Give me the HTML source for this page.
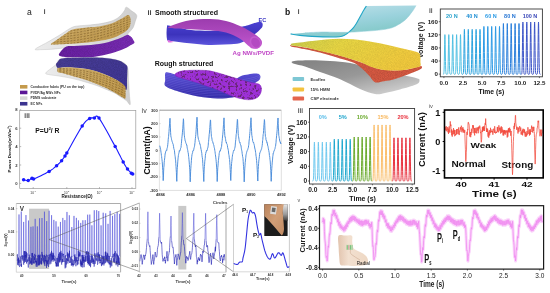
<!DOCTYPE html>
<html><head><meta charset="utf-8"><style>
html,body{margin:0;padding:0;background:#fff;width:550px;height:293px;overflow:hidden}
svg{display:block}
text{font-family:"Liberation Sans",Arial,sans-serif}
</style></head><body>
<svg width="550" height="293" viewBox="0 0 550 293">
<rect width="550" height="293" fill="#fff"/>
<defs>
<linearGradient id="gEco" x1="0.2" y1="0" x2="0.7" y2="1"><stop offset="0" stop-color="#b8dee8"/><stop offset="0.5" stop-color="#8fcdd8"/><stop offset="1" stop-color="#6cbfba"/></linearGradient>
<linearGradient id="gShadow" x1="0" y1="0" x2="0.85" y2="1"><stop offset="0" stop-color="#808080"/><stop offset="0.5" stop-color="#989898"/><stop offset="1" stop-color="#d4d4d4"/></linearGradient>
<linearGradient id="gYel" x1="0" y1="0" x2="1" y2="0.3"><stop offset="0" stop-color="#cdd04c"/><stop offset="0.4" stop-color="#ead844"/><stop offset="1" stop-color="#f4cc3e"/></linearGradient>
<linearGradient id="gMag" x1="0" y1="0" x2="0" y2="1"><stop offset="0" stop-color="#9c3cae"/><stop offset="0.6" stop-color="#b24cc2"/><stop offset="1" stop-color="#c85ad0"/></linearGradient>
<linearGradient id="gBlue" x1="0" y1="0" x2="0" y2="1"><stop offset="0" stop-color="#4a40d2"/><stop offset="0.55" stop-color="#3c33bc"/><stop offset="1" stop-color="#5c54dc"/></linearGradient>
<linearGradient id="gBlueR" x1="0" y1="0" x2="0" y2="1"><stop offset="0" stop-color="#5a50d6"/><stop offset="1" stop-color="#2c24a0"/></linearGradient>
<linearGradient id="gSheet" x1="0" y1="0" x2="1" y2="0"><stop offset="0" stop-color="#ececec"/><stop offset="1" stop-color="#cfcfcf"/></linearGradient>
<linearGradient id="gGold" x1="0" y1="0" x2="1" y2="1"><stop offset="0" stop-color="#cdac68"/><stop offset="1" stop-color="#b99246"/></linearGradient>
<linearGradient id="gPur" x1="0" y1="0" x2="1" y2="0"><stop offset="0" stop-color="#6a20a4"/><stop offset="1" stop-color="#7c2db8"/></linearGradient>
<linearGradient id="gNavy" x1="0" y1="0" x2="1" y2="1"><stop offset="0" stop-color="#4a3f98"/><stop offset="1" stop-color="#40369a"/></linearGradient>
<filter id="fNoise" x="0" y="0" width="1" height="1"><feTurbulence type="fractalNoise" baseFrequency="1.3" numOctaves="1" seed="3"/><feColorMatrix values="0 0 0 0 0  0 0 0 0 0  0 0 0 0 0  0 0 0 -1.2 0.95"/><feComposite in2="SourceGraphic" operator="in"/></filter>
<filter id="fSpots" x="0" y="0" width="1" height="1"><feTurbulence type="fractalNoise" baseFrequency="0.42" numOctaves="2" seed="5"/><feColorMatrix values="0 0 0 0 0.14  0 0 0 0 0.02  0 0 0 0 0.18  7 0 0 0 -3.7"/><feComposite in2="SourceGraphic" operator="in"/></filter>
<filter id="blur1"><feGaussianBlur stdDeviation="1.6"/></filter>
<filter id="blur05"><feGaussianBlur stdDeviation="0.5"/></filter>
</defs>
<rect x="19.7" y="110.5" width="116.1" height="78.1" fill="none" stroke="#9a9a9a" stroke-width="0.7" />
<line x1="19.7" y1="183.4" x2="21.2" y2="183.4" stroke="#888" stroke-width="0.6" />
<text x="17.7" y="184.9" font-size="4.2" fill="#333" font-weight="bold" text-anchor="end" >0</text>
<line x1="19.7" y1="165" x2="21.2" y2="165" stroke="#888" stroke-width="0.6" />
<text x="17.7" y="166.5" font-size="4.2" fill="#333" font-weight="bold" text-anchor="end" >2</text>
<line x1="19.7" y1="146.6" x2="21.2" y2="146.6" stroke="#888" stroke-width="0.6" />
<text x="17.7" y="148.1" font-size="4.2" fill="#333" font-weight="bold" text-anchor="end" >4</text>
<line x1="19.7" y1="128.2" x2="21.2" y2="128.2" stroke="#888" stroke-width="0.6" />
<text x="17.7" y="129.7" font-size="4.2" fill="#333" font-weight="bold" text-anchor="end" >6</text>
<line x1="19.7" y1="109.8" x2="21.2" y2="109.8" stroke="#888" stroke-width="0.6" />
<text x="17.7" y="111.3" font-size="4.2" fill="#333" font-weight="bold" text-anchor="end" >8</text>
<line x1="33.2" y1="188.6" x2="33.2" y2="187.1" stroke="#888" stroke-width="0.6" />
<text x="32.2" y="193.6" font-size="3.3" fill="#333" font-weight="normal" text-anchor="middle" >10</text>
<text x="34.5" y="191.8" font-size="2.2" fill="#333" font-weight="normal" text-anchor="start" >1</text>
<line x1="66.8" y1="188.6" x2="66.8" y2="187.1" stroke="#888" stroke-width="0.6" />
<text x="65.8" y="193.6" font-size="3.3" fill="#333" font-weight="normal" text-anchor="middle" >10</text>
<text x="68.1" y="191.8" font-size="2.2" fill="#333" font-weight="normal" text-anchor="start" >3</text>
<line x1="99.5" y1="188.6" x2="99.5" y2="187.1" stroke="#888" stroke-width="0.6" />
<text x="98.5" y="193.6" font-size="3.3" fill="#333" font-weight="normal" text-anchor="middle" >10</text>
<text x="100.8" y="191.8" font-size="2.2" fill="#333" font-weight="normal" text-anchor="start" >5</text>
<line x1="132" y1="188.6" x2="132" y2="187.1" stroke="#888" stroke-width="0.6" />
<text x="131" y="193.6" font-size="3.3" fill="#333" font-weight="normal" text-anchor="middle" >10</text>
<text x="133.3" y="191.8" font-size="2.2" fill="#333" font-weight="normal" text-anchor="start" >7</text>
<text x="77" y="198.1" font-size="4.6" fill="#222" font-weight="bold" text-anchor="middle" >Resistance(Ω)</text>
<text x="11.4" y="149" font-size="4.3" fill="#222" font-weight="bold" text-anchor="middle" transform="rotate(-90 11.4 149)" >Power Density(mW/m²)</text>
<text x="24.3" y="118" font-size="6.6" fill="#444" font-weight="bold" text-anchor="start" >iii</text>
<text x="35.3" y="132.6" font-size="6.8" fill="#111" font-weight="bold" text-anchor="start" >P=U<tspan dy="-2.2" font-size="3.8">2</tspan><tspan dy="2.2">/ R</tspan></text>
<polyline points="23.6,179.8 23.96,179.87 24.45,180 25.02,180.14 25.66,180.29 26.33,180.43 27,180.52 27.63,180.55 28.2,180.5 28.73,180.33 29.26,180.06 29.78,179.72 30.29,179.34 30.77,178.96 31.22,178.62 31.64,178.35 32,178.2 32.21,178.22 32.23,178.4 32.15,178.68 32.07,178.99 32.08,179.25 32.27,179.4 32.75,179.38 33.6,179.1 34.93,178.54 36.69,177.73 38.75,176.75 40.98,175.66 43.26,174.52 45.46,173.39 47.45,172.33 49.1,171.4 50.44,170.59 51.6,169.82 52.61,169.09 53.51,168.38 54.32,167.7 55.09,167.03 55.84,166.37 56.6,165.7 57.36,165.04 58.06,164.4 58.73,163.76 59.36,163.14 59.95,162.53 60.52,161.92 61.07,161.31 61.6,160.7 62.11,160.08 62.6,159.44 63.06,158.8 63.5,158.17 63.91,157.55 64.3,156.96 64.66,156.41 65,155.9 65.21,155.61 65.24,155.61 65.19,155.73 65.15,155.84 65.2,155.77 65.43,155.38 65.94,154.5 66.8,153 68.13,150.64 69.88,147.49 71.93,143.78 74.14,139.79 76.41,135.76 78.59,131.94 80.56,128.61 82.2,126 83.53,124.08 84.7,122.59 85.71,121.45 86.62,120.59 87.44,119.94 88.21,119.42 88.95,118.96 89.7,118.5 90.42,118.11 91.07,117.89 91.67,117.81 92.23,117.83 92.77,117.91 93.3,118.01 93.84,118.08 94.4,118.1 94.9,117.89 95.29,117.41 95.62,116.82 95.98,116.3 96.43,116 97.04,116.09 97.87,116.74 99,118.1 100.53,120.38 102.43,123.51 104.59,127.24 106.89,131.33 109.22,135.55 111.45,139.64 113.49,143.37 115.2,146.5 116.62,149.11 117.86,151.48 118.96,153.63 119.94,155.59 120.83,157.38 121.65,159.03 122.43,160.56 123.2,162 123.92,163.3 124.54,164.41 125.1,165.37 125.61,166.21 126.08,166.95 126.54,167.65 127.01,168.32 127.5,169 128.02,169.68 128.56,170.33 129.11,170.93 129.64,171.49 130.15,172 130.62,172.45 131.04,172.86 131.4,173.2 131.7,173.47 131.94,173.66 132.14,173.78 132.29,173.86 132.42,173.91 132.53,173.94 132.62,173.96 132.7,174" fill="none" stroke="#1a1aff" stroke-width="1.1" stroke-linejoin="round" opacity="1" />
<circle cx="23.6" cy="179.8" r="1.75" fill="#1a1aff"/>
<circle cx="28.2" cy="180.5" r="1.75" fill="#1a1aff"/>
<circle cx="32" cy="178.2" r="1.75" fill="#1a1aff"/>
<circle cx="33.6" cy="179.1" r="1.75" fill="#1a1aff"/>
<circle cx="49.1" cy="171.4" r="1.75" fill="#1a1aff"/>
<circle cx="56.6" cy="165.7" r="1.75" fill="#1a1aff"/>
<circle cx="61.6" cy="160.7" r="1.75" fill="#1a1aff"/>
<circle cx="65" cy="155.9" r="1.75" fill="#1a1aff"/>
<circle cx="66.8" cy="153" r="1.75" fill="#1a1aff"/>
<circle cx="82.2" cy="126" r="1.75" fill="#1a1aff"/>
<circle cx="89.7" cy="118.5" r="1.75" fill="#1a1aff"/>
<circle cx="94.4" cy="118.1" r="1.75" fill="#1a1aff"/>
<circle cx="99" cy="118.1" r="1.75" fill="#1a1aff"/>
<circle cx="115.2" cy="146.5" r="1.75" fill="#1a1aff"/>
<circle cx="123.2" cy="162" r="1.75" fill="#1a1aff"/>
<circle cx="127.5" cy="169" r="1.75" fill="#1a1aff"/>
<circle cx="131.4" cy="173.2" r="1.75" fill="#1a1aff"/>
<circle cx="132.7" cy="174" r="1.75" fill="#1a1aff"/>
<line x1="159.4" y1="110.2" x2="281.3" y2="110.2" stroke="#808080" stroke-width="0.8" />
<line x1="281.3" y1="110.2" x2="281.3" y2="190.4" stroke="#c8c8c8" stroke-width="0.6" />
<line x1="159.4" y1="190.4" x2="281.3" y2="190.4" stroke="#c8c8c8" stroke-width="0.6" />
<line x1="159.4" y1="110.2" x2="159.4" y2="190.4" stroke="#d0d0d0" stroke-width="0.6" />
<line x1="159.4" y1="190.29" x2="160.6" y2="190.29" stroke="#aaa" stroke-width="0.5" />
<text x="157.8" y="191.69" font-size="4.0" fill="#333" font-weight="bold" text-anchor="end" >-300</text>
<line x1="159.4" y1="176.96" x2="160.6" y2="176.96" stroke="#aaa" stroke-width="0.5" />
<text x="157.8" y="178.36" font-size="4.0" fill="#333" font-weight="bold" text-anchor="end" >-200</text>
<line x1="159.4" y1="163.63" x2="160.6" y2="163.63" stroke="#aaa" stroke-width="0.5" />
<text x="157.8" y="165.03" font-size="4.0" fill="#333" font-weight="bold" text-anchor="end" >-100</text>
<line x1="159.4" y1="150.3" x2="160.6" y2="150.3" stroke="#aaa" stroke-width="0.5" />
<text x="157.8" y="151.7" font-size="4.0" fill="#333" font-weight="bold" text-anchor="end" >0</text>
<line x1="159.4" y1="136.97" x2="160.6" y2="136.97" stroke="#aaa" stroke-width="0.5" />
<text x="157.8" y="138.37" font-size="4.0" fill="#333" font-weight="bold" text-anchor="end" >100</text>
<line x1="159.4" y1="123.64" x2="160.6" y2="123.64" stroke="#aaa" stroke-width="0.5" />
<text x="157.8" y="125.04" font-size="4.0" fill="#333" font-weight="bold" text-anchor="end" >200</text>
<line x1="159.4" y1="110.31" x2="160.6" y2="110.31" stroke="#aaa" stroke-width="0.5" />
<text x="157.8" y="111.71" font-size="4.0" fill="#333" font-weight="bold" text-anchor="end" >300</text>
<text x="160.4" y="196.1" font-size="4.0" fill="#333" font-weight="bold" text-anchor="middle" >4884</text>
<text x="190.65" y="196.1" font-size="4.0" fill="#333" font-weight="bold" text-anchor="middle" >4886</text>
<text x="220.9" y="196.1" font-size="4.0" fill="#333" font-weight="bold" text-anchor="middle" >4888</text>
<text x="251.15" y="196.1" font-size="4.0" fill="#333" font-weight="bold" text-anchor="middle" >4890</text>
<text x="281.4" y="196.1" font-size="4.0" fill="#333" font-weight="bold" text-anchor="middle" >4892</text>
<text x="149.5" y="150.5" font-size="8.6" fill="#111" font-weight="bold" text-anchor="middle" transform="rotate(-90 149.5 150.5)" >Current(nA)</text>
<text x="141.6" y="113" font-size="7.0" fill="#444" font-weight="normal" text-anchor="start" >iv</text>
<polyline points="159.8,145.67 160,146.91 160.2,147.25 160.4,149.02 160.6,149.41 160.8,150.64 161,152.31 161.2,153.22 161.4,155.36 161.6,156.34 161.8,158.34 162,159.82 162.2,161.6 162.4,163.99 162.6,167.86 162.8,170.66 163,175.58 163.2,180.6 163.4,177.86 163.6,171.97 163.8,167.57 164,166.02 164.2,162.15 164.4,160.61 164.6,159.01 164.8,157.24 165,155.19 165.2,153.24 165.4,153.36 165.6,152.09 165.8,151.28 166,151.14 166.2,150.64 166.4,151.02 166.6,150.75 166.8,150.01 167,148.55 167.2,148.06 167.4,147.38 167.6,146.19 167.8,144.31 168,142.47 168.2,139.76 168.4,137.83 168.6,136.39 168.8,133.9 169,131.6 169.2,128.47 169.4,126 169.6,123.92 169.8,120.11 170,118.28 170.2,123.37 170.4,127.92 170.6,132.28 170.8,135.39 171,137.11 171.2,137.4 171.4,138.39 171.6,139.78 171.8,140.22 172,141.54 172.2,141.6 172.4,142.31 172.6,142.9 172.8,143.64 173,143.7 173.2,144.34 173.4,145.98 173.6,146.73 173.8,148.54 174,148.69 174.2,149.77 174.4,150.31 174.6,152.05 174.8,154.28 175,155.65 175.2,156.78 175.4,159.16 175.6,160.08 175.8,163.41 176,166.41 176.2,169.42 176.4,172.66 176.6,178.96 176.8,181.36 177,175.04 177.2,169.1 177.4,167.37 177.6,164.09 177.8,161.16 178,158.92 178.2,157.21 178.4,155.35 178.6,154.33 178.8,153.41 179,152.75 179.2,151.32 179.4,150.49 179.6,151.3 179.8,151 180,150.66 180.2,150.39 180.4,149.22 180.6,148.26 180.8,147.86 181,147.38 181.2,145.38 181.4,143.4 181.6,141.09 181.8,138.52 182,136.82 182.2,135 182.4,132.81 182.6,130.07 182.8,128.23 183,124.44 183.2,121.86 183.4,118.76 183.6,120.12 183.8,126.14 184,130.17 184.2,134.12 184.4,135.75 184.6,137.64 184.8,138.76 185,139.7 185.2,140.89 185.4,141.22 185.6,142.17 185.8,142.82 186,143.19 186.2,143.82 186.4,144.05 186.6,145.07 186.8,144.94 187,146.29 187.2,147.92 187.4,148.78 187.6,149.66 187.8,150.65 188,152.22 188.2,152.77 188.4,154.09 188.6,156.3 188.8,157.79 189,159.83 189.2,162.03 189.4,164.64 189.6,167.68 189.8,169.86 190,176.2 190.2,181.83 190.4,177.36 190.6,171.79 190.8,168.67 191,165.36 191.2,163.26 191.4,160.29 191.6,157.89 191.8,156.25 192,154.67 192.2,153.98 192.4,153.11 192.6,152.64 192.8,151.1 193,150.92 193.2,150.33 193.4,150.66 193.6,150.54 193.8,149.2 194,148.14 194.2,147.49 194.4,146.72 194.6,145.88 194.8,143.93 195,142.56 195.2,140.13 195.4,138.29 195.6,136.68 195.8,134.63 196,131.93 196.2,129.29 196.4,126.05 196.6,123.03 196.8,120.82 197,117.19 197.2,122.61 197.4,127.65 197.6,132 197.8,135.74 198,136.86 198.2,138.03 198.4,139.14 198.6,139.71 198.8,140.19 199,140.84 199.2,141.89 199.4,142.23 199.6,142.61 199.8,144.13 200,143.94 200.2,144.39 200.4,145.57 200.6,146.61 200.8,147.98 201,149.39 201.2,149.58 201.4,151.19 201.6,152.08 201.8,153.36 202,155.64 202.2,157.14 202.4,157.92 202.6,159.73 202.8,163.4 203,166.39 203.2,169.29 203.4,172.48 203.6,178.06 203.8,181.5 204,174.46 204.2,168.96 204.4,166.6 204.6,164.22 204.8,161.17 205,159.92 205.2,158.28 205.4,155.2 205.6,153.83 205.8,153.26 206,151.99 206.2,151.92 206.4,150.6 206.6,150.4 206.8,150.95 207,150.63 207.2,150.31 207.4,149.55 207.6,148.26 207.8,147.87 208,146.82 208.2,145.77 208.4,142.68 208.6,141.37 208.8,139.18 209,136.96 209.2,134.48 209.4,133.08 209.6,129.75 209.8,127.64 210,124.93 210.2,122.2 210.4,119.9 210.6,120.6 210.8,126.42 211,130.7 211.2,133.19 211.4,136.37 211.6,137.09 211.8,137.88 212,139.23 212.2,140.67 212.4,140.98 212.6,141.5 212.8,141.77 213,143.25 213.2,143.21 213.4,144.2 213.6,144.73 213.8,145.08 214,146.43 214.2,147.37 214.4,148.11 214.6,148.91 214.8,150.54 215,151.57 215.2,153.23 215.4,154.73 215.6,156 215.8,157.83 216,159.23 216.2,161.53 216.4,163.84 216.6,167.1 216.8,169.79 217,175.16 217.2,181.52 217.4,177.88 217.6,171.24 217.8,167.75 218,165.9 218.2,163.13 218.4,160.41 218.6,159.1 218.8,157.08 219,155.5 219.2,153.44 219.4,152.55 219.6,151.67 219.8,151.93 220,150.68 220.2,150.49 220.4,150.91 220.6,149.66 220.8,149 221,149.16 221.2,147.36 221.4,147.27 221.6,146.32 221.8,143.6 222,141.76 222.2,140.6 222.4,138.19 222.6,136.03 222.8,134.21 223,132.04 223.2,129.21 223.4,126.01 223.6,124.28 223.8,120.67 224,117.85 224.2,123.9 224.4,128.49 224.6,131.65 224.8,135.35 225,137.08 225.2,136.98 225.4,138.36 225.6,139.24 225.8,141.25 226,141.61 226.2,142.48 226.4,142.06 226.6,143.31 226.8,144.07 227,144.25 227.2,144.39 227.4,145.52 227.6,147.27 227.8,148.42 228,148.4 228.2,149.87 228.4,150.7 228.6,153.02 228.8,154.58 229,155.25 229.2,157.11 229.4,159.09 229.6,159.45 229.8,162.78 230,165.49 230.2,169.38 230.4,172.55 230.6,179.05 230.8,180.54 231,174.96 231.2,169.81 231.4,166.74 231.6,163.45 231.8,161.54 232,159.93 232.2,157.6 232.4,156.18 232.6,154.55 232.8,153.75 233,153.17 233.2,152.23 233.4,151.35 233.6,151.09 233.8,150.22 234,150.58 234.2,150.03 234.4,149.63 234.6,148.58 234.8,148.19 235,147.05 235.2,145.92 235.4,142.91 235.6,141.11 235.8,139.54 236,137.11 236.2,134.44 236.4,133.5 236.6,129.88 236.8,127.73 237,124.98 237.2,121.78 237.4,119.4 237.6,120.51 237.8,125.75 238,129.4 238.2,133.8 238.4,135.49 238.6,136.78 238.8,138 239,139.44 239.2,140.64 239.4,141.6 239.6,142.07 239.8,142.72 240,142.4 240.2,143.62 240.4,144.31 240.6,144.99 240.8,144.98 241,145.95 241.2,147.22 241.4,148.74 241.6,149.8 241.8,150.74 242,151.78 242.2,153.69 242.4,154.82 242.6,156.57 242.8,157.15 243,158.65 243.2,161.43 243.4,164.77 243.6,166.74 243.8,170.55 244,175.94 244.2,181.86 244.4,178.12 244.6,171.86 244.8,168.2 245,165.81 245.2,162.62 245.4,160.99 245.6,158.85 245.8,157.28 246,155.07 246.2,154.28 246.4,153.57 246.6,152.46 246.8,151.82 247,150.85 247.2,150.66 247.4,150.1 247.6,149.96 247.8,149.33 248,148.28 248.2,148.11 248.4,147.36 248.6,145.65 248.8,144.72 249,141.9 249.2,139.96 249.4,138.71 249.6,135.6 249.8,133.47 250,131.47 250.2,128.66 250.4,125.89 250.6,124.12 250.8,120.71 251,117.77 251.2,122.81 251.4,127.85 251.6,131.38 251.8,135.26 252,135.97 252.2,137.38 252.4,138.49 252.6,140.23 252.8,141.35 253,141.78 253.2,142.05 253.4,142.96 253.6,142.56 253.8,143.5 254,143.98 254.2,144.77 254.4,145.7 254.6,146.96 254.8,148.61 255,148.56 255.2,149.63 255.4,150.96 255.6,152.43 255.8,153.78 256,156.08 256.2,156.69 256.4,158.85 256.6,160.6 256.8,163.28 257,165.59 257.2,169.22 257.4,172.7 257.6,177.84 257.8,181.03 258,175.05 258.2,169.63 258.4,166.56 258.6,163.66 258.8,161.07 259,159.24 259.2,158.19 259.4,156.3 259.6,154.36 259.8,152.98 260,152.83 260.2,151.74 260.4,151.75 260.6,151.42 260.8,150.87 261,150.07 261.2,149.78 261.4,148.97 261.6,148.65 261.8,147.52 262,146.76 262.2,145.32 262.4,143.73 262.6,140.65 262.8,139.52 263,136.44 263.2,134.44 263.4,133.61 263.6,130.36 263.8,127.21 264,124.35 264.2,122.3 264.4,119.57 264.6,120.9 264.8,125.41 265,130.42 265.2,133.48 265.4,136.41 265.6,137.03 265.8,137.58 266,139.8 266.2,140.01 266.4,141 266.6,141.06 266.8,141.88 267,143.08 267.2,142.76 267.4,143.88 267.6,145.07 267.8,146.1 268,146.46 268.2,147.52 268.4,148.72 268.6,149.94 268.8,150.67 269,151.97 269.2,152.78 269.4,155.41 269.6,155.92 269.8,157.31 270,159.78 270.2,160.93 270.4,164.15 270.6,166.83 270.8,170.58 271,175.92 271.2,181.34 271.4,177.29 271.6,171.71 271.8,168.39 272,165.51 272.2,162.92 272.4,160.93 272.6,159.06 272.8,156.29 273,155.22 273.2,153.09 273.4,153.27 273.6,152.51 273.8,151.45 274,151.38 274.2,150.87 274.4,149.83 274.6,149.65 274.8,149.2 275,148.61 275.2,147.41 275.4,146.54 275.6,146.24 275.8,143.96 276,142.8 276.2,139.84 276.4,138.16 276.6,135.71 276.8,133.8 277,131.92 277.2,129.57 277.4,125.74 277.6,124.14 277.8,120.78 278,117.98 278.2,123.53 278.4,127.94 278.6,131.18 278.8,135.69 279,136.29 279.2,137.89 279.4,138.67 279.6,140.01 279.8,141.16 280,141.74 280.2,142.25 280.4,141.89 280.6,143.01 280.8,143.95 281,143.61" fill="none" stroke="#4a8cda" stroke-width="0.95" stroke-linejoin="round" opacity="1" />
<rect x="440.3" y="9" width="102.1" height="67.8" fill="none" stroke="#3a3a3a" stroke-width="0.9" />
<line x1="440.3" y1="74.1" x2="438.8" y2="74.1" stroke="#333" stroke-width="0.7" />
<text x="438" y="76.3" font-size="6.2" fill="#222" font-weight="bold" text-anchor="end" >0</text>
<line x1="440.3" y1="61" x2="438.8" y2="61" stroke="#333" stroke-width="0.7" />
<text x="438" y="63.2" font-size="6.2" fill="#222" font-weight="bold" text-anchor="end" >40</text>
<line x1="440.3" y1="47.9" x2="438.8" y2="47.9" stroke="#333" stroke-width="0.7" />
<text x="438" y="50.1" font-size="6.2" fill="#222" font-weight="bold" text-anchor="end" >80</text>
<line x1="440.3" y1="34.8" x2="438.8" y2="34.8" stroke="#333" stroke-width="0.7" />
<text x="438" y="37" font-size="6.2" fill="#222" font-weight="bold" text-anchor="end" >120</text>
<line x1="440.3" y1="21.7" x2="438.8" y2="21.7" stroke="#333" stroke-width="0.7" />
<text x="438" y="23.9" font-size="6.2" fill="#222" font-weight="bold" text-anchor="end" >160</text>
<line x1="443.9" y1="76.8" x2="443.9" y2="78.1" stroke="#333" stroke-width="0.7" />
<text x="443.9" y="84.8" font-size="6.2" fill="#222" font-weight="bold" text-anchor="middle" >0.0</text>
<line x1="463" y1="76.8" x2="463" y2="78.1" stroke="#333" stroke-width="0.7" />
<text x="463" y="84.8" font-size="6.2" fill="#222" font-weight="bold" text-anchor="middle" >2.5</text>
<line x1="482.1" y1="76.8" x2="482.1" y2="78.1" stroke="#333" stroke-width="0.7" />
<text x="482.1" y="84.8" font-size="6.2" fill="#222" font-weight="bold" text-anchor="middle" >5.0</text>
<line x1="501.2" y1="76.8" x2="501.2" y2="78.1" stroke="#333" stroke-width="0.7" />
<text x="501.2" y="84.8" font-size="6.2" fill="#222" font-weight="bold" text-anchor="middle" >7.5</text>
<line x1="520.3" y1="76.8" x2="520.3" y2="78.1" stroke="#333" stroke-width="0.7" />
<text x="520.3" y="84.8" font-size="6.2" fill="#222" font-weight="bold" text-anchor="middle" >10.0</text>
<line x1="539.4" y1="76.8" x2="539.4" y2="78.1" stroke="#333" stroke-width="0.7" />
<text x="539.4" y="84.8" font-size="6.2" fill="#222" font-weight="bold" text-anchor="middle" >12.5</text>
<text x="491.3" y="93.5" font-size="8.0" fill="#111" font-weight="bold" text-anchor="middle" textLength="25.8" lengthAdjust="spacingAndGlyphs" >Time (s)</text>
<text x="422.6" y="40" font-size="7.0" fill="#222" font-weight="bold" text-anchor="middle" transform="rotate(-90 422.6 40)" >Voltage (V)</text>
<text x="428.9" y="13.4" font-size="6.6" fill="#555" font-weight="bold" text-anchor="start" >ii</text>
<polyline points="442.95,74.3 443.05,74.29 443.14,74.28 443.24,74.26 443.34,74.22 443.44,74.18 443.53,74.12 443.63,74.02 443.73,73.83 443.83,73.44 443.92,72.68 444.02,71.32 444.12,69.1 444.22,65.82 444.31,61.4 444.41,56 444.51,50.04 444.61,44.18 444.7,39.19 444.8,35.83 444.9,34.64 445,35.83 445.09,39.19 445.19,44.18 445.29,50.04 445.39,56 445.48,61.4 445.58,65.82 445.68,69.1 445.78,71.32 445.88,72.68 445.97,73.44 446.07,73.83 446.17,74.02 446.26,74.12 446.36,74.18 446.46,74.22 446.56,74.26 446.65,74.28 446.75,74.29 446.85,74.3" fill="none" stroke="#4fc0e3" stroke-width="1.0" stroke-linejoin="round" opacity="1" />
<polyline points="446.85,74.3 446.95,74.29 447.04,74.28 447.14,74.26 447.24,74.22 447.34,74.18 447.43,74.12 447.53,74.02 447.63,73.83 447.73,73.44 447.82,72.68 447.92,71.32 448.02,69.1 448.12,65.82 448.21,61.4 448.31,56 448.41,50.04 448.51,44.18 448.6,39.19 448.7,35.83 448.8,34.64 448.9,35.83 448.99,39.19 449.09,44.18 449.19,50.04 449.29,56 449.38,61.4 449.48,65.82 449.58,69.1 449.68,71.32 449.77,72.68 449.87,73.44 449.97,73.83 450.07,74.02 450.16,74.12 450.26,74.18 450.36,74.22 450.46,74.26 450.55,74.28 450.65,74.29 450.75,74.3" fill="none" stroke="#4fc0e3" stroke-width="1.0" stroke-linejoin="round" opacity="1" />
<polyline points="450.75,74.3 450.85,74.29 450.94,74.28 451.04,74.26 451.14,74.22 451.24,74.18 451.33,74.12 451.43,74.02 451.53,73.83 451.63,73.44 451.73,72.68 451.82,71.32 451.92,69.1 452.02,65.82 452.12,61.4 452.21,56 452.31,50.04 452.41,44.18 452.5,39.19 452.6,35.83 452.7,34.64 452.8,35.83 452.89,39.19 452.99,44.18 453.09,50.04 453.19,56 453.28,61.4 453.38,65.82 453.48,69.1 453.58,71.32 453.67,72.68 453.77,73.44 453.87,73.83 453.97,74.02 454.06,74.12 454.16,74.18 454.26,74.22 454.36,74.26 454.45,74.28 454.55,74.29 454.65,74.3" fill="none" stroke="#4fc0e3" stroke-width="1.0" stroke-linejoin="round" opacity="1" />
<polyline points="454.65,74.3 454.75,74.29 454.84,74.28 454.94,74.26 455.04,74.22 455.14,74.18 455.23,74.12 455.33,74.02 455.43,73.83 455.53,73.44 455.62,72.68 455.72,71.32 455.82,69.1 455.92,65.82 456.01,61.4 456.11,56 456.21,50.04 456.31,44.18 456.4,39.19 456.5,35.83 456.6,34.64 456.7,35.83 456.79,39.19 456.89,44.18 456.99,50.04 457.09,56 457.18,61.4 457.28,65.82 457.38,69.1 457.48,71.32 457.57,72.68 457.67,73.44 457.77,73.83 457.87,74.02 457.96,74.12 458.06,74.18 458.16,74.22 458.26,74.26 458.35,74.28 458.45,74.29 458.55,74.3" fill="none" stroke="#4fc0e3" stroke-width="1.0" stroke-linejoin="round" opacity="1" />
<polyline points="458.55,74.3 458.65,74.29 458.75,74.28 458.84,74.26 458.94,74.22 459.04,74.18 459.13,74.12 459.23,74.02 459.33,73.83 459.43,73.44 459.52,72.68 459.62,71.32 459.72,69.1 459.82,65.82 459.92,61.4 460.01,56 460.11,50.04 460.21,44.18 460.31,39.19 460.4,35.83 460.5,34.64 460.6,35.83 460.69,39.19 460.79,44.18 460.89,50.04 460.99,56 461.08,61.4 461.18,65.82 461.28,69.1 461.38,71.32 461.48,72.68 461.57,73.44 461.67,73.83 461.77,74.02 461.87,74.12 461.96,74.18 462.06,74.22 462.16,74.26 462.25,74.28 462.35,74.29 462.45,74.3" fill="none" stroke="#4fc0e3" stroke-width="1.0" stroke-linejoin="round" opacity="1" />
<polyline points="462.45,74.3 462.55,74.29 462.64,74.28 462.74,74.26 462.84,74.22 462.94,74.18 463.03,74.11 463.13,74.01 463.23,73.8 463.33,73.37 463.42,72.51 463.52,70.98 463.62,68.47 463.72,64.75 463.81,59.75 463.91,53.63 464.01,46.87 464.11,40.22 464.2,34.56 464.3,30.74 464.4,29.4 464.5,30.74 464.59,34.56 464.69,40.22 464.79,46.87 464.89,53.63 464.98,59.75 465.08,64.75 465.18,68.47 465.28,70.98 465.38,72.51 465.47,73.37 465.57,73.8 465.67,74.01 465.76,74.11 465.86,74.18 465.96,74.22 466.06,74.26 466.15,74.28 466.25,74.29 466.35,74.3" fill="none" stroke="#2aa3df" stroke-width="1.0" stroke-linejoin="round" opacity="1" />
<polyline points="466.35,74.3 466.45,74.29 466.54,74.28 466.64,74.26 466.74,74.22 466.84,74.18 466.93,74.11 467.03,74.01 467.13,73.8 467.23,73.37 467.32,72.51 467.42,70.98 467.52,68.47 467.62,64.75 467.71,59.75 467.81,53.63 467.91,46.87 468.01,40.22 468.1,34.56 468.2,30.74 468.3,29.4 468.4,30.74 468.49,34.56 468.59,40.22 468.69,46.87 468.79,53.63 468.88,59.75 468.98,64.75 469.08,68.47 469.18,70.98 469.27,72.51 469.37,73.37 469.47,73.8 469.57,74.01 469.66,74.11 469.76,74.18 469.86,74.22 469.96,74.26 470.05,74.28 470.15,74.29 470.25,74.3" fill="none" stroke="#2aa3df" stroke-width="1.0" stroke-linejoin="round" opacity="1" />
<polyline points="470.25,74.3 470.35,74.29 470.44,74.28 470.54,74.26 470.64,74.22 470.74,74.18 470.83,74.11 470.93,74.01 471.03,73.8 471.13,73.37 471.23,72.51 471.32,70.98 471.42,68.47 471.52,64.75 471.62,59.75 471.71,53.63 471.81,46.87 471.91,40.22 472,34.56 472.1,30.74 472.2,29.4 472.3,30.74 472.39,34.56 472.49,40.22 472.59,46.87 472.69,53.63 472.78,59.75 472.88,64.75 472.98,68.47 473.08,70.98 473.17,72.51 473.27,73.37 473.37,73.8 473.47,74.01 473.56,74.11 473.66,74.18 473.76,74.22 473.86,74.26 473.95,74.28 474.05,74.29 474.15,74.3" fill="none" stroke="#2aa3df" stroke-width="1.0" stroke-linejoin="round" opacity="1" />
<polyline points="474.15,74.3 474.25,74.29 474.34,74.28 474.44,74.26 474.54,74.22 474.64,74.18 474.73,74.11 474.83,74.01 474.93,73.8 475.03,73.37 475.12,72.51 475.22,70.98 475.32,68.47 475.42,64.75 475.51,59.75 475.61,53.63 475.71,46.87 475.81,40.22 475.9,34.56 476,30.74 476.1,29.4 476.2,30.74 476.29,34.56 476.39,40.22 476.49,46.87 476.59,53.63 476.68,59.75 476.78,64.75 476.88,68.47 476.98,70.98 477.07,72.51 477.17,73.37 477.27,73.8 477.37,74.01 477.46,74.11 477.56,74.18 477.66,74.22 477.76,74.26 477.85,74.28 477.95,74.29 478.05,74.3" fill="none" stroke="#2aa3df" stroke-width="1.0" stroke-linejoin="round" opacity="1" />
<polyline points="478.05,74.3 478.15,74.29 478.25,74.28 478.34,74.26 478.44,74.22 478.54,74.18 478.63,74.11 478.73,74.01 478.83,73.8 478.93,73.37 479.02,72.51 479.12,70.98 479.22,68.47 479.32,64.75 479.42,59.75 479.51,53.63 479.61,46.87 479.71,40.22 479.81,34.56 479.9,30.74 480,29.4 480.1,30.74 480.19,34.56 480.29,40.22 480.39,46.87 480.49,53.63 480.58,59.75 480.68,64.75 480.78,68.47 480.88,70.98 480.98,72.51 481.07,73.37 481.17,73.8 481.27,74.01 481.37,74.11 481.46,74.18 481.56,74.22 481.66,74.26 481.75,74.28 481.85,74.29 481.95,74.3" fill="none" stroke="#2aa3df" stroke-width="1.0" stroke-linejoin="round" opacity="1" />
<polyline points="481.95,74.3 482.05,74.29 482.14,74.28 482.24,74.26 482.34,74.22 482.44,74.18 482.53,74.11 482.63,74.01 482.73,73.79 482.83,73.33 482.92,72.42 483.02,70.79 483.12,68.12 483.22,64.15 483.31,58.82 483.41,52.29 483.51,45.09 483.61,37.99 483.7,31.95 483.8,27.89 483.9,26.45 484,27.89 484.09,31.95 484.19,37.99 484.29,45.09 484.39,52.29 484.48,58.82 484.58,64.15 484.68,68.12 484.78,70.79 484.88,72.42 484.97,73.33 485.07,73.79 485.17,74.01 485.26,74.11 485.36,74.18 485.46,74.22 485.56,74.26 485.65,74.28 485.75,74.29 485.85,74.3" fill="none" stroke="#2b9ae6" stroke-width="1.0" stroke-linejoin="round" opacity="1" />
<polyline points="485.85,74.3 485.95,74.29 486.04,74.28 486.14,74.26 486.24,74.22 486.34,74.18 486.43,74.11 486.53,74.01 486.63,73.79 486.73,73.33 486.82,72.42 486.92,70.79 487.02,68.12 487.12,64.15 487.21,58.82 487.31,52.29 487.41,45.09 487.51,37.99 487.6,31.95 487.7,27.89 487.8,26.45 487.9,27.89 487.99,31.95 488.09,37.99 488.19,45.09 488.29,52.29 488.38,58.82 488.48,64.15 488.58,68.12 488.68,70.79 488.77,72.42 488.87,73.33 488.97,73.79 489.07,74.01 489.16,74.11 489.26,74.18 489.36,74.22 489.46,74.26 489.55,74.28 489.65,74.29 489.75,74.3" fill="none" stroke="#2b9ae6" stroke-width="1.0" stroke-linejoin="round" opacity="1" />
<polyline points="489.75,74.3 489.85,74.29 489.94,74.28 490.04,74.26 490.14,74.22 490.24,74.18 490.33,74.11 490.43,74.01 490.53,73.79 490.63,73.33 490.73,72.42 490.82,70.79 490.92,68.12 491.02,64.15 491.12,58.82 491.21,52.29 491.31,45.09 491.41,37.99 491.5,31.95 491.6,27.89 491.7,26.45 491.8,27.89 491.89,31.95 491.99,37.99 492.09,45.09 492.19,52.29 492.28,58.82 492.38,64.15 492.48,68.12 492.58,70.79 492.67,72.42 492.77,73.33 492.87,73.79 492.97,74.01 493.06,74.11 493.16,74.18 493.26,74.22 493.36,74.26 493.45,74.28 493.55,74.29 493.65,74.3" fill="none" stroke="#2b9ae6" stroke-width="1.0" stroke-linejoin="round" opacity="1" />
<polyline points="493.65,74.3 493.75,74.29 493.84,74.28 493.94,74.26 494.04,74.22 494.14,74.18 494.23,74.11 494.33,74.01 494.43,73.79 494.53,73.33 494.62,72.42 494.72,70.79 494.82,68.12 494.92,64.15 495.01,58.82 495.11,52.29 495.21,45.09 495.31,37.99 495.4,31.95 495.5,27.89 495.6,26.45 495.7,27.89 495.79,31.95 495.89,37.99 495.99,45.09 496.09,52.29 496.18,58.82 496.28,64.15 496.38,68.12 496.48,70.79 496.57,72.42 496.67,73.33 496.77,73.79 496.87,74.01 496.96,74.11 497.06,74.18 497.16,74.22 497.26,74.26 497.35,74.28 497.45,74.29 497.55,74.3" fill="none" stroke="#2b9ae6" stroke-width="1.0" stroke-linejoin="round" opacity="1" />
<polyline points="497.55,74.3 497.65,74.29 497.75,74.28 497.84,74.26 497.94,74.22 498.04,74.18 498.13,74.11 498.23,74.01 498.33,73.79 498.43,73.33 498.52,72.42 498.62,70.79 498.72,68.12 498.82,64.15 498.92,58.82 499.01,52.29 499.11,45.09 499.21,37.99 499.31,31.95 499.4,27.89 499.5,26.45 499.6,27.89 499.69,31.95 499.79,37.99 499.89,45.09 499.99,52.29 500.08,58.82 500.18,64.15 500.28,68.12 500.38,70.79 500.48,72.42 500.57,73.33 500.67,73.79 500.77,74.01 500.87,74.11 500.96,74.18 501.06,74.22 501.16,74.26 501.25,74.28 501.35,74.29 501.45,74.3" fill="none" stroke="#2b9ae6" stroke-width="1.0" stroke-linejoin="round" opacity="1" />
<polyline points="501.45,74.3 501.55,74.29 501.64,74.28 501.74,74.26 501.84,74.22 501.94,74.18 502.03,74.11 502.13,74 502.23,73.77 502.33,73.29 502.42,72.33 502.52,70.6 502.62,67.76 502.72,63.56 502.81,57.89 502.91,50.96 503.01,43.3 503.11,35.76 503.2,29.35 503.3,25.03 503.4,23.5 503.5,25.03 503.59,29.35 503.69,35.76 503.79,43.3 503.89,50.96 503.98,57.89 504.08,63.56 504.18,67.76 504.28,70.6 504.38,72.33 504.47,73.29 504.57,73.77 504.67,74 504.76,74.11 504.86,74.18 504.96,74.22 505.06,74.26 505.15,74.28 505.25,74.29 505.35,74.3" fill="none" stroke="#2a7fdc" stroke-width="1.0" stroke-linejoin="round" opacity="1" />
<polyline points="505.35,74.3 505.45,74.29 505.54,74.28 505.64,74.26 505.74,74.22 505.84,74.18 505.93,74.11 506.03,74 506.13,73.77 506.23,73.29 506.32,72.33 506.42,70.6 506.52,67.76 506.62,63.56 506.71,57.89 506.81,50.96 506.91,43.3 507.01,35.76 507.1,29.35 507.2,25.03 507.3,23.5 507.4,25.03 507.49,29.35 507.59,35.76 507.69,43.3 507.79,50.96 507.88,57.89 507.98,63.56 508.08,67.76 508.18,70.6 508.27,72.33 508.37,73.29 508.47,73.77 508.57,74 508.66,74.11 508.76,74.18 508.86,74.22 508.96,74.26 509.05,74.28 509.15,74.29 509.25,74.3" fill="none" stroke="#2a7fdc" stroke-width="1.0" stroke-linejoin="round" opacity="1" />
<polyline points="509.25,74.3 509.35,74.29 509.44,74.28 509.54,74.26 509.64,74.22 509.74,74.18 509.83,74.11 509.93,74 510.03,73.77 510.13,73.29 510.23,72.33 510.32,70.6 510.42,67.76 510.52,63.56 510.62,57.89 510.71,50.96 510.81,43.3 510.91,35.76 511,29.35 511.1,25.03 511.2,23.5 511.3,25.03 511.39,29.35 511.49,35.76 511.59,43.3 511.69,50.96 511.78,57.89 511.88,63.56 511.98,67.76 512.08,70.6 512.17,72.33 512.27,73.29 512.37,73.77 512.47,74 512.56,74.11 512.66,74.18 512.76,74.22 512.86,74.26 512.95,74.28 513.05,74.29 513.15,74.3" fill="none" stroke="#2a7fdc" stroke-width="1.0" stroke-linejoin="round" opacity="1" />
<polyline points="513.15,74.3 513.25,74.29 513.35,74.28 513.44,74.26 513.54,74.22 513.64,74.18 513.74,74.11 513.83,74 513.93,73.77 514.03,73.29 514.12,72.33 514.22,70.6 514.32,67.76 514.42,63.56 514.51,57.89 514.61,50.96 514.71,43.3 514.81,35.76 514.9,29.35 515,25.03 515.1,23.5 515.2,25.03 515.3,29.35 515.39,35.76 515.49,43.3 515.59,50.96 515.69,57.89 515.78,63.56 515.88,67.76 515.98,70.6 516.08,72.33 516.17,73.29 516.27,73.77 516.37,74 516.47,74.11 516.56,74.18 516.66,74.22 516.76,74.26 516.86,74.28 516.95,74.29 517.05,74.3" fill="none" stroke="#2a7fdc" stroke-width="1.0" stroke-linejoin="round" opacity="1" />
<polyline points="517.05,74.3 517.15,74.29 517.25,74.28 517.34,74.26 517.44,74.22 517.54,74.18 517.63,74.11 517.73,74 517.83,73.77 517.93,73.29 518.02,72.33 518.12,70.6 518.22,67.76 518.32,63.56 518.41,57.89 518.51,50.96 518.61,43.3 518.71,35.76 518.8,29.35 518.9,25.03 519,23.5 519.1,25.03 519.2,29.35 519.29,35.76 519.39,43.3 519.49,50.96 519.59,57.89 519.68,63.56 519.78,67.76 519.88,70.6 519.98,72.33 520.07,73.29 520.17,73.77 520.27,74 520.37,74.11 520.46,74.18 520.56,74.22 520.66,74.26 520.75,74.28 520.85,74.29 520.95,74.3" fill="none" stroke="#2a7fdc" stroke-width="1.0" stroke-linejoin="round" opacity="1" />
<polyline points="520.95,74.3 521.05,74.29 521.14,74.28 521.24,74.26 521.34,74.22 521.44,74.18 521.53,74.11 521.63,74 521.73,73.76 521.83,73.27 521.92,72.29 522.02,70.51 522.12,67.6 522.22,63.28 522.31,57.46 522.41,50.34 522.51,42.47 522.61,34.72 522.7,28.13 522.8,23.7 522.9,22.13 523,23.7 523.1,28.13 523.19,34.72 523.29,42.47 523.39,50.34 523.49,57.46 523.58,63.28 523.68,67.6 523.78,70.51 523.88,72.29 523.97,73.27 524.07,73.76 524.17,74 524.26,74.11 524.36,74.18 524.46,74.22 524.56,74.26 524.65,74.28 524.75,74.29 524.85,74.3" fill="none" stroke="#3c55c8" stroke-width="1.0" stroke-linejoin="round" opacity="1" />
<polyline points="524.85,74.3 524.95,74.29 525.04,74.28 525.14,74.26 525.24,74.22 525.34,74.18 525.43,74.11 525.53,74 525.63,73.76 525.73,73.27 525.82,72.29 525.92,70.51 526.02,67.6 526.12,63.28 526.21,57.46 526.31,50.34 526.41,42.47 526.51,34.72 526.6,28.13 526.7,23.7 526.8,22.13 526.9,23.7 527,28.13 527.09,34.72 527.19,42.47 527.29,50.34 527.38,57.46 527.48,63.28 527.58,67.6 527.68,70.51 527.77,72.29 527.87,73.27 527.97,73.76 528.07,74 528.16,74.11 528.26,74.18 528.36,74.22 528.46,74.26 528.55,74.28 528.65,74.29 528.75,74.3" fill="none" stroke="#3c55c8" stroke-width="1.0" stroke-linejoin="round" opacity="1" />
<polyline points="528.75,74.3 528.85,74.29 528.94,74.28 529.04,74.26 529.14,74.22 529.24,74.18 529.33,74.11 529.43,74 529.53,73.76 529.63,73.27 529.72,72.29 529.82,70.51 529.92,67.6 530.02,63.28 530.11,57.46 530.21,50.34 530.31,42.47 530.41,34.72 530.5,28.13 530.6,23.7 530.7,22.13 530.8,23.7 530.89,28.13 530.99,34.72 531.09,42.47 531.19,50.34 531.28,57.46 531.38,63.28 531.48,67.6 531.58,70.51 531.67,72.29 531.77,73.27 531.87,73.76 531.97,74 532.06,74.11 532.16,74.18 532.26,74.22 532.36,74.26 532.45,74.28 532.55,74.29 532.65,74.3" fill="none" stroke="#3c55c8" stroke-width="1.0" stroke-linejoin="round" opacity="1" />
<polyline points="532.65,74.3 532.75,74.29 532.85,74.28 532.94,74.26 533.04,74.22 533.14,74.18 533.24,74.11 533.33,74 533.43,73.76 533.53,73.27 533.62,72.29 533.72,70.51 533.82,67.6 533.92,63.28 534.01,57.46 534.11,50.34 534.21,42.47 534.31,34.72 534.4,28.13 534.5,23.7 534.6,22.13 534.7,23.7 534.8,28.13 534.89,34.72 534.99,42.47 535.09,50.34 535.19,57.46 535.28,63.28 535.38,67.6 535.48,70.51 535.58,72.29 535.67,73.27 535.77,73.76 535.87,74 535.97,74.11 536.06,74.18 536.16,74.22 536.26,74.26 536.36,74.28 536.45,74.29 536.55,74.3" fill="none" stroke="#3c55c8" stroke-width="1.0" stroke-linejoin="round" opacity="1" />
<polyline points="536.55,74.3 536.65,74.29 536.75,74.28 536.84,74.26 536.94,74.22 537.04,74.18 537.13,74.11 537.23,74 537.33,73.76 537.43,73.27 537.52,72.29 537.62,70.51 537.72,67.6 537.82,63.28 537.91,57.46 538.01,50.34 538.11,42.47 538.21,34.72 538.3,28.13 538.4,23.7 538.5,22.13 538.6,23.7 538.7,28.13 538.79,34.72 538.89,42.47 538.99,50.34 539.09,57.46 539.18,63.28 539.28,67.6 539.38,70.51 539.48,72.29 539.57,73.27 539.67,73.76 539.77,74 539.87,74.11 539.96,74.18 540.06,74.22 540.16,74.26 540.25,74.28 540.35,74.29 540.45,74.3" fill="none" stroke="#3c55c8" stroke-width="1.0" stroke-linejoin="round" opacity="1" />
<text x="451.8" y="18.2" font-size="5.5" fill="#2aa2cc" font-weight="bold" text-anchor="middle" >20 N</text>
<text x="472" y="18.2" font-size="5.5" fill="#1e8fd4" font-weight="bold" text-anchor="middle" >40 N</text>
<text x="490.9" y="18.2" font-size="5.5" fill="#2b9be6" font-weight="bold" text-anchor="middle" >60 N</text>
<text x="509.9" y="18.2" font-size="5.5" fill="#2575d4" font-weight="bold" text-anchor="middle" >80 N</text>
<text x="530" y="18.2" font-size="5.5" fill="#3a48b8" font-weight="bold" text-anchor="middle" >100 N</text>
<rect x="309.5" y="108.5" width="105.1" height="75.5" fill="none" stroke="#3a3a3a" stroke-width="0.9" />
<line x1="309.5" y1="181" x2="308" y2="181" stroke="#333" stroke-width="0.7" />
<text x="307.2" y="183.3" font-size="6.6" fill="#222" font-weight="bold" text-anchor="end" >0</text>
<line x1="309.5" y1="166.3" x2="308" y2="166.3" stroke="#333" stroke-width="0.7" />
<text x="307.2" y="168.6" font-size="6.6" fill="#222" font-weight="bold" text-anchor="end" >40</text>
<line x1="309.5" y1="151.6" x2="308" y2="151.6" stroke="#333" stroke-width="0.7" />
<text x="307.2" y="153.9" font-size="6.6" fill="#222" font-weight="bold" text-anchor="end" >80</text>
<line x1="309.5" y1="136.9" x2="308" y2="136.9" stroke="#333" stroke-width="0.7" />
<text x="307.2" y="139.2" font-size="6.6" fill="#222" font-weight="bold" text-anchor="end" >120</text>
<line x1="309.5" y1="122.2" x2="308" y2="122.2" stroke="#333" stroke-width="0.7" />
<text x="307.2" y="124.5" font-size="6.6" fill="#222" font-weight="bold" text-anchor="end" >160</text>
<line x1="312.8" y1="184" x2="312.8" y2="185.3" stroke="#333" stroke-width="0.7" />
<text x="312.8" y="192.3" font-size="6.6" fill="#222" font-weight="bold" text-anchor="middle" >0.0</text>
<line x1="332.68" y1="184" x2="332.68" y2="185.3" stroke="#333" stroke-width="0.7" />
<text x="332.68" y="192.3" font-size="6.6" fill="#222" font-weight="bold" text-anchor="middle" >2.5</text>
<line x1="352.56" y1="184" x2="352.56" y2="185.3" stroke="#333" stroke-width="0.7" />
<text x="352.56" y="192.3" font-size="6.6" fill="#222" font-weight="bold" text-anchor="middle" >5.0</text>
<line x1="372.44" y1="184" x2="372.44" y2="185.3" stroke="#333" stroke-width="0.7" />
<text x="372.44" y="192.3" font-size="6.6" fill="#222" font-weight="bold" text-anchor="middle" >7.5</text>
<line x1="392.32" y1="184" x2="392.32" y2="185.3" stroke="#333" stroke-width="0.7" />
<text x="392.32" y="192.3" font-size="6.6" fill="#222" font-weight="bold" text-anchor="middle" >10.0</text>
<line x1="412.2" y1="184" x2="412.2" y2="185.3" stroke="#333" stroke-width="0.7" />
<text x="412.2" y="192.3" font-size="6.6" fill="#222" font-weight="bold" text-anchor="middle" >12.5</text>
<text x="362.6" y="201.3" font-size="7.6" fill="#111" font-weight="bold" text-anchor="middle" textLength="26.5" lengthAdjust="spacingAndGlyphs" >Time (s)</text>
<text x="292.8" y="144.5" font-size="7.6" fill="#222" font-weight="bold" text-anchor="middle" transform="rotate(-90 292.8 144.5)" >Voltage (V)</text>
<text x="297.8" y="112.8" font-size="6.4" fill="#555" font-weight="bold" text-anchor="start" >iii</text>
<polyline points="312.41,181 312.51,180.99 312.61,180.98 312.71,180.95 312.81,180.91 312.91,180.86 313.01,180.8 313.11,180.69 313.21,180.5 313.31,180.11 313.4,179.36 313.5,178.02 313.6,175.85 313.7,172.65 313.8,168.33 313.9,163.07 314,157.25 314.1,151.53 314.2,146.66 314.3,143.39 314.4,142.23 314.5,143.39 314.6,146.66 314.7,151.53 314.8,157.25 314.9,163.07 315,168.33 315.1,172.65 315.2,175.85 315.3,178.02 315.39,179.36 315.49,180.11 315.59,180.5 315.69,180.69 315.79,180.8 315.89,180.86 315.99,180.91 316.09,180.95 316.19,180.98 316.29,180.99 316.39,181" fill="none" stroke="#6cc8ef" stroke-width="1.0" stroke-linejoin="round" opacity="1" />
<polyline points="316.39,181 316.49,180.99 316.59,180.98 316.69,180.95 316.79,180.91 316.89,180.86 316.99,180.8 317.09,180.69 317.19,180.5 317.29,180.11 317.38,179.36 317.48,178.02 317.58,175.85 317.68,172.65 317.78,168.33 317.88,163.07 317.98,157.25 318.08,151.53 318.18,146.66 318.28,143.39 318.38,142.23 318.48,143.39 318.58,146.66 318.68,151.53 318.78,157.25 318.88,163.07 318.98,168.33 319.08,172.65 319.18,175.85 319.28,178.02 319.38,179.36 319.47,180.11 319.57,180.5 319.67,180.69 319.77,180.8 319.87,180.86 319.97,180.91 320.07,180.95 320.17,180.98 320.27,180.99 320.37,181" fill="none" stroke="#6cc8ef" stroke-width="1.0" stroke-linejoin="round" opacity="1" />
<polyline points="320.37,181 320.47,180.99 320.57,180.98 320.67,180.95 320.77,180.91 320.87,180.86 320.97,180.8 321.07,180.69 321.17,180.5 321.27,180.11 321.36,179.36 321.46,178.02 321.56,175.85 321.66,172.65 321.76,168.33 321.86,163.07 321.96,157.25 322.06,151.53 322.16,146.66 322.26,143.39 322.36,142.23 322.46,143.39 322.56,146.66 322.66,151.53 322.76,157.25 322.86,163.07 322.96,168.33 323.06,172.65 323.16,175.85 323.26,178.02 323.35,179.36 323.45,180.11 323.55,180.5 323.65,180.69 323.75,180.8 323.85,180.86 323.95,180.91 324.05,180.95 324.15,180.98 324.25,180.99 324.35,181" fill="none" stroke="#6cc8ef" stroke-width="1.0" stroke-linejoin="round" opacity="1" />
<polyline points="324.35,181 324.45,180.99 324.55,180.98 324.65,180.95 324.75,180.91 324.85,180.86 324.95,180.8 325.05,180.69 325.15,180.5 325.25,180.11 325.34,179.36 325.44,178.02 325.54,175.85 325.64,172.65 325.74,168.33 325.84,163.07 325.94,157.25 326.04,151.53 326.14,146.66 326.24,143.39 326.34,142.23 326.44,143.39 326.54,146.66 326.64,151.53 326.74,157.25 326.84,163.07 326.94,168.33 327.04,172.65 327.14,175.85 327.24,178.02 327.33,179.36 327.43,180.11 327.53,180.5 327.63,180.69 327.73,180.8 327.83,180.86 327.93,180.91 328.03,180.95 328.13,180.98 328.23,180.99 328.33,181" fill="none" stroke="#6cc8ef" stroke-width="1.0" stroke-linejoin="round" opacity="1" />
<polyline points="328.33,181 328.43,180.99 328.53,180.98 328.63,180.95 328.73,180.91 328.83,180.86 328.93,180.8 329.03,180.69 329.13,180.5 329.23,180.11 329.32,179.36 329.42,178.02 329.52,175.85 329.62,172.65 329.72,168.33 329.82,163.07 329.92,157.25 330.02,151.53 330.12,146.66 330.22,143.39 330.32,142.23 330.42,143.39 330.52,146.66 330.62,151.53 330.72,157.25 330.82,163.07 330.92,168.33 331.02,172.65 331.12,175.85 331.22,178.02 331.31,179.36 331.41,180.11 331.51,180.5 331.61,180.69 331.71,180.8 331.81,180.86 331.91,180.91 332.01,180.95 332.11,180.98 332.21,180.99 332.31,181" fill="none" stroke="#6cc8ef" stroke-width="1.0" stroke-linejoin="round" opacity="1" />
<polyline points="332.31,181 332.41,180.99 332.51,180.98 332.61,180.95 332.71,180.91 332.81,180.86 332.91,180.8 333.01,180.69 333.11,180.48 333.21,180.07 333.3,179.27 333.4,177.83 333.5,175.5 333.6,172.05 333.7,167.41 333.8,161.73 333.9,155.47 334,149.31 334.1,144.06 334.2,140.53 334.3,139.29 334.4,140.53 334.5,144.06 334.6,149.31 334.7,155.47 334.8,161.73 334.9,167.41 335,172.05 335.1,175.5 335.2,177.83 335.29,179.27 335.39,180.07 335.49,180.48 335.59,180.69 335.69,180.8 335.79,180.86 335.89,180.91 335.99,180.95 336.09,180.98 336.19,180.99 336.29,181" fill="none" stroke="#1ea8cf" stroke-width="1.0" stroke-linejoin="round" opacity="1" />
<polyline points="336.29,181 336.39,180.99 336.49,180.98 336.59,180.95 336.69,180.91 336.79,180.86 336.89,180.8 336.99,180.69 337.09,180.48 337.19,180.07 337.28,179.27 337.38,177.83 337.48,175.5 337.58,172.05 337.68,167.41 337.78,161.73 337.88,155.47 337.98,149.31 338.08,144.06 338.18,140.53 338.28,139.29 338.38,140.53 338.48,144.06 338.58,149.31 338.68,155.47 338.78,161.73 338.88,167.41 338.98,172.05 339.08,175.5 339.18,177.83 339.27,179.27 339.37,180.07 339.47,180.48 339.57,180.69 339.67,180.8 339.77,180.86 339.87,180.91 339.97,180.95 340.07,180.98 340.17,180.99 340.27,181" fill="none" stroke="#1ea8cf" stroke-width="1.0" stroke-linejoin="round" opacity="1" />
<polyline points="340.27,181 340.37,180.99 340.47,180.98 340.57,180.95 340.67,180.91 340.77,180.86 340.87,180.8 340.97,180.69 341.07,180.48 341.17,180.07 341.26,179.27 341.36,177.83 341.46,175.5 341.56,172.05 341.66,167.41 341.76,161.73 341.86,155.47 341.96,149.31 342.06,144.06 342.16,140.53 342.26,139.29 342.36,140.53 342.46,144.06 342.56,149.31 342.66,155.47 342.76,161.73 342.86,167.41 342.96,172.05 343.06,175.5 343.16,177.83 343.25,179.27 343.35,180.07 343.45,180.48 343.55,180.69 343.65,180.8 343.75,180.86 343.85,180.91 343.95,180.95 344.05,180.98 344.15,180.99 344.25,181" fill="none" stroke="#1ea8cf" stroke-width="1.0" stroke-linejoin="round" opacity="1" />
<polyline points="344.25,181 344.35,180.99 344.45,180.98 344.55,180.95 344.65,180.91 344.75,180.86 344.85,180.8 344.95,180.69 345.05,180.48 345.15,180.07 345.24,179.27 345.34,177.83 345.44,175.5 345.54,172.05 345.64,167.41 345.74,161.73 345.84,155.47 345.94,149.31 346.04,144.06 346.14,140.53 346.24,139.29 346.34,140.53 346.44,144.06 346.54,149.31 346.64,155.47 346.74,161.73 346.84,167.41 346.94,172.05 347.04,175.5 347.14,177.83 347.23,179.27 347.33,180.07 347.43,180.48 347.53,180.69 347.63,180.8 347.73,180.86 347.83,180.91 347.93,180.95 348.03,180.98 348.13,180.99 348.23,181" fill="none" stroke="#1ea8cf" stroke-width="1.0" stroke-linejoin="round" opacity="1" />
<polyline points="348.23,181 348.33,180.99 348.43,180.98 348.53,180.95 348.63,180.91 348.73,180.86 348.83,180.8 348.93,180.69 349.03,180.48 349.13,180.07 349.22,179.27 349.32,177.83 349.42,175.5 349.52,172.05 349.62,167.41 349.72,161.73 349.82,155.47 349.92,149.31 350.02,144.06 350.12,140.53 350.22,139.29 350.32,140.53 350.42,144.06 350.52,149.31 350.62,155.47 350.72,161.73 350.82,167.41 350.92,172.05 351.02,175.5 351.12,177.83 351.21,179.27 351.31,180.07 351.41,180.48 351.51,180.69 351.61,180.8 351.71,180.86 351.81,180.91 351.91,180.95 352.01,180.98 352.11,180.99 352.21,181" fill="none" stroke="#1ea8cf" stroke-width="1.0" stroke-linejoin="round" opacity="1" />
<polyline points="352.21,181 352.31,180.99 352.41,180.98 352.51,180.95 352.61,180.91 352.71,180.86 352.81,180.79 352.91,180.68 353.01,180.47 353.11,180.04 353.2,179.2 353.3,177.69 353.4,175.23 353.5,171.6 353.6,166.71 353.7,160.74 353.8,154.14 353.9,147.64 354,142.12 354.1,138.4 354.2,137.08 354.3,138.4 354.4,142.12 354.5,147.64 354.6,154.14 354.7,160.74 354.8,166.71 354.9,171.6 355,175.23 355.1,177.69 355.19,179.2 355.29,180.04 355.39,180.47 355.49,180.68 355.59,180.79 355.69,180.86 355.79,180.91 355.89,180.95 355.99,180.98 356.09,180.99 356.19,181" fill="none" stroke="#6aaa2c" stroke-width="1.0" stroke-linejoin="round" opacity="1" />
<polyline points="356.19,181 356.29,180.99 356.39,180.98 356.49,180.95 356.59,180.91 356.69,180.86 356.79,180.79 356.89,180.68 356.99,180.47 357.09,180.04 357.18,179.2 357.28,177.69 357.38,175.23 357.48,171.6 357.58,166.71 357.68,160.74 357.78,154.14 357.88,147.64 357.98,142.12 358.08,138.4 358.18,137.08 358.28,138.4 358.38,142.12 358.48,147.64 358.58,154.14 358.68,160.74 358.78,166.71 358.88,171.6 358.98,175.23 359.08,177.69 359.17,179.2 359.27,180.04 359.37,180.47 359.47,180.68 359.57,180.79 359.67,180.86 359.77,180.91 359.87,180.95 359.97,180.98 360.07,180.99 360.17,181" fill="none" stroke="#6aaa2c" stroke-width="1.0" stroke-linejoin="round" opacity="1" />
<polyline points="360.17,181 360.27,180.99 360.37,180.98 360.47,180.95 360.57,180.91 360.67,180.86 360.77,180.79 360.87,180.68 360.97,180.47 361.07,180.04 361.16,179.2 361.26,177.69 361.36,175.23 361.46,171.6 361.56,166.71 361.66,160.74 361.76,154.14 361.86,147.64 361.96,142.12 362.06,138.4 362.16,137.08 362.26,138.4 362.36,142.12 362.46,147.64 362.56,154.14 362.66,160.74 362.76,166.71 362.86,171.6 362.96,175.23 363.06,177.69 363.15,179.2 363.25,180.04 363.35,180.47 363.45,180.68 363.55,180.79 363.65,180.86 363.75,180.91 363.85,180.95 363.95,180.98 364.05,180.99 364.15,181" fill="none" stroke="#6aaa2c" stroke-width="1.0" stroke-linejoin="round" opacity="1" />
<polyline points="364.15,181 364.25,180.99 364.35,180.98 364.45,180.95 364.55,180.91 364.65,180.86 364.75,180.79 364.85,180.68 364.95,180.47 365.05,180.04 365.14,179.2 365.24,177.69 365.34,175.23 365.44,171.6 365.54,166.71 365.64,160.74 365.74,154.14 365.84,147.64 365.94,142.12 366.04,138.4 366.14,137.08 366.24,138.4 366.34,142.12 366.44,147.64 366.54,154.14 366.64,160.74 366.74,166.71 366.84,171.6 366.94,175.23 367.04,177.69 367.13,179.2 367.23,180.04 367.33,180.47 367.43,180.68 367.53,180.79 367.63,180.86 367.73,180.91 367.83,180.95 367.93,180.98 368.03,180.99 368.13,181" fill="none" stroke="#6aaa2c" stroke-width="1.0" stroke-linejoin="round" opacity="1" />
<polyline points="368.13,181 368.23,180.99 368.33,180.98 368.43,180.95 368.53,180.91 368.63,180.86 368.73,180.79 368.83,180.68 368.93,180.47 369.03,180.04 369.12,179.2 369.22,177.69 369.32,175.23 369.42,171.6 369.52,166.71 369.62,160.74 369.72,154.14 369.82,147.64 369.92,142.12 370.02,138.4 370.12,137.08 370.22,138.4 370.32,142.12 370.42,147.64 370.52,154.14 370.62,160.74 370.72,166.71 370.82,171.6 370.92,175.23 371.02,177.69 371.12,179.2 371.21,180.04 371.31,180.47 371.41,180.68 371.51,180.79 371.61,180.86 371.71,180.91 371.81,180.95 371.91,180.98 372.01,180.99 372.11,181" fill="none" stroke="#6aaa2c" stroke-width="1.0" stroke-linejoin="round" opacity="1" />
<polyline points="372.11,181 372.21,180.99 372.31,180.98 372.41,180.95 372.51,180.91 372.61,180.86 372.71,180.79 372.81,180.67 372.91,180.41 373.01,179.88 373.1,178.82 373.2,176.91 373.3,173.78 373.4,169.14 373.5,162.89 373.6,155.24 373.7,146.79 373.8,138.48 373.9,131.4 374,126.64 374.1,124.96 374.2,126.64 374.3,131.4 374.4,138.48 374.5,146.79 374.6,155.24 374.7,162.89 374.8,169.14 374.9,173.78 375,176.91 375.09,178.82 375.19,179.88 375.29,180.41 375.39,180.67 375.49,180.79 375.59,180.86 375.69,180.91 375.79,180.95 375.89,180.98 375.99,180.99 376.09,181" fill="none" stroke="#fbbf6c" stroke-width="1.0" stroke-linejoin="round" opacity="1" />
<polyline points="376.09,181 376.19,180.99 376.29,180.98 376.39,180.95 376.49,180.91 376.59,180.86 376.69,180.79 376.79,180.67 376.89,180.41 376.99,179.88 377.08,178.82 377.18,176.91 377.28,173.78 377.38,169.14 377.48,162.89 377.58,155.24 377.68,146.79 377.78,138.48 377.88,131.4 377.98,126.64 378.08,124.96 378.18,126.64 378.28,131.4 378.38,138.48 378.48,146.79 378.58,155.24 378.68,162.89 378.78,169.14 378.88,173.78 378.98,176.91 379.07,178.82 379.17,179.88 379.27,180.41 379.37,180.67 379.47,180.79 379.57,180.86 379.67,180.91 379.77,180.95 379.87,180.98 379.97,180.99 380.07,181" fill="none" stroke="#fbbf6c" stroke-width="1.0" stroke-linejoin="round" opacity="1" />
<polyline points="380.07,181 380.17,180.99 380.27,180.98 380.37,180.95 380.47,180.91 380.57,180.86 380.67,180.79 380.77,180.67 380.87,180.41 380.97,179.88 381.06,178.82 381.16,176.91 381.26,173.78 381.36,169.14 381.46,162.89 381.56,155.24 381.66,146.79 381.76,138.48 381.86,131.4 381.96,126.64 382.06,124.96 382.16,126.64 382.26,131.4 382.36,138.48 382.46,146.79 382.56,155.24 382.66,162.89 382.76,169.14 382.86,173.78 382.96,176.91 383.05,178.82 383.15,179.88 383.25,180.41 383.35,180.67 383.45,180.79 383.55,180.86 383.65,180.91 383.75,180.95 383.85,180.98 383.95,180.99 384.05,181" fill="none" stroke="#fbbf6c" stroke-width="1.0" stroke-linejoin="round" opacity="1" />
<polyline points="384.05,181 384.15,180.99 384.25,180.98 384.35,180.95 384.45,180.91 384.55,180.86 384.65,180.79 384.75,180.67 384.85,180.41 384.95,179.88 385.04,178.82 385.14,176.91 385.24,173.78 385.34,169.14 385.44,162.89 385.54,155.24 385.64,146.79 385.74,138.48 385.84,131.4 385.94,126.64 386.04,124.96 386.14,126.64 386.24,131.4 386.34,138.48 386.44,146.79 386.54,155.24 386.64,162.89 386.74,169.14 386.84,173.78 386.94,176.91 387.03,178.82 387.13,179.88 387.23,180.41 387.33,180.67 387.43,180.79 387.53,180.86 387.63,180.91 387.73,180.95 387.83,180.98 387.93,180.99 388.03,181" fill="none" stroke="#fbbf6c" stroke-width="1.0" stroke-linejoin="round" opacity="1" />
<polyline points="388.03,181 388.13,180.99 388.23,180.98 388.33,180.95 388.43,180.91 388.53,180.86 388.63,180.79 388.73,180.67 388.83,180.41 388.93,179.88 389.02,178.82 389.12,176.91 389.22,173.78 389.32,169.14 389.42,162.89 389.52,155.24 389.62,146.79 389.72,138.48 389.82,131.4 389.92,126.64 390.02,124.96 390.12,126.64 390.22,131.4 390.32,138.48 390.42,146.79 390.52,155.24 390.62,162.89 390.72,169.14 390.82,173.78 390.92,176.91 391.01,178.82 391.11,179.88 391.21,180.41 391.31,180.67 391.41,180.79 391.51,180.86 391.61,180.91 391.71,180.95 391.81,180.98 391.91,180.99 392.01,181" fill="none" stroke="#fbbf6c" stroke-width="1.0" stroke-linejoin="round" opacity="1" />
<polyline points="392.01,181 392.11,180.99 392.21,180.98 392.31,180.95 392.41,180.91 392.51,180.86 392.61,180.79 392.71,180.69 392.81,180.47 392.91,180.05 393,179.22 393.1,177.74 393.2,175.32 393.3,171.75 393.4,166.94 393.5,161.07 393.6,154.58 393.7,148.2 393.8,142.77 393.9,139.11 394,137.82 394.1,139.11 394.2,142.77 394.3,148.2 394.4,154.58 394.5,161.07 394.6,166.94 394.7,171.75 394.8,175.32 394.9,177.74 395,179.22 395.09,180.05 395.19,180.47 395.29,180.69 395.39,180.79 395.49,180.86 395.59,180.91 395.69,180.95 395.79,180.98 395.89,180.99 395.99,181" fill="none" stroke="#e8323e" stroke-width="1.0" stroke-linejoin="round" opacity="1" />
<polyline points="395.99,181 396.09,180.99 396.19,180.98 396.29,180.95 396.39,180.91 396.49,180.86 396.59,180.79 396.69,180.69 396.79,180.47 396.89,180.05 396.98,179.22 397.08,177.74 397.18,175.32 397.28,171.75 397.38,166.94 397.48,161.07 397.58,154.58 397.68,148.2 397.78,142.77 397.88,139.11 397.98,137.82 398.08,139.11 398.18,142.77 398.28,148.2 398.38,154.58 398.48,161.07 398.58,166.94 398.68,171.75 398.78,175.32 398.88,177.74 398.97,179.22 399.07,180.05 399.17,180.47 399.27,180.69 399.37,180.79 399.47,180.86 399.57,180.91 399.67,180.95 399.77,180.98 399.87,180.99 399.97,181" fill="none" stroke="#e8323e" stroke-width="1.0" stroke-linejoin="round" opacity="1" />
<polyline points="399.97,181 400.07,180.99 400.17,180.98 400.27,180.95 400.37,180.91 400.47,180.86 400.57,180.79 400.67,180.69 400.77,180.47 400.87,180.05 400.96,179.22 401.06,177.74 401.16,175.32 401.26,171.75 401.36,166.94 401.46,161.07 401.56,154.58 401.66,148.2 401.76,142.77 401.86,139.11 401.96,137.82 402.06,139.11 402.16,142.77 402.26,148.2 402.36,154.58 402.46,161.07 402.56,166.94 402.66,171.75 402.76,175.32 402.86,177.74 402.95,179.22 403.05,180.05 403.15,180.47 403.25,180.69 403.35,180.79 403.45,180.86 403.55,180.91 403.65,180.95 403.75,180.98 403.85,180.99 403.95,181" fill="none" stroke="#e8323e" stroke-width="1.0" stroke-linejoin="round" opacity="1" />
<polyline points="403.95,181 404.05,180.99 404.15,180.98 404.25,180.95 404.35,180.91 404.45,180.86 404.55,180.79 404.65,180.69 404.75,180.47 404.85,180.05 404.94,179.22 405.04,177.74 405.14,175.32 405.24,171.75 405.34,166.94 405.44,161.07 405.54,154.58 405.64,148.2 405.74,142.77 405.84,139.11 405.94,137.82 406.04,139.11 406.14,142.77 406.24,148.2 406.34,154.58 406.44,161.07 406.54,166.94 406.64,171.75 406.74,175.32 406.84,177.74 406.94,179.22 407.03,180.05 407.13,180.47 407.23,180.69 407.33,180.79 407.43,180.86 407.53,180.91 407.63,180.95 407.73,180.98 407.83,180.99 407.93,181" fill="none" stroke="#e8323e" stroke-width="1.0" stroke-linejoin="round" opacity="1" />
<polyline points="407.93,181 408.03,180.99 408.13,180.98 408.23,180.95 408.33,180.91 408.43,180.86 408.53,180.79 408.63,180.69 408.73,180.47 408.83,180.05 408.92,179.22 409.02,177.74 409.12,175.32 409.22,171.75 409.32,166.94 409.42,161.07 409.52,154.58 409.62,148.2 409.72,142.77 409.82,139.11 409.92,137.82 410.02,139.11 410.12,142.77 410.22,148.2 410.32,154.58 410.42,161.07 410.52,166.94 410.62,171.75 410.72,175.32 410.82,177.74 410.91,179.22 411.01,180.05 411.11,180.47 411.21,180.69 411.31,180.79 411.41,180.86 411.51,180.91 411.61,180.95 411.71,180.98 411.81,180.99 411.91,181" fill="none" stroke="#e8323e" stroke-width="1.0" stroke-linejoin="round" opacity="1" />
<text x="322.7" y="119.3" font-size="5.6" fill="#59bde9" font-weight="bold" text-anchor="middle" >0%</text>
<text x="342.8" y="119.3" font-size="5.6" fill="#1ea5cd" font-weight="bold" text-anchor="middle" >5%</text>
<text x="362.3" y="119.3" font-size="5.6" fill="#6aaa2c" font-weight="bold" text-anchor="middle" >10%</text>
<text x="383" y="119.3" font-size="5.6" fill="#f8b65a" font-weight="bold" text-anchor="middle" >15%</text>
<text x="403" y="119.3" font-size="5.6" fill="#e8323e" font-weight="bold" text-anchor="middle" >20%</text>
<line x1="444.5" y1="112.3" x2="442.7" y2="112.3" stroke="#000" stroke-width="1" />
<text x="440.4" y="115.7" font-size="9.2" fill="#111" font-weight="bold" text-anchor="end" >1</text>
<line x1="444.5" y1="141.5" x2="442.7" y2="141.5" stroke="#000" stroke-width="1" />
<text x="440.4" y="144.9" font-size="9.2" fill="#111" font-weight="bold" text-anchor="end" >0</text>
<line x1="444.5" y1="170.7" x2="442.7" y2="170.7" stroke="#000" stroke-width="1" />
<text x="440.4" y="174.1" font-size="9.2" fill="#111" font-weight="bold" text-anchor="end" >-1</text>
<line x1="461.2" y1="177.9" x2="461.2" y2="179.7" stroke="#000" stroke-width="1" />
<text x="461.2" y="187.2" font-size="7.8" fill="#111" font-weight="bold" text-anchor="middle" textLength="11.2" lengthAdjust="spacingAndGlyphs" >40</text>
<line x1="494.1" y1="177.9" x2="494.1" y2="179.7" stroke="#000" stroke-width="1" />
<text x="494.1" y="187.2" font-size="7.8" fill="#111" font-weight="bold" text-anchor="middle" textLength="11.2" lengthAdjust="spacingAndGlyphs" >41</text>
<line x1="527" y1="177.9" x2="527" y2="179.7" stroke="#000" stroke-width="1" />
<text x="527" y="187.2" font-size="7.8" fill="#111" font-weight="bold" text-anchor="middle" textLength="11.2" lengthAdjust="spacingAndGlyphs" >42</text>
<text x="494.3" y="196.9" font-size="9.8" fill="#111" font-weight="bold" text-anchor="middle" textLength="44.7" lengthAdjust="spacingAndGlyphs" >Time (s)</text>
<text x="425.2" y="139.6" font-size="9.6" fill="#111" font-weight="bold" text-anchor="middle" transform="rotate(-90 425.2 139.6)" textLength="54.7" lengthAdjust="spacingAndGlyphs" >Current (nA)</text>
<text x="428.8" y="108.2" font-size="5.8" fill="#555" font-weight="normal" text-anchor="start" >iv</text>
<text x="451.4" y="167.4" font-size="8.3" fill="#111" font-weight="bold" text-anchor="start" textLength="34.5" lengthAdjust="spacingAndGlyphs" >Normal</text>
<text x="470.5" y="147.7" font-size="8.1" fill="#111" font-weight="bold" text-anchor="start" textLength="25.8" lengthAdjust="spacingAndGlyphs" >Weak</text>
<text x="501.4" y="168.4" font-size="8.3" fill="#111" font-weight="bold" text-anchor="start" textLength="31.8" lengthAdjust="spacingAndGlyphs" >Strong</text>
<polyline points="445.4,126.72 445.62,130.33 445.84,129.61 446.06,128.26 446.28,126.25 446.5,130.8 446.72,131.25 446.94,129.46 447.16,129.95 447.38,128.47 447.6,127.22 447.82,130.44 448.04,132.34 448.26,128.5 448.48,133.89 448.7,129.26 448.92,128.66 449.14,126.35 449.36,132.52 449.58,129.31 449.8,129.14 450.02,126.24 450.24,121.39 450.46,123.88 450.68,126.08 450.9,124.59 451.12,132.59 451.34,129.72 451.56,129.37 451.78,135.27 452,130.46 452.22,136.66 452.44,132.89 452.66,133.32 452.88,131.33 453.1,132.02 453.32,129.44 453.54,128.11 453.76,134.37 453.98,129.68 454.2,134.07 454.42,130.07 454.64,136.23 454.86,136.03 455.08,135.26 455.3,135.48 455.52,134.09 455.74,135.05 455.96,130.09 456.18,132.31 456.4,134.43 456.62,129.1 456.84,134.06 457.06,133.36 457.28,129.44 457.5,128.97 457.72,129.66 457.94,129.33 458.16,134.23 458.38,129.92 458.6,127.47 458.82,128.19 459.04,133.03 459.26,135.05 459.48,131.05 459.7,130.65 459.92,130.61 460.14,131.58 460.36,127.05 460.58,129.53 460.8,128.79 461.02,129.1 461.24,125.73 461.46,125.81 461.68,127.46 461.9,132.26 462.12,128.28 462.34,130.6 462.56,128.72 462.78,127.38 463,127.15 463.22,132.73 463.44,132.22 463.66,128.84 463.88,130.81 464.1,130.44 464.32,132 464.54,132.83 464.76,130.12 464.98,138.06 465.2,144.09 465.42,149.71 465.64,160.12 465.86,161.61 466.08,159.38 466.3,152.18 466.52,149.03 466.74,136.89 466.96,131.82 467.18,134.92 467.4,133.03 467.62,129.24 467.84,130.12 468.06,122.3 468.28,122.45 468.5,122.24 468.72,123.95 468.94,123.74 469.16,125.07 469.38,129.09 469.6,134.91 469.82,136.6 470.04,135.41 470.26,133.67 470.48,131.99 470.7,137.19 470.92,133.57 471.14,134.64 471.36,128.72 471.58,129.36 471.8,133.17 472.02,131.67 472.24,130.97 472.46,127.47 472.68,125.08 472.9,125.83 473.12,128.27 473.34,125.31 473.56,128.61 473.78,128.24 474,133.22 474.22,128.19 474.44,133.55 474.66,135.41 474.88,127.93 475.1,131.74 475.32,131.61 475.54,132.76 475.76,130.44 475.98,127.82 476.2,128.98 476.42,133.36 476.64,133.23 476.86,127.68 477.08,127.68 477.3,127.9 477.52,127.48 477.74,130.63 477.96,128.09 478.18,133.26 478.4,131.19 478.62,126.66 478.84,129.28 479.06,127.21 479.28,128.18 479.5,125.94 479.72,125.59 479.94,126.06 480.16,128.29 480.38,132.2 480.6,133.15 480.82,132.07 481.04,139.7 481.26,142.3 481.48,141.07 481.7,139.19 481.92,130.64 482.14,131.83 482.36,127.21 482.58,131.6 482.8,126.65 483.02,130.51 483.24,127.02 483.46,130.55 483.68,127.87 483.9,126.01 484.12,128.63 484.34,127.57 484.56,130.99 484.78,124.72 485,124.31 485.22,122.89 485.44,124.92 485.66,118.58 485.88,123.57 486.1,124.7 486.32,128.37 486.54,131.81 486.76,128.05 486.98,131.87 487.2,131.18 487.42,131.98 487.64,128.73 487.86,134.97 488.08,136.7 488.3,132.41 488.52,132.44 488.74,137.72 488.96,130.96 489.18,130.53 489.4,130.17 489.62,135.37 489.84,134.48 490.06,131.67 490.28,132.61 490.5,127.8 490.72,132.46 490.94,130.99 491.16,131.76 491.38,131.08 491.6,131.52 491.82,130.5 492.04,129.41 492.26,132.46 492.48,131.01 492.7,134.28 492.92,134.78 493.14,133.58 493.36,130.98 493.58,128.73 493.8,129.32 494.02,129.66 494.24,130.47 494.46,132.86 494.68,126.23 494.9,129.41 495.12,129.78 495.34,131.82 495.56,133.45 495.78,132.84 496,131.8 496.22,132.76 496.44,131.89 496.66,133 496.88,131.35 497.1,130.74 497.32,126.93 497.54,131.61 497.76,127.28 497.98,128.88 498.2,130.52 498.42,131.78 498.64,132.32 498.86,125.3 499.08,128.11 499.3,128.57 499.52,129.55 499.74,127.94 499.96,131.14 500.18,127.48 500.4,128.99 500.62,133.57 500.84,131.71 501.06,129.26 501.28,126.32 501.5,132.65 501.72,130.77 501.94,127.19 502.16,128.54 502.38,131.36 502.6,132.23 502.82,129.62 503.04,135.4 503.26,131.05 503.48,130.83 503.7,135.44 503.92,130.14 504.14,133.97 504.36,130.02 504.58,132.71 504.8,129.96 505.02,130.48 505.24,134.62 505.46,131.05 505.68,131 505.9,132.69 506.12,130.56 506.34,130.23 506.56,132.3 506.78,131.86 507,131.5 507.22,137.5 507.44,130.4 507.66,136.08 507.88,136.66 508.1,134.46 508.32,128.75 508.54,131.94 508.76,128.04 508.98,132.1 509.2,132.69 509.42,129.23 509.64,127.65 509.86,132.01 510.08,128.92 510.3,130.86 510.52,132.21 510.74,135.74 510.96,131.99 511.18,130.95 511.4,138.15 511.62,143.47 511.84,150.11 512.06,157.96 512.28,169.16 512.5,174.7 512.72,171.21 512.94,157.92 513.16,150.28 513.38,141.32 513.6,136.56 513.82,133.75 514.04,125.93 514.26,128.98 514.48,123.26 514.7,126.82 514.92,122.75 515.14,120.58 515.36,115.42 515.58,115.29 515.8,123.07 516.02,123.87 516.24,126.03 516.46,126.33 516.68,129.75 516.9,126.86 517.12,126.87 517.34,128.03 517.56,128.13 517.78,131.12 518,133.52 518.22,127.57 518.44,127.67 518.66,131.01 518.88,132.1 519.1,128.11 519.32,128.4 519.54,126.49 519.76,126.09 519.98,129.46 520.2,130.92 520.42,130.92 520.64,127.53 520.86,127.61 521.08,134.46 521.3,132.06 521.52,131.6 521.74,134.17 521.96,134.74 522.18,133.3 522.4,129.86 522.62,135.35 522.84,130.38 523.06,128.71 523.28,130.75 523.5,131.85 523.72,132.43 523.94,128.98 524.16,133.21 524.38,131.86 524.6,129.75 524.82,135.44 525.04,135.55 525.26,136.69 525.48,135.22 525.7,131.81 525.92,135.99 526.14,136.69 526.36,133.5 526.58,135.87 526.8,135.82 527.02,130.91 527.24,134.7 527.46,134.37 527.68,133.16 527.9,127.24 528.12,129.99 528.34,132.25 528.56,132.51 528.78,133.94 529,133.35 529.22,129.76 529.44,135.56 529.66,132.35 529.88,134.61 530.1,128.99 530.32,134.44 530.54,130.49 530.76,131.64 530.98,130.95 531.2,131.76 531.42,127.7 531.64,125.64 531.86,128.3 532.08,126.89 532.3,129.99 532.52,132.43 532.74,129.27 532.96,127.67 533.18,126.9 533.4,129.8 533.62,130.87 533.84,126.82 534.06,132.81 534.28,132.46 534.5,137.57 534.72,152.05 534.94,157.01 535.16,164.07 535.38,159.43 535.6,149.77 535.82,142.41 536.04,137.09 536.26,134.74 536.48,133.93 536.7,133.08 536.92,131.82 537.14,127.95 537.36,127.85 537.58,125.46 537.8,124.15 538.02,120.77 538.24,122.24 538.46,122.32 538.68,120.77 538.9,128.82 539.12,128.98 539.34,132.2 539.56,132.86 539.78,133.67 540,136.3 540.22,132.07 540.44,132.47 540.66,129.61 540.88,134.56 541.1,133.71 541.32,133.35 541.54,136.18 541.76,129.74 541.98,129.68 542.2,133.36" fill="none" stroke="#f24a3c" stroke-width="0.75" stroke-linejoin="round" opacity="1" />
<rect x="444.5" y="110" width="98.7" height="67.9" fill="none" stroke="#000" stroke-width="1.6" />
<rect x="29.1" y="208.7" width="20" height="60.2" fill="#c9c9c9" stroke="none" stroke-width="1" />
<path d="M18.7,256 L19,214.48 L19.3,257" fill="none" stroke="#4c4cd8" stroke-width="0.55" opacity="0.95"/>
<path d="M20.98,256 L21.28,211.52 L21.58,257" fill="none" stroke="#4c4cd8" stroke-width="0.55" opacity="0.95"/>
<path d="M23.34,256 L23.64,221.93 L23.94,257" fill="none" stroke="#4c4cd8" stroke-width="0.55" opacity="0.95"/>
<path d="M25.66,256 L25.96,215.08 L26.26,257" fill="none" stroke="#4c4cd8" stroke-width="0.55" opacity="0.95"/>
<path d="M28.19,256 L28.49,220.54 L28.79,257" fill="none" stroke="#4c4cd8" stroke-width="0.55" opacity="0.95"/>
<path d="M30.66,256 L30.96,226.8 L31.26,257" fill="none" stroke="#4c4cd8" stroke-width="0.55" opacity="0.95"/>
<path d="M32.72,256 L33.02,226.42 L33.32,257" fill="none" stroke="#4c4cd8" stroke-width="0.55" opacity="0.95"/>
<path d="M34.89,256 L35.19,218.85 L35.49,257" fill="none" stroke="#4c4cd8" stroke-width="0.55" opacity="0.95"/>
<path d="M37.08,256 L37.38,226.4 L37.68,257" fill="none" stroke="#4c4cd8" stroke-width="0.55" opacity="0.95"/>
<path d="M39.26,256 L39.56,218.3 L39.86,257" fill="none" stroke="#4c4cd8" stroke-width="0.55" opacity="0.95"/>
<path d="M41.69,256 L41.99,218 L42.29,257" fill="none" stroke="#4c4cd8" stroke-width="0.55" opacity="0.95"/>
<path d="M44.16,256 L44.46,211.68 L44.76,257" fill="none" stroke="#4c4cd8" stroke-width="0.55" opacity="0.95"/>
<path d="M46.4,256 L46.7,221.09 L47,257" fill="none" stroke="#4c4cd8" stroke-width="0.55" opacity="0.95"/>
<path d="M48.84,256 L49.14,210.7 L49.44,257" fill="none" stroke="#4c4cd8" stroke-width="0.55" opacity="0.95"/>
<path d="M51.27,256 L51.57,215.18 L51.87,257" fill="none" stroke="#4c4cd8" stroke-width="0.55" opacity="0.95"/>
<path d="M53.55,256 L53.85,219.88 L54.15,257" fill="none" stroke="#4c4cd8" stroke-width="0.55" opacity="0.95"/>
<path d="M55.7,256 L56,221.32 L56.3,257" fill="none" stroke="#4c4cd8" stroke-width="0.55" opacity="0.95"/>
<path d="M57.94,256 L58.24,226.64 L58.54,257" fill="none" stroke="#4c4cd8" stroke-width="0.55" opacity="0.95"/>
<path d="M60.15,256 L60.45,221.94 L60.75,257" fill="none" stroke="#4c4cd8" stroke-width="0.55" opacity="0.95"/>
<path d="M62.52,256 L62.82,217.91 L63.12,257" fill="none" stroke="#4c4cd8" stroke-width="0.55" opacity="0.95"/>
<path d="M64.57,256 L64.87,220.1 L65.17,257" fill="none" stroke="#4c4cd8" stroke-width="0.55" opacity="0.95"/>
<path d="M66.67,256 L66.97,211.94 L67.27,257" fill="none" stroke="#4c4cd8" stroke-width="0.55" opacity="0.95"/>
<path d="M69.03,256 L69.33,215.27 L69.63,257" fill="none" stroke="#4c4cd8" stroke-width="0.55" opacity="0.95"/>
<path d="M71.51,256 L71.81,227.08 L72.11,257" fill="none" stroke="#4c4cd8" stroke-width="0.55" opacity="0.95"/>
<path d="M73.69,256 L73.99,215.9 L74.29,257" fill="none" stroke="#4c4cd8" stroke-width="0.55" opacity="0.95"/>
<path d="M76.08,256 L76.38,217.88 L76.68,257" fill="none" stroke="#4c4cd8" stroke-width="0.55" opacity="0.95"/>
<path d="M78.18,256 L78.48,220.38 L78.78,257" fill="none" stroke="#4c4cd8" stroke-width="0.55" opacity="0.95"/>
<path d="M80.43,256 L80.73,222.91 L81.03,257" fill="none" stroke="#4c4cd8" stroke-width="0.55" opacity="0.95"/>
<path d="M82.57,256 L82.87,220.28 L83.17,257" fill="none" stroke="#4c4cd8" stroke-width="0.55" opacity="0.95"/>
<path d="M84.94,256 L85.24,220.16 L85.54,257" fill="none" stroke="#4c4cd8" stroke-width="0.55" opacity="0.95"/>
<path d="M87.37,256 L87.67,214.69 L87.97,257" fill="none" stroke="#4c4cd8" stroke-width="0.55" opacity="0.95"/>
<path d="M89.5,256 L89.8,214.58 L90.1,257" fill="none" stroke="#4c4cd8" stroke-width="0.55" opacity="0.95"/>
<path d="M91.62,256 L91.92,225.33 L92.22,257" fill="none" stroke="#4c4cd8" stroke-width="0.55" opacity="0.95"/>
<path d="M93.97,256 L94.27,210.28 L94.57,257" fill="none" stroke="#4c4cd8" stroke-width="0.55" opacity="0.95"/>
<path d="M96.37,256 L96.67,210.17 L96.97,257" fill="none" stroke="#4c4cd8" stroke-width="0.55" opacity="0.95"/>
<path d="M98.45,256 L98.75,211.09 L99.05,257" fill="none" stroke="#4c4cd8" stroke-width="0.55" opacity="0.95"/>
<path d="M100.77,256 L101.07,225.37 L101.37,257" fill="none" stroke="#4c4cd8" stroke-width="0.55" opacity="0.95"/>
<path d="M102.89,256 L103.19,212.73 L103.49,257" fill="none" stroke="#4c4cd8" stroke-width="0.55" opacity="0.95"/>
<path d="M105.39,256 L105.69,213.34 L105.99,257" fill="none" stroke="#4c4cd8" stroke-width="0.55" opacity="0.95"/>
<path d="M107.72,256 L108.02,223.83 L108.32,257" fill="none" stroke="#4c4cd8" stroke-width="0.55" opacity="0.95"/>
<path d="M109.81,256 L110.11,210.92 L110.41,257" fill="none" stroke="#4c4cd8" stroke-width="0.55" opacity="0.95"/>
<path d="M112.23,256 L112.53,215.88 L112.83,257" fill="none" stroke="#4c4cd8" stroke-width="0.55" opacity="0.95"/>
<path d="M114.51,256 L114.81,214.15 L115.11,257" fill="none" stroke="#4c4cd8" stroke-width="0.55" opacity="0.95"/>
<path d="M116.86,256 L117.16,211.84 L117.46,257" fill="none" stroke="#4c4cd8" stroke-width="0.55" opacity="0.95"/>
<path d="M119.3,256 L119.6,213.89 L119.9,257" fill="none" stroke="#4c4cd8" stroke-width="0.55" opacity="0.95"/>
<polyline points="17.1,260.87 17.3,254.45 17.5,254.25 17.7,264.83 17.9,261.67 18.1,258.89 18.3,265.47 18.5,257.83 18.7,262.82 18.9,256.51 19.1,259.97 19.3,265.4 19.5,267.07 19.7,266.7 19.9,259.84 20.1,262.66 20.3,258.93 20.5,256.36 20.7,261.33 20.9,265.98 21.1,265.99 21.3,263.89 21.5,267.02 21.7,257.37 21.9,255.61 22.1,259.28 22.3,256.55 22.5,255.41 22.7,257.93 22.9,260.63 23.1,258.52 23.3,255.78 23.5,262.9 23.7,264.7 23.9,257.13 24.1,251.71 24.3,251.01 24.5,262.74 24.7,251.08 24.9,260.44 25.1,258.57 25.3,255.01 25.5,261.9 25.7,251.25 25.9,253.08 26.1,257.77 26.3,252 26.5,263.53 26.7,255.51 26.9,254.43 27.1,253.4 27.3,261.82 27.5,259.53 27.7,262.35 27.9,262.93 28.1,265.27 28.3,267.56 28.5,263.87 28.7,257.18 28.9,261.12 29.1,257 29.3,254.64 29.5,261.06 29.7,264.36 29.9,256.75 30.1,257.91 30.3,258.75 30.5,263.46 30.7,260.75 30.9,261.81 31.1,263.53 31.3,258.17 31.5,263.47 31.7,264.79 31.9,253.06 32.1,264.63 32.3,261.45 32.5,252.94 32.7,257.28 32.9,259.53 33.1,263.39 33.3,255.84 33.5,258.48 33.7,262.81 33.9,261.68 34.1,263.81 34.3,257.19 34.5,259.95 34.7,253.88 34.9,261.31 35.1,262.89 35.3,260.66 35.5,261.99 35.7,255.2 35.9,265.09 36.1,266.5 36.3,266.73 36.5,260.83 36.7,264.63 36.9,258.27 37.1,266.73 37.3,266.14 37.5,259.18 37.7,255.56 37.9,260.64 38.1,262.2 38.3,265.24 38.5,261.26 38.7,254.75 38.9,265.56 39.1,254.97 39.3,265.08 39.5,256.09 39.7,258.12 39.9,264.21 40.1,254.87 40.3,254.71 40.5,259.58 40.7,262.2 40.9,263.56 41.1,261.2 41.3,264.55 41.5,258 41.7,264.2 41.9,251.96 42.1,253.74 42.3,257.93 42.5,254.57 42.7,260.71 42.9,259.48 43.1,257.92 43.3,262.52 43.5,258.69 43.7,255.39 43.9,256.57 44.1,263.3 44.3,264.32 44.5,254.89 44.7,264.16 44.9,266.09 45.1,260.15 45.3,261.1 45.5,256.15 45.7,261.09 45.9,260.85 46.1,262.48 46.3,254.57 46.5,267.88 46.7,261.64 46.9,260.08 47.1,265.71 47.3,262.36 47.5,261.31 47.7,264.01 47.9,255.13 48.1,261.59 48.3,259.65 48.5,267.04 48.7,266.33 48.9,256.91 49.1,259.5 49.3,254.37 49.5,258.39 49.7,263.46 49.9,264.38 50.1,258.19 50.3,255.73 50.5,253.76 50.7,259.54 50.9,263.7 51.1,252.44 51.3,261.46 51.5,250.83 51.7,253.22 51.9,253.72 52.1,260.23 52.3,255.24 52.5,255.85 52.7,259.73 52.9,252.73 53.1,261.72 53.3,253.46 53.5,259.15 53.7,255.79 53.9,255.33 54.1,260.27 54.3,259.23 54.5,258.63 54.7,259.4 54.9,261.25 55.1,256.27 55.3,257.05 55.5,263.16 55.7,263.36 55.9,261.9 56.1,266.42 56.3,263.04 56.5,266.42 56.7,257.58 56.9,264.57 57.1,265.38 57.3,266.47 57.5,258.04 57.7,257.78 57.9,266.03 58.1,255.89 58.3,266.54 58.5,264.71 58.7,253.88 58.9,255.09 59.1,261.66 59.3,254.89 59.5,252.41 59.7,262.52 59.9,256.63 60.1,261.67 60.3,252.3 60.5,256.14 60.7,260.1 60.9,250.8 61.1,253.44 61.3,260.3 61.5,263.65 61.7,264.63 61.9,252.9 62.1,258.6 62.3,262.39 62.5,259.08 62.7,261.92 62.9,255.24 63.1,253.86 63.3,254.63 63.5,253.93 63.7,261.37 63.9,261.07 64.1,262.01 64.3,256.26 64.5,256.92 64.7,257.29 64.9,266.25 65.1,268.36 65.3,267.45 65.5,255.75 65.7,255.18 65.9,267.5 66.1,260.48 66.3,264.52 66.5,258.16 66.7,259.88 66.9,260.29 67.1,258.83 67.3,260.94 67.5,252.43 67.7,261.79 67.9,263.53 68.1,254 68.3,257.59 68.5,261.38 68.7,256.53 68.9,253.44 69.1,252.92 69.3,257.71 69.5,250.72 69.7,263.01 69.9,261.78 70.1,260.5 70.3,262.81 70.5,259.73 70.7,256.76 70.9,259.71 71.1,258.61 71.3,265.56 71.5,263.34 71.7,255.96 71.9,265.39 72.1,263.33 72.3,264.07 72.5,264.84 72.7,259.35 72.9,266.44 73.1,266.39 73.3,263.96 73.5,265.09 73.7,265.15 73.9,260.17 74.1,264.62 74.3,255.46 74.5,259.19 74.7,260.86 74.9,254.31 75.1,258.96 75.3,262.73 75.5,262.29 75.7,256.56 75.9,266.27 76.1,262.1 76.3,257.22 76.5,261.45 76.7,259.92 76.9,259.14 77.1,256.89 77.3,265.21 77.5,260 77.7,260.65 77.9,261.36 78.1,264.32 78.3,250.85 78.5,259.12 78.7,260.86 78.9,254.16 79.1,256.27 79.3,251.48 79.5,253.67 79.7,256.38 79.9,252.72 80.1,255.09 80.3,264.51 80.5,259.81 80.7,259.49 80.9,266.2 81.1,260.89 81.3,267.14 81.5,262.39 81.7,265.03 81.9,254.98 82.1,262.46 82.3,264.88 82.5,255 82.7,267.47 82.9,256.73 83.1,261.1 83.3,256.83 83.5,261.33 83.7,262.84 83.9,254.96 84.1,267.2 84.3,259.65 84.5,260.9 84.7,261.65 84.9,258.13 85.1,256.74 85.3,261.63 85.5,260.03 85.7,255.88 85.9,261.68 86.1,255.55 86.3,251.38 86.5,254.41 86.7,251.42 86.9,252.88 87.1,261.15 87.3,255.98 87.5,263.07 87.7,260.99 87.9,251.27 88.1,264.51 88.3,264.02 88.5,251.99 88.7,263.83 88.9,257.38 89.1,258.3 89.3,265.49 89.5,255.55 89.7,259.74 89.9,265.82 90.1,263.09 90.3,259.8 90.5,267.19 90.7,265.16 90.9,262.38 91.1,255.72 91.3,263 91.5,260.76 91.7,257.31 91.9,255.22 92.1,261.89 92.3,256.2 92.5,260.58 92.7,263.62 92.9,260.5 93.1,257.61 93.3,261.88 93.5,259.37 93.7,264.14 93.9,260.41 94.1,266.67 94.3,265.76 94.5,262.43 94.7,255.22 94.9,253.21 95.1,263.87 95.3,262.14 95.5,259.71 95.7,255.83 95.9,254.47 96.1,260.17 96.3,258.43 96.5,258.78 96.7,259.38 96.9,261.13 97.1,253.34 97.3,254.3 97.5,264.69 97.7,263.99 97.9,263.7 98.1,252.19 98.3,252.75 98.5,255.96 98.7,258.4 98.9,261.46 99.1,254.44 99.3,260.85 99.5,254.53 99.7,254.96 99.9,263.42 100.1,261.84 100.3,263.11 100.5,259.61 100.7,261.16 100.9,257.45 101.1,259.3 101.3,264.88 101.5,266.11 101.7,255.29 101.9,255.78 102.1,265.24 102.3,262.44 102.5,264.23 102.7,256.2 102.9,258.89 103.1,256.29 103.3,263.73 103.5,257.28 103.7,261 103.9,265.44 104.1,255.9 104.3,258.81 104.5,261.39 104.7,263.67 104.9,256.64 105.1,255.74 105.3,251.87 105.5,262.75 105.7,251.63 105.9,251.75 106.1,258.59 106.3,257.62 106.5,260.59 106.7,255.38 106.9,262.28 107.1,252.73 107.3,254.92 107.5,261.47 107.7,253.63 107.9,257.02 108.1,263.19 108.3,263.02 108.5,257.51 108.7,255.78 108.9,258.99 109.1,264.32 109.3,259.42 109.5,256.04 109.7,264.4 109.9,262.47 110.1,267.35 110.3,267.6 110.5,267.14 110.7,260.37 110.9,265.32 111.1,258.16 111.3,258.12 111.5,259.04 111.7,266.27 111.9,265.44 112.1,256.12 112.3,257.42 112.5,257.2 112.7,256.9 112.9,257.1 113.1,256.75 113.3,253.84 113.5,258.81 113.7,261.92 113.9,258.21 114.1,262.27 114.3,258.39 114.5,252.97 114.7,261.16 114.9,262.93 115.1,254.65 115.3,251.16 115.5,258.24 115.7,258.84 115.9,259.4 116.1,265.23 116.3,261.08 116.5,263.5 116.7,253.41 116.9,260.45 117.1,264.1 117.3,254.51 117.5,254.72 117.7,264.12 117.9,266.59 118.1,255.36 118.3,263.19 118.5,256.42 118.7,264.91 118.9,263.59 119.1,257.92 119.3,257.52 119.5,265.06 119.7,261.52" fill="none" stroke="#1a1aa8" stroke-width="0.5" stroke-linejoin="round" opacity="1" />
<line x1="16.3" y1="203.5" x2="120.6" y2="203.5" stroke="#8a8a8a" stroke-width="0.7" />
<line x1="16.3" y1="203.5" x2="16.3" y2="272.2" stroke="#bdbdbd" stroke-width="0.6" />
<line x1="16.3" y1="272.2" x2="120.6" y2="272.2" stroke="#bdbdbd" stroke-width="0.6" />
<line x1="120.6" y1="203.5" x2="120.6" y2="272.2" stroke="#8a8a8a" stroke-width="0.7" />
<line x1="16.3" y1="208.6" x2="17.3" y2="208.6" stroke="#888" stroke-width="0.5" />
<text x="14.3" y="209.7" font-size="3.2" fill="#333" font-weight="bold" text-anchor="end" >0.04</text>
<line x1="16.3" y1="231.9" x2="17.3" y2="231.9" stroke="#888" stroke-width="0.5" />
<text x="14.3" y="233" font-size="3.2" fill="#333" font-weight="bold" text-anchor="end" >0.02</text>
<line x1="16.3" y1="255.2" x2="17.3" y2="255.2" stroke="#888" stroke-width="0.5" />
<text x="14.3" y="256.3" font-size="3.2" fill="#333" font-weight="bold" text-anchor="end" >0.00</text>
<text x="21.7" y="276.9" font-size="3.0" fill="#333" font-weight="bold" text-anchor="middle" >40</text>
<text x="53.9" y="276.9" font-size="3.0" fill="#333" font-weight="bold" text-anchor="middle" >50</text>
<text x="86.1" y="276.9" font-size="3.0" fill="#333" font-weight="bold" text-anchor="middle" >60</text>
<text x="118.3" y="276.9" font-size="3.0" fill="#333" font-weight="bold" text-anchor="middle" >70</text>
<text x="69" y="283.2" font-size="4.2" fill="#333" font-weight="bold" text-anchor="middle" >Time(s)</text>
<text x="7" y="240" font-size="3.0" fill="#333" font-weight="bold" text-anchor="middle" transform="rotate(-90 7 240)" >Signal(V)</text>
<text x="19.8" y="210.6" font-size="6.4" fill="#333" font-weight="bold" text-anchor="start" >V</text>
<line x1="49.1" y1="239.5" x2="139.4" y2="203" stroke="#555" stroke-width="0.5" />
<line x1="49.1" y1="239.5" x2="139.4" y2="271.5" stroke="#555" stroke-width="0.5" />
<rect x="178.3" y="205.9" width="8" height="63.6" fill="#c9c9c9" stroke="none" stroke-width="1" />
<polyline points="139.8,261.35 140.07,259.28 140.33,257.87 140.6,256.35 140.87,254.71 141.13,254.47 141.4,255.26 141.67,258.56 141.93,259.96 142.2,264.34 142.47,262.38 142.73,260.19 143,258.16 143.27,257.36 143.53,254.98 143.8,254.96 144.07,255.08 144.33,257.22 144.6,259.6 144.87,257.88 145.13,255.14 145.4,255.76 145.67,254.19 145.93,253.34 146.2,250.89 146.5,247.46 146.77,243.57 147.03,241.98 147.3,238.49" fill="none" stroke="#2020b4" stroke-width="0.6" stroke-linejoin="round" opacity="1" />
<polyline points="147.3,238.49 147.68,220.1 147.9,211.8 148.12,223.59 148.5,241.74" fill="none" stroke="#5252d6" stroke-width="0.6" stroke-linejoin="round" opacity="0.9" />
<polyline points="148.5,241.74 148.85,244.36 149.2,245.3 149.55,246.48 149.9,245.73 150.2,250.64 150.5,254.91 150.77,258.27 151.03,259.82 151.3,264.47 151.57,263.31 151.83,261.48 152.1,261.15 152.37,259.38 152.63,256.26 152.9,254.58 153.17,256.26 153.43,261.25 153.7,264.42 153.97,261.51 154.23,260.76 154.5,259.42 154.77,256.94 155.03,252.63 155.3,252.06 155.57,253.48 155.83,255.81 156.1,257.08 156.37,257.13 156.63,257.02 156.9,255.99 157.17,253.87 157.43,249.27 157.7,247.31 158.2,245.74 158.47,243.37 158.73,238.94 159,236.79" fill="none" stroke="#2020b4" stroke-width="0.6" stroke-linejoin="round" opacity="1" />
<polyline points="159,236.79 159.38,223.14 159.6,213.2 159.82,222.84 160.2,240.18" fill="none" stroke="#5252d6" stroke-width="0.6" stroke-linejoin="round" opacity="0.9" />
<polyline points="160.2,240.18 160.55,242.26 160.9,242.64 161.25,243.46 161.6,242.12 161.9,247.82 162.2,254.34 162.47,257.21 162.73,259.06 163,261.39 163.27,259.74 163.53,259.96 163.8,258.54 164.07,258.84 164.33,258.32 164.6,256.75 164.87,260.89 165.13,260.02 165.4,263.33 165.67,261.16 165.93,259.82 166.2,257.12 166.47,257.55 166.73,254.24 167,251.3 167.27,255.9 167.53,257 167.8,261.19 168.07,258.15 168.33,256.53 168.6,255.36 168.87,253.97 169.13,251.75 169.4,252.07 169.6,247.37 169.87,242.92 170.13,238.62 170.4,236.19" fill="none" stroke="#2020b4" stroke-width="0.6" stroke-linejoin="round" opacity="1" />
<polyline points="170.4,236.19 170.78,221.96 171,216 171.22,225.51 171.6,240.79" fill="none" stroke="#5252d6" stroke-width="0.6" stroke-linejoin="round" opacity="0.9" />
<polyline points="171.6,240.79 171.95,243.06 172.3,246.69 172.65,247.39 173,246.92 173.3,249.12 173.6,253.88 173.87,254.75 174.13,258.83 174.4,264.03 174.67,261.72 174.93,257.74 175.2,256.85 175.47,257.07 175.73,254.81 176,254.38 176.27,256.8 176.53,260.09 176.8,265.35 177.07,260.93 177.33,260.27 177.6,257.59 177.87,255.75 178.13,253.85 178.4,255.34 178.67,255.38 178.93,256.72 179.2,258.01 179.47,259.53 179.73,257.34 180,256.07 180.27,255.2 180.53,252.58 180.8,252.7 181,247.28 181.27,242.85 181.53,240.46 181.8,235.6" fill="none" stroke="#2020b4" stroke-width="0.6" stroke-linejoin="round" opacity="1" />
<polyline points="181.8,235.6 182.18,223.17 182.4,212.6 182.62,223.63 183,239.61" fill="none" stroke="#5252d6" stroke-width="0.6" stroke-linejoin="round" opacity="0.9" />
<polyline points="183,239.61 183.35,239.83 183.7,244.31 184.05,244.05 184.4,246.73 184.7,251.21 185,254.46 185.27,256.66 185.53,258.43 185.8,263.23 186.07,259.23 186.33,258.45 186.6,256.24 186.87,257.26 187.13,257.61 187.4,258.53 187.67,257.52 187.93,260.56 188.2,260.08 188.47,259.33 188.73,257.2 189,255.58 189.27,254.81 189.53,253.09 189.8,251.24 190.07,255.54 190.33,258.12 190.6,259.42 190.87,257.39 191.13,255.32 191.4,254.08 191.67,253.78 191.93,252.48 192.2,250.57 192.4,247.67 192.67,243.31 192.93,240.55 193.2,237.08" fill="none" stroke="#2020b4" stroke-width="0.6" stroke-linejoin="round" opacity="1" />
<polyline points="193.2,237.08 193.58,220.09 193.8,213.2 194.02,225.41 194.4,239.25" fill="none" stroke="#5252d6" stroke-width="0.6" stroke-linejoin="round" opacity="0.9" />
<polyline points="194.4,239.25 194.75,242.67 195.1,245.85 195.45,247.01 195.8,245.11 196.1,250.11 196.4,256.56 196.67,257.04 196.93,259.93 197.2,264.21 197.47,260.48 197.73,261.66 198,259.93 198.27,258.51 198.53,257.47 198.8,258.47 199.07,260.02 199.33,258.69 199.6,260.9 199.87,259.26 200.13,257.23 200.4,254.83 200.67,254.03 200.93,255.18 201.2,255.67 201.47,255.35 201.73,257.93 202,261.88 202.27,259.03 202.53,255.85 202.8,251.05 203.07,252.5 203.33,252.54 203.6,251.83 203.9,249.01 204.2,245.06 204.47,244.99 204.73,240.38 205,238.67" fill="none" stroke="#2020b4" stroke-width="0.6" stroke-linejoin="round" opacity="1" />
<polyline points="205,238.67 205.38,221.47 205.6,213.3 205.82,223.33 206.2,241.06" fill="none" stroke="#5252d6" stroke-width="0.6" stroke-linejoin="round" opacity="0.9" />
<polyline points="206.2,241.06 206.55,244.96 206.9,247.11 207.25,245.34 207.6,245.91 207.9,251.06 208.2,251.75 208.47,256.86 208.73,259.86 209,262.69 209.27,262.08 209.53,258.15 209.8,256.27 210.07,256.17 210.33,254.23 210.6,253.21 210.87,257.78 211.13,261.22 211.4,264.57 211.67,259.9 211.93,258.57 212.2,255.92 212.47,255.09 212.73,253 213,252.71 213.27,253.25 213.53,254.59 213.8,259 214.07,255.6 214.33,255.49 214.6,253.44 214.87,252.39 215.13,248.9 215.4,246.77 215.4,251.3 215.67,247.89 215.93,242.6 216.2,239.05" fill="none" stroke="#2020b4" stroke-width="0.6" stroke-linejoin="round" opacity="1" />
<polyline points="216.2,239.05 216.58,220.4 216.8,214.7 217.02,225.6 217.4,241.4" fill="none" stroke="#5252d6" stroke-width="0.6" stroke-linejoin="round" opacity="0.9" />
<polyline points="217.4,241.4 217.75,242.34 218.1,242.79 218.45,242.72 218.8,242.76 219.1,248.65 219.4,251.59 219.67,256.42 219.93,259.35 220.2,260.65 220.47,261.04 220.73,257.72 221,256.35 221.27,257.03 221.53,255.08 221.8,256.3 222.07,257.29 222.33,259.04 222.6,262.81 222.87,259.2 223.13,260.27 223.4,256.97 223.67,255.69 223.93,256.67 224.2,254.22 224.47,255.02 224.73,256.94 225,260.44" fill="none" stroke="#2020b4" stroke-width="0.6" stroke-linejoin="round" opacity="1" />
<line x1="139.4" y1="203" x2="139.4" y2="272.2" stroke="#9a9a9a" stroke-width="0.6" />
<line x1="139.4" y1="272.2" x2="226" y2="272.2" stroke="#bdbdbd" stroke-width="0.6" />
<line x1="226" y1="204.5" x2="226" y2="272.2" stroke="#bcbcbc" stroke-width="1.3" />
<line x1="139.4" y1="209.05" x2="140.4" y2="209.05" stroke="#888" stroke-width="0.5" />
<text x="138" y="210.15" font-size="3.2" fill="#333" font-weight="bold" text-anchor="end" >0.03</text>
<line x1="139.4" y1="223.3" x2="140.4" y2="223.3" stroke="#888" stroke-width="0.5" />
<text x="138" y="224.4" font-size="3.2" fill="#333" font-weight="bold" text-anchor="end" >0.02</text>
<line x1="139.4" y1="237.55" x2="140.4" y2="237.55" stroke="#888" stroke-width="0.5" />
<text x="138" y="238.65" font-size="3.2" fill="#333" font-weight="bold" text-anchor="end" >0.01</text>
<line x1="139.4" y1="251.8" x2="140.4" y2="251.8" stroke="#888" stroke-width="0.5" />
<text x="138" y="252.9" font-size="3.2" fill="#333" font-weight="bold" text-anchor="end" >0.00</text>
<line x1="139.4" y1="266.05" x2="140.4" y2="266.05" stroke="#888" stroke-width="0.5" />
<text x="138" y="267.15" font-size="3.2" fill="#333" font-weight="bold" text-anchor="end" >-0.01</text>
<text x="139" y="276.9" font-size="3.0" fill="#333" font-weight="bold" text-anchor="middle" >42</text>
<text x="156" y="276.9" font-size="3.0" fill="#333" font-weight="bold" text-anchor="middle" >43</text>
<text x="173" y="276.9" font-size="3.0" fill="#333" font-weight="bold" text-anchor="middle" >44</text>
<text x="190" y="276.9" font-size="3.0" fill="#333" font-weight="bold" text-anchor="middle" >45</text>
<text x="207" y="276.9" font-size="3.0" fill="#333" font-weight="bold" text-anchor="middle" >46</text>
<text x="224" y="276.9" font-size="3.0" fill="#333" font-weight="bold" text-anchor="middle" >47</text>
<text x="183" y="283.2" font-size="4.2" fill="#333" font-weight="bold" text-anchor="middle" >Time(s)</text>
<text x="132.4" y="237.5" font-size="3.0" fill="#333" font-weight="bold" text-anchor="middle" transform="rotate(-90 132.4 237.5)" >Signal(V)</text>
<text x="220.2" y="204" font-size="4.4" fill="#333" font-weight="bold" text-anchor="middle" >Circles</text>
<line x1="186.3" y1="238.5" x2="233.5" y2="204.3" stroke="#555" stroke-width="0.5" />
<line x1="186.3" y1="238.5" x2="233.5" y2="271.8" stroke="#555" stroke-width="0.5" />
<line x1="233.5" y1="204" x2="233.5" y2="271.8" stroke="#b0b0b0" stroke-width="0.6" />
<line x1="233.5" y1="271.8" x2="289.4" y2="271.8" stroke="#bdbdbd" stroke-width="0.6" />
<line x1="289.4" y1="204" x2="289.4" y2="271.8" stroke="#c0c0c0" stroke-width="0.8" />
<polyline points="233.7,263.5 233.96,263.6 234.32,263.74 234.74,263.9 235.19,264.06 235.62,264.2 236,264.3 236.32,264.37 236.61,264.44 236.88,264.48 237.15,264.49 237.42,264.43 237.7,264.3 237.98,264.05 238.26,263.7 238.54,263.28 238.83,262.86 239.15,262.48 239.5,262.2 239.92,262.06 240.4,262.03 240.91,262.05 241.41,262.04 241.85,261.95 242.2,261.7 242.43,261.33 242.56,260.9 242.64,260.38 242.71,259.74 242.82,258.96 243,258 243.27,256.86 243.6,255.58 243.96,254.14 244.33,252.57 244.68,250.85 245,249 245.28,246.97 245.54,244.74 245.78,242.38 246.02,239.93 246.26,237.45 246.5,235 246.75,232.47 247,229.8 247.25,227.09 247.5,224.48 247.75,222.08 248,220 248.26,218.26 248.52,216.75 248.78,215.46 249.04,214.34 249.28,213.36 249.5,212.5 249.68,211.76 249.83,211.16 249.97,210.71 250.11,210.4 250.28,210.23 250.5,210.2 250.78,210.41 251.11,210.88 251.47,211.49 251.83,212.12 252.18,212.67 252.5,213 252.78,213.06 253.04,212.93 253.28,212.71 253.52,212.49 253.76,212.39 254,212.5 254.25,212.79 254.5,213.17 254.75,213.66 255,214.28 255.25,215.05 255.5,216 255.75,217.22 256.01,218.7 256.27,220.34 256.52,222.02 256.77,223.61 257,225 257.22,226.2 257.42,227.3 257.61,228.31 257.8,229.26 258,230.15 258.2,231 258.41,231.85 258.63,232.69 258.85,233.47 259.07,234.15 259.29,234.67 259.5,235 259.7,234.98 259.9,234.61 260.09,234.09 260.29,233.61 260.49,233.35 260.7,233.5 260.91,234.07 261.1,234.91 261.3,235.97 261.52,237.21 261.78,238.57 262.1,240 262.49,241.62 262.93,243.48 263.42,245.46 263.92,247.44 264.42,249.3 264.9,250.9 265.36,252.27 265.81,253.51 266.26,254.62 266.7,255.6 267.15,256.46 267.6,257.2 268.06,257.84 268.52,258.4 268.98,258.83 269.44,259.1 269.88,259.17 270.3,259 270.69,258.4 271.07,257.37 271.43,256.14 271.78,254.94 272.13,254.02 272.5,253.6 272.86,253.88 273.21,254.7 273.56,255.79 273.93,256.89 274.34,257.71 274.8,258 275.33,257.59 275.93,256.66 276.57,255.46 277.21,254.23 277.83,253.23 278.4,252.7 278.92,252.75 279.43,253.2 279.91,253.87 280.37,254.58 280.8,255.15 281.2,255.4 281.55,255.17 281.84,254.57 282.11,253.83 282.37,253.17 282.66,252.82 283,253 283.41,253.84 283.87,255.2 284.35,256.86 284.83,258.63 285.29,260.31 285.7,261.7 286.05,262.88 286.37,264.01 286.66,265.05 286.94,265.96 287.22,266.69 287.5,267.2 287.81,267.41 288.14,267.34 288.46,267.09 288.76,266.77 289.02,266.47 289.2,266.3" fill="none" stroke="#3434e0" stroke-width="1.1" stroke-linejoin="round" opacity="1" />
<text x="235" y="276.3" font-size="2.9" fill="#333" font-weight="bold" text-anchor="middle" >44.6</text>
<text x="252.8" y="276.3" font-size="2.9" fill="#333" font-weight="bold" text-anchor="middle" >44.7</text>
<text x="270.6" y="276.3" font-size="2.9" fill="#333" font-weight="bold" text-anchor="middle" >44.8</text>
<text x="288.4" y="276.3" font-size="2.9" fill="#333" font-weight="bold" text-anchor="middle" >44.9</text>
<text x="262.8" y="280.2" font-size="3.8" fill="#333" font-weight="bold" text-anchor="middle" >Time(s)</text>
<text x="242" y="212" font-size="6.2" fill="#111" font-weight="bold" text-anchor="start" >P<tspan font-size="3" dy="1">1</tspan></text>
<text x="253" y="237" font-size="6.2" fill="#111" font-weight="bold" text-anchor="start" >P<tspan font-size="3" dy="1">2</tspan></text>
<polyline points="322.6,221.19 322.84,221.89 323.2,218.17 323.6,219.01 323.96,223.62 324.2,223.48 324.23,219.52 324.2,222.8 324.47,231.65 324.86,239.12 325.3,242.99 325.58,246.11 325.89,254.42 326.2,257.51 326.51,256.39 326.8,257.18 327.16,260.99 327.49,257.75 328,248.03 328.24,246.07 328.52,247.33 328.83,243.63 329.16,237.29 329.5,233.85 329.84,234.29 330.18,230.93 330.5,225.18 330.8,222.37 331.15,224.07 331.46,221.91 331.77,215.61 332.07,214.06 332.38,215.95 332.72,215.31 333.1,210.13 333.36,210.49 333.64,214.41 333.93,213.65 334.23,210.04 334.53,210.6 334.84,216.06 335.16,216.05 335.47,212.94 335.79,213.22 336.1,218.12 336.4,218.56 336.72,215.18 337.04,216.19 337.35,220.98 337.66,222.19 337.97,218.77 338.29,219.91 338.62,224.65 338.96,225.6 339.32,221.95 339.7,222 339.97,227.25 340.24,227.8 340.52,224.17 340.82,224.2 341.11,228.81 341.42,228.62 341.73,225.76 342.04,225.82 342.35,229.8 342.66,229.82 342.98,227.01 343.29,227.36 343.6,230.39 343.9,231.29 344.2,226.79 344.52,226.34 344.83,230.26 345.15,230.49 345.46,226.18 345.77,224.69 346.09,228.83 346.4,227.56 346.71,223.76 347.03,222.68 347.34,226.73 347.65,226.26 347.97,221.14 348.28,221.23 348.6,223.97 348.9,223.32 349.2,219.56 349.5,218.49 349.8,222.3 350.1,222.17 350.4,218.04 350.7,217.14 351,220.67 351.3,221.34 351.6,216.4 351.9,216.92 352.2,220.63 352.5,219.84 352.8,215.82 353.1,215.82 353.42,219.97 353.73,219.98 354.05,216.07 354.36,216.33 354.68,220.95 354.99,220.7 355.31,216.9 355.62,217.56 355.93,221.3 356.25,221.69 356.56,218.81 356.87,218.55 357.19,222.84 357.5,222.41 357.81,219.1 358.12,219.5 358.42,223.04 358.72,223.96 359.02,220.19 359.32,219.7 359.62,224.57 359.93,224.56 360.24,220.98 360.56,220.74 360.88,225.3 361.21,225.44 361.55,220.67 361.9,220.77 362.19,225.53 362.48,225.85 362.8,220.95 363.12,221.12 363.44,225.2 363.78,224.76 364.12,220.7 364.45,220.51 364.79,224.46 365.13,224.61 365.46,220.14 365.79,220.13 366.11,224.52 366.41,223.57 366.71,220.18 366.99,220.38 367.25,223.9 367.5,223.87 367.95,220.86 368.36,220.64 368.73,225.16 369.06,226.11 369.37,223.1 369.65,223.02 369.91,227.84 370.16,228.27 370.4,225.1 370.84,224.01 371.16,227.01 371.43,225.17 371.7,222.2 372.07,227.77 372.41,239.72 372.8,246.34 373.08,245.81 373.39,249.56 373.7,257.57 374.01,259.85 374.3,257.97 374.66,257.24 374.99,256.92 375.5,251.73 375.74,246.15 376.02,243.3 376.33,244.52 376.66,240.8 377,233.29 377.34,230.28 377.68,231.85 378,228.47 378.3,222.22 378.65,219.71 378.96,221.35 379.27,219.25 379.57,214.06 379.88,211.67 380.22,214.35 380.6,214.73 380.86,210.43 381.14,210.54 381.43,214.06 381.73,215.01 382.03,211.45 382.34,211.16 382.66,216.42 382.97,217.19 383.29,213.66 383.6,214.13 383.9,218.45 384.22,219.16 384.54,215.76 384.85,216.36 385.16,221.81 385.47,222.29 385.79,219.77 386.12,219.68 386.46,225.5 386.82,225.98 387.2,222.91 387.47,223.29 387.74,227.73 388.02,227.78 388.32,223.54 388.61,224.85 388.92,228.57 389.23,229.12 389.54,225.92 389.85,226.09 390.16,230.24 390.48,231.11 390.79,226.9 391.1,226.7 391.4,230.63 391.7,231.33 392.02,226.73 392.33,226.85 392.65,229.99 392.96,229.37 393.27,225.28 393.59,225.07 393.9,227.71 394.21,227.85 394.53,223.39 394.84,222.64 395.15,226.07 395.47,224.54 395.78,220.79 396.1,220.64 396.4,223.28 396.7,223.17 397,218.77 397.3,218.7 397.6,222.19 397.9,221.88 398.2,217.88 398.5,216.62 398.8,220.37 399.1,220.17 399.4,215.92 399.7,215.64 400,220.56 400.3,220.29 400.6,215.3 400.92,215.8 401.23,219.65 401.55,219.78 401.86,216.01 402.18,216.6 402.49,220.79 402.81,220.81 403.12,216.92 403.43,217.41 403.75,221.48 404.06,222.3 404.37,218.78 404.69,218.64 405,222.5 405.31,222.81 405.62,219.25 405.92,219.74 406.22,224.16 406.52,223.88 406.82,220.59 407.12,220.57 407.43,224.52 407.74,224.61 408.06,220.91 408.38,221.29 408.71,225.06 409.05,225.48 409.4,221.25 409.69,221.01 409.98,225.34 410.3,225.48 410.62,220.66 410.94,220.99 411.28,224.89 411.62,225.32 411.95,221.26 412.29,220.46 412.63,224.97 412.96,224.73 413.29,219.99 413.61,220.15 413.91,223.68 414.21,224.47 414.49,220.29 414.75,220.59 415,224.55 415.45,224.69 415.86,221.23 416.23,221.61 416.57,225.71 416.88,226.96 417.17,222.9 417.43,223.62 417.67,228.8 417.9,228.15 418.4,223.12 418.7,221.29 419,226.86 419.35,231.21 419.7,234.69 420.1,242.81 420.38,249.69 420.69,254.43 421,253.74 421.31,256.63 421.6,262.14 421.96,260.92 422.29,253.66 422.8,247.44 423.04,250.11 423.32,247.14 423.63,240.41 423.96,236.51 424.3,238.04 424.64,235.05 424.98,226.97 425.3,224.53 425.6,226.48 425.95,224.2 426.26,217.14 426.57,214.97 426.87,217.26 427.18,216.22 427.52,211.25 427.9,210.07 428.16,213.81 428.44,213.83 428.73,209.96 429.03,210.37 429.33,214.44 429.64,215.5 429.96,212.69 430.27,212.69 430.59,217.76 430.9,217.7 431.2,214.93 431.52,215.66 431.84,220.3 432.15,220.9 432.46,217.68 432.78,218.72 433.09,223.87 433.42,223.8 433.76,220.53 434.12,222.04 434.5,226.9 434.77,226.84 435.04,223.18 435.32,223.95 435.62,227.74 435.91,228.27 436.22,224.61 436.53,225.47 436.84,229.51 437.15,229.74 437.46,226.58 437.78,227.13 438.09,230.52 438.4,231.13 438.7,226.83 439,227.32 439.32,230.86 439.63,230.23 439.95,225.82 440.26,225.16 440.57,229.21 440.89,228.55 441.2,223.71 441.51,223.33 441.83,226.67 442.14,226.6 442.45,221.26 442.77,221.72 443.08,224.61 443.4,224.32 443.7,219.79 444,219.84 444.3,223.44 444.6,222.73 444.9,218.26 445.2,218.17 445.5,221.98 445.8,221.1 446.1,217.18 446.4,217.17 446.7,220.33 447,219.83 447.3,215.67 447.6,216.13 447.9,220.01 448.22,220.35 448.53,216.29 448.85,215.69 449.16,219.81 449.48,220.13 449.79,216.31 450.11,217.23 450.42,221.72 450.73,222.09 451.05,217.64 451.36,218.67 451.67,222.3 451.99,222.69 452.3,219.27 452.61,218.7 452.92,222.92 453.22,224.01 453.52,219.57 453.82,219.86 454.12,224.32 454.43,224.63 454.73,220.01 455.04,220.57 455.36,224.84 455.68,225.03 456.01,220.81 456.35,221.34 456.7,225.85 456.99,225.18 457.28,221.35 457.6,220.79 457.92,224.91 458.24,225.28 458.58,220.51 458.92,221.32 459.25,225.23 459.59,224.13 459.93,221.02 460.26,220.23 460.59,224.6 460.91,224.5 461.21,219.89 461.51,220.31 461.79,224.28 462.05,224.49 462.3,219.92 462.76,220.8 463.18,225.51 463.57,225.74 463.92,222.23 464.24,222.4 464.53,227.49 464.79,227.87 465.01,224.73 465.2,224.91 465.41,226.66 465.4,226.02 465.69,227.77 466.07,235.42 466.5,246.01 466.78,250.61 467.09,250.2 467.4,253.08 467.71,260.74 468,261.17 468.36,256.63 468.69,253.57 469.2,252.12 469.44,249.85 469.72,243.31 470.03,240.1 470.36,240.76 470.7,237.35 471.04,230.02 471.38,227.75 471.7,229.05 472,226.45 472.35,220.1 472.66,217.28 472.97,219.08 473.27,217.42 473.58,212.52 473.92,210.4 474.3,214.21 474.56,213.67 474.84,210.28 475.13,209.96 475.43,214.27 475.73,214.82 476.04,211.55 476.36,212.45 476.67,216.61 476.99,217.88 477.3,213.64 477.6,214.42 477.92,218.87 478.24,219.62 478.55,217.21 478.86,217.98 479.18,222.17 479.49,223.02 479.82,220.12 480.16,221.31 480.52,226.12 480.9,226.7 481.17,222.93 481.44,222.82 481.72,227.56 482.02,227.75 482.31,224.58 482.62,225.05 482.93,229.01 483.24,229.43 483.55,226.4 483.86,225.78 484.18,230.95 484.49,231.24 484.8,227.42 485.1,226.79 485.4,230.96 485.72,230.86 486.03,226.67 486.35,226.74 486.66,229.96 486.97,229 487.29,225.12 487.6,224.09 487.91,227.62 488.23,227.15 488.54,221.68 488.85,222.01 489.17,225.33 489.48,224.62 489.8,220.23 490.1,219.78 490.4,223.07 490.7,223.09 491,218.11 491.3,218.28 491.6,222.08 491.9,221.49 492.2,217.29 492.5,217.45 492.8,221.09 493.1,219.93 493.4,216.51 493.7,216.14 494,219.33 494.3,219.63 494.62,215.48 494.93,215.36 495.25,220.05 495.56,220.7 495.88,216.21 496.19,217.13 496.51,221.21 496.82,220.85 497.13,218.04 497.45,218.05 497.76,222.75 498.07,222.78 498.39,219.07 498.7,218.81 499.01,223.57 499.32,223.92 499.62,220.05 499.92,219.75 500.22,224.34 500.52,224.21 500.82,219.95 501.13,220.05 501.44,224.26 501.76,224.56 502.08,220.64 502.41,221.15 502.75,225.48 503.1,225.34 503.39,221.22 503.68,221.48 504,225.01 504.32,225.13 504.64,221.39 504.98,220.86 505.32,224.48 505.65,225.22 505.99,220.88 506.33,220.33 506.66,224.22 506.99,224.31 507.31,220.31 507.61,219.8 507.91,223.5 508.19,223.75 508.45,220.47 508.7,219.77 509.15,224.44 509.56,224.59 509.93,221.19 510.27,221.79 510.58,226.74 510.87,227.1 511.13,223.48 511.37,224 511.6,228.3 512.1,227.6 512.4,221.24 512.7,221.83 513.05,231.53 513.4,239.15 513.8,242.64 514.08,245.61 514.39,253.9 514.7,257.41 515.01,255.66 515.3,258.16 515.58,260.98 515.82,258.86 516.09,252.08 516.5,247.6 516.74,249.93 517.02,246.94 517.33,239.7 517.66,236.45 518,238.01 518.34,234.26 518.68,227.84 519,224.7 519.3,226.92 519.65,223.57 519.96,217.15 520.27,215.08 520.57,217.93 520.88,216.23 521.22,210.76 521.6,209.71 521.86,214.19 522.14,214.52 522.43,210.25 522.73,209.88 523.03,214.37 523.34,215.01 523.66,211.73 523.97,212.23 524.29,216.93 524.6,218.29 524.9,215.18 525.22,215 525.54,220.66 525.85,220.85 526.16,218.07 526.47,219.05 526.79,223.92 527.12,223.67 527.46,220.78 527.82,221.87 528.2,226.94 528.47,226.32 528.74,223 529.02,224.1 529.32,227.66 529.61,228.42 529.92,224.77 530.23,225.58 530.54,230.24 530.85,229.67 531.16,226.64 531.48,226.87 531.79,231.17 532.1,230.95 532.4,227.44 532.7,226.74 533.02,230.66 533.33,230.19 533.65,226.5 533.96,225.71 534.27,228.96 534.59,228.3 534.9,224.37 535.21,223.63 535.53,227.14 535.84,226.14 536.15,221.67 536.47,220.72 536.78,224.89 537.1,223.63 537.41,219.78 537.73,219.74 538.06,223.24 538.4,222.14 538.74,217.91 539.08,218.25 539.43,221.64 539.76,221.57 540.08,217.24 540.39,216.45 540.68,220.74 540.95,220.34 541.2,215.71 541.42,215.67 541.6,219.29 542.13,221.75 542.1,221.05" fill="none" stroke="#f6b0f6" stroke-width="3.0" stroke-linejoin="round" opacity="0.55" />
<polyline points="322.6,221.19 322.84,221.89 323.2,218.17 323.6,219.01 323.96,223.62 324.2,223.48 324.23,219.52 324.2,222.8 324.47,231.65 324.86,239.12 325.3,242.99 325.58,246.11 325.89,254.42 326.2,257.51 326.51,256.39 326.8,257.18 327.16,260.99 327.49,257.75 328,248.03 328.24,246.07 328.52,247.33 328.83,243.63 329.16,237.29 329.5,233.85 329.84,234.29 330.18,230.93 330.5,225.18 330.8,222.37 331.15,224.07 331.46,221.91 331.77,215.61 332.07,214.06 332.38,215.95 332.72,215.31 333.1,210.13 333.36,210.49 333.64,214.41 333.93,213.65 334.23,210.04 334.53,210.6 334.84,216.06 335.16,216.05 335.47,212.94 335.79,213.22 336.1,218.12 336.4,218.56 336.72,215.18 337.04,216.19 337.35,220.98 337.66,222.19 337.97,218.77 338.29,219.91 338.62,224.65 338.96,225.6 339.32,221.95 339.7,222 339.97,227.25 340.24,227.8 340.52,224.17 340.82,224.2 341.11,228.81 341.42,228.62 341.73,225.76 342.04,225.82 342.35,229.8 342.66,229.82 342.98,227.01 343.29,227.36 343.6,230.39 343.9,231.29 344.2,226.79 344.52,226.34 344.83,230.26 345.15,230.49 345.46,226.18 345.77,224.69 346.09,228.83 346.4,227.56 346.71,223.76 347.03,222.68 347.34,226.73 347.65,226.26 347.97,221.14 348.28,221.23 348.6,223.97 348.9,223.32 349.2,219.56 349.5,218.49 349.8,222.3 350.1,222.17 350.4,218.04 350.7,217.14 351,220.67 351.3,221.34 351.6,216.4 351.9,216.92 352.2,220.63 352.5,219.84 352.8,215.82 353.1,215.82 353.42,219.97 353.73,219.98 354.05,216.07 354.36,216.33 354.68,220.95 354.99,220.7 355.31,216.9 355.62,217.56 355.93,221.3 356.25,221.69 356.56,218.81 356.87,218.55 357.19,222.84 357.5,222.41 357.81,219.1 358.12,219.5 358.42,223.04 358.72,223.96 359.02,220.19 359.32,219.7 359.62,224.57 359.93,224.56 360.24,220.98 360.56,220.74 360.88,225.3 361.21,225.44 361.55,220.67 361.9,220.77 362.19,225.53 362.48,225.85 362.8,220.95 363.12,221.12 363.44,225.2 363.78,224.76 364.12,220.7 364.45,220.51 364.79,224.46 365.13,224.61 365.46,220.14 365.79,220.13 366.11,224.52 366.41,223.57 366.71,220.18 366.99,220.38 367.25,223.9 367.5,223.87 367.95,220.86 368.36,220.64 368.73,225.16 369.06,226.11 369.37,223.1 369.65,223.02 369.91,227.84 370.16,228.27 370.4,225.1 370.84,224.01 371.16,227.01 371.43,225.17 371.7,222.2 372.07,227.77 372.41,239.72 372.8,246.34 373.08,245.81 373.39,249.56 373.7,257.57 374.01,259.85 374.3,257.97 374.66,257.24 374.99,256.92 375.5,251.73 375.74,246.15 376.02,243.3 376.33,244.52 376.66,240.8 377,233.29 377.34,230.28 377.68,231.85 378,228.47 378.3,222.22 378.65,219.71 378.96,221.35 379.27,219.25 379.57,214.06 379.88,211.67 380.22,214.35 380.6,214.73 380.86,210.43 381.14,210.54 381.43,214.06 381.73,215.01 382.03,211.45 382.34,211.16 382.66,216.42 382.97,217.19 383.29,213.66 383.6,214.13 383.9,218.45 384.22,219.16 384.54,215.76 384.85,216.36 385.16,221.81 385.47,222.29 385.79,219.77 386.12,219.68 386.46,225.5 386.82,225.98 387.2,222.91 387.47,223.29 387.74,227.73 388.02,227.78 388.32,223.54 388.61,224.85 388.92,228.57 389.23,229.12 389.54,225.92 389.85,226.09 390.16,230.24 390.48,231.11 390.79,226.9 391.1,226.7 391.4,230.63 391.7,231.33 392.02,226.73 392.33,226.85 392.65,229.99 392.96,229.37 393.27,225.28 393.59,225.07 393.9,227.71 394.21,227.85 394.53,223.39 394.84,222.64 395.15,226.07 395.47,224.54 395.78,220.79 396.1,220.64 396.4,223.28 396.7,223.17 397,218.77 397.3,218.7 397.6,222.19 397.9,221.88 398.2,217.88 398.5,216.62 398.8,220.37 399.1,220.17 399.4,215.92 399.7,215.64 400,220.56 400.3,220.29 400.6,215.3 400.92,215.8 401.23,219.65 401.55,219.78 401.86,216.01 402.18,216.6 402.49,220.79 402.81,220.81 403.12,216.92 403.43,217.41 403.75,221.48 404.06,222.3 404.37,218.78 404.69,218.64 405,222.5 405.31,222.81 405.62,219.25 405.92,219.74 406.22,224.16 406.52,223.88 406.82,220.59 407.12,220.57 407.43,224.52 407.74,224.61 408.06,220.91 408.38,221.29 408.71,225.06 409.05,225.48 409.4,221.25 409.69,221.01 409.98,225.34 410.3,225.48 410.62,220.66 410.94,220.99 411.28,224.89 411.62,225.32 411.95,221.26 412.29,220.46 412.63,224.97 412.96,224.73 413.29,219.99 413.61,220.15 413.91,223.68 414.21,224.47 414.49,220.29 414.75,220.59 415,224.55 415.45,224.69 415.86,221.23 416.23,221.61 416.57,225.71 416.88,226.96 417.17,222.9 417.43,223.62 417.67,228.8 417.9,228.15 418.4,223.12 418.7,221.29 419,226.86 419.35,231.21 419.7,234.69 420.1,242.81 420.38,249.69 420.69,254.43 421,253.74 421.31,256.63 421.6,262.14 421.96,260.92 422.29,253.66 422.8,247.44 423.04,250.11 423.32,247.14 423.63,240.41 423.96,236.51 424.3,238.04 424.64,235.05 424.98,226.97 425.3,224.53 425.6,226.48 425.95,224.2 426.26,217.14 426.57,214.97 426.87,217.26 427.18,216.22 427.52,211.25 427.9,210.07 428.16,213.81 428.44,213.83 428.73,209.96 429.03,210.37 429.33,214.44 429.64,215.5 429.96,212.69 430.27,212.69 430.59,217.76 430.9,217.7 431.2,214.93 431.52,215.66 431.84,220.3 432.15,220.9 432.46,217.68 432.78,218.72 433.09,223.87 433.42,223.8 433.76,220.53 434.12,222.04 434.5,226.9 434.77,226.84 435.04,223.18 435.32,223.95 435.62,227.74 435.91,228.27 436.22,224.61 436.53,225.47 436.84,229.51 437.15,229.74 437.46,226.58 437.78,227.13 438.09,230.52 438.4,231.13 438.7,226.83 439,227.32 439.32,230.86 439.63,230.23 439.95,225.82 440.26,225.16 440.57,229.21 440.89,228.55 441.2,223.71 441.51,223.33 441.83,226.67 442.14,226.6 442.45,221.26 442.77,221.72 443.08,224.61 443.4,224.32 443.7,219.79 444,219.84 444.3,223.44 444.6,222.73 444.9,218.26 445.2,218.17 445.5,221.98 445.8,221.1 446.1,217.18 446.4,217.17 446.7,220.33 447,219.83 447.3,215.67 447.6,216.13 447.9,220.01 448.22,220.35 448.53,216.29 448.85,215.69 449.16,219.81 449.48,220.13 449.79,216.31 450.11,217.23 450.42,221.72 450.73,222.09 451.05,217.64 451.36,218.67 451.67,222.3 451.99,222.69 452.3,219.27 452.61,218.7 452.92,222.92 453.22,224.01 453.52,219.57 453.82,219.86 454.12,224.32 454.43,224.63 454.73,220.01 455.04,220.57 455.36,224.84 455.68,225.03 456.01,220.81 456.35,221.34 456.7,225.85 456.99,225.18 457.28,221.35 457.6,220.79 457.92,224.91 458.24,225.28 458.58,220.51 458.92,221.32 459.25,225.23 459.59,224.13 459.93,221.02 460.26,220.23 460.59,224.6 460.91,224.5 461.21,219.89 461.51,220.31 461.79,224.28 462.05,224.49 462.3,219.92 462.76,220.8 463.18,225.51 463.57,225.74 463.92,222.23 464.24,222.4 464.53,227.49 464.79,227.87 465.01,224.73 465.2,224.91 465.41,226.66 465.4,226.02 465.69,227.77 466.07,235.42 466.5,246.01 466.78,250.61 467.09,250.2 467.4,253.08 467.71,260.74 468,261.17 468.36,256.63 468.69,253.57 469.2,252.12 469.44,249.85 469.72,243.31 470.03,240.1 470.36,240.76 470.7,237.35 471.04,230.02 471.38,227.75 471.7,229.05 472,226.45 472.35,220.1 472.66,217.28 472.97,219.08 473.27,217.42 473.58,212.52 473.92,210.4 474.3,214.21 474.56,213.67 474.84,210.28 475.13,209.96 475.43,214.27 475.73,214.82 476.04,211.55 476.36,212.45 476.67,216.61 476.99,217.88 477.3,213.64 477.6,214.42 477.92,218.87 478.24,219.62 478.55,217.21 478.86,217.98 479.18,222.17 479.49,223.02 479.82,220.12 480.16,221.31 480.52,226.12 480.9,226.7 481.17,222.93 481.44,222.82 481.72,227.56 482.02,227.75 482.31,224.58 482.62,225.05 482.93,229.01 483.24,229.43 483.55,226.4 483.86,225.78 484.18,230.95 484.49,231.24 484.8,227.42 485.1,226.79 485.4,230.96 485.72,230.86 486.03,226.67 486.35,226.74 486.66,229.96 486.97,229 487.29,225.12 487.6,224.09 487.91,227.62 488.23,227.15 488.54,221.68 488.85,222.01 489.17,225.33 489.48,224.62 489.8,220.23 490.1,219.78 490.4,223.07 490.7,223.09 491,218.11 491.3,218.28 491.6,222.08 491.9,221.49 492.2,217.29 492.5,217.45 492.8,221.09 493.1,219.93 493.4,216.51 493.7,216.14 494,219.33 494.3,219.63 494.62,215.48 494.93,215.36 495.25,220.05 495.56,220.7 495.88,216.21 496.19,217.13 496.51,221.21 496.82,220.85 497.13,218.04 497.45,218.05 497.76,222.75 498.07,222.78 498.39,219.07 498.7,218.81 499.01,223.57 499.32,223.92 499.62,220.05 499.92,219.75 500.22,224.34 500.52,224.21 500.82,219.95 501.13,220.05 501.44,224.26 501.76,224.56 502.08,220.64 502.41,221.15 502.75,225.48 503.1,225.34 503.39,221.22 503.68,221.48 504,225.01 504.32,225.13 504.64,221.39 504.98,220.86 505.32,224.48 505.65,225.22 505.99,220.88 506.33,220.33 506.66,224.22 506.99,224.31 507.31,220.31 507.61,219.8 507.91,223.5 508.19,223.75 508.45,220.47 508.7,219.77 509.15,224.44 509.56,224.59 509.93,221.19 510.27,221.79 510.58,226.74 510.87,227.1 511.13,223.48 511.37,224 511.6,228.3 512.1,227.6 512.4,221.24 512.7,221.83 513.05,231.53 513.4,239.15 513.8,242.64 514.08,245.61 514.39,253.9 514.7,257.41 515.01,255.66 515.3,258.16 515.58,260.98 515.82,258.86 516.09,252.08 516.5,247.6 516.74,249.93 517.02,246.94 517.33,239.7 517.66,236.45 518,238.01 518.34,234.26 518.68,227.84 519,224.7 519.3,226.92 519.65,223.57 519.96,217.15 520.27,215.08 520.57,217.93 520.88,216.23 521.22,210.76 521.6,209.71 521.86,214.19 522.14,214.52 522.43,210.25 522.73,209.88 523.03,214.37 523.34,215.01 523.66,211.73 523.97,212.23 524.29,216.93 524.6,218.29 524.9,215.18 525.22,215 525.54,220.66 525.85,220.85 526.16,218.07 526.47,219.05 526.79,223.92 527.12,223.67 527.46,220.78 527.82,221.87 528.2,226.94 528.47,226.32 528.74,223 529.02,224.1 529.32,227.66 529.61,228.42 529.92,224.77 530.23,225.58 530.54,230.24 530.85,229.67 531.16,226.64 531.48,226.87 531.79,231.17 532.1,230.95 532.4,227.44 532.7,226.74 533.02,230.66 533.33,230.19 533.65,226.5 533.96,225.71 534.27,228.96 534.59,228.3 534.9,224.37 535.21,223.63 535.53,227.14 535.84,226.14 536.15,221.67 536.47,220.72 536.78,224.89 537.1,223.63 537.41,219.78 537.73,219.74 538.06,223.24 538.4,222.14 538.74,217.91 539.08,218.25 539.43,221.64 539.76,221.57 540.08,217.24 540.39,216.45 540.68,220.74 540.95,220.34 541.2,215.71 541.42,215.67 541.6,219.29 542.13,221.75 542.1,221.05" fill="none" stroke="#f08af0" stroke-width="0.8" stroke-linejoin="round" opacity="1" />
<rect x="319.5" y="205.7" width="224.1" height="63.4" fill="none" stroke="#1a1a1a" stroke-width="1.2" />
<line x1="319.5" y1="208.74" x2="318" y2="208.74" stroke="#222" stroke-width="0.8" />
<text x="317.7" y="211.14" font-size="6.8" fill="#222" font-weight="bold" text-anchor="end" >0.4</text>
<line x1="319.5" y1="228.3" x2="318" y2="228.3" stroke="#222" stroke-width="0.8" />
<text x="317.7" y="230.7" font-size="6.8" fill="#222" font-weight="bold" text-anchor="end" >0.0</text>
<line x1="319.5" y1="247.86" x2="318" y2="247.86" stroke="#222" stroke-width="0.8" />
<text x="317.7" y="250.26" font-size="6.8" fill="#222" font-weight="bold" text-anchor="end" >-0.4</text>
<line x1="319.5" y1="267.42" x2="318" y2="267.42" stroke="#222" stroke-width="0.8" />
<text x="317.7" y="269.82" font-size="6.8" fill="#222" font-weight="bold" text-anchor="end" >-0.8</text>
<line x1="322.6" y1="269.1" x2="322.6" y2="270.5" stroke="#222" stroke-width="0.8" />
<text transform="translate(322.6 277.7) scale(0.88 1)" x="0" y="0" font-size="7.4" fill="#222" font-weight="normal" text-anchor="middle" >0.0</text>
<line x1="358.8" y1="269.1" x2="358.8" y2="270.5" stroke="#222" stroke-width="0.8" />
<text transform="translate(358.8 277.7) scale(0.88 1)" x="0" y="0" font-size="7.4" fill="#222" font-weight="normal" text-anchor="middle" >0.5</text>
<line x1="395" y1="269.1" x2="395" y2="270.5" stroke="#222" stroke-width="0.8" />
<text transform="translate(395 277.7) scale(0.88 1)" x="0" y="0" font-size="7.4" fill="#222" font-weight="normal" text-anchor="middle" >1.0</text>
<line x1="431.2" y1="269.1" x2="431.2" y2="270.5" stroke="#222" stroke-width="0.8" />
<text transform="translate(431.2 277.7) scale(0.88 1)" x="0" y="0" font-size="7.4" fill="#222" font-weight="normal" text-anchor="middle" >1.5</text>
<line x1="467.4" y1="269.1" x2="467.4" y2="270.5" stroke="#222" stroke-width="0.8" />
<text transform="translate(467.4 277.7) scale(0.88 1)" x="0" y="0" font-size="7.4" fill="#222" font-weight="normal" text-anchor="middle" >2.0</text>
<line x1="503.6" y1="269.1" x2="503.6" y2="270.5" stroke="#222" stroke-width="0.8" />
<text transform="translate(503.6 277.7) scale(0.88 1)" x="0" y="0" font-size="7.4" fill="#222" font-weight="normal" text-anchor="middle" >2.5</text>
<line x1="539.8" y1="269.1" x2="539.8" y2="270.5" stroke="#222" stroke-width="0.8" />
<text transform="translate(539.8 277.7) scale(0.88 1)" x="0" y="0" font-size="7.4" fill="#222" font-weight="normal" text-anchor="middle" >3.0</text>
<text transform="translate(431.8 287.4) scale(0.8 1)" x="0" y="0" font-size="8.2" fill="#222" font-weight="bold" text-anchor="middle" >Time (s)</text>
<text x="305.2" y="230.4" font-size="7.5" fill="#222" font-weight="bold" text-anchor="middle" transform="rotate(-90 305.2 230.4)" >Current (nA)</text>
<text x="297.6" y="202" font-size="5.4" fill="#555" font-weight="normal" text-anchor="start" >v</text>
<text transform="translate(424.2 263.2) scale(0.62 1)" x="0" y="0" font-size="12" fill="#111" font-weight="bold" text-anchor="start" >P<tspan font-size="6.5" dy="1.6">s</tspan></text>
<text transform="translate(437 241.6) scale(0.62 1)" x="0" y="0" font-size="12" fill="#111" font-weight="bold" text-anchor="start" >P<tspan font-size="6.5" dy="1.6">i</tspan></text>
<text transform="translate(452.8 239) scale(0.62 1)" x="0" y="0" font-size="12" fill="#111" font-weight="bold" text-anchor="start" >P<tspan font-size="6.5" dy="1.6">d</tspan></text>
<text x="27" y="15.3" font-size="8.6" fill="#222" font-weight="normal" text-anchor="start" >a</text>
<text x="43.4" y="14.2" font-size="7.6" fill="#555" font-weight="bold" text-anchor="start" >i</text>
<path d="M35.2,49.2 C36.03,48.02 43.03,44.78 47,42.5 C50.97,40.22 54.87,38 59,35.5 C63.13,33 68.3,29.12 71.8,27.5 C75.3,25.88 76.97,26.22 80,25.8 C83.03,25.38 86.5,25.37 90,25 C93.5,24.63 97.67,24.17 101,23.6 C104.33,23.03 107.33,22.45 110,21.6 C112.67,20.75 115.08,19.68 117,18.5 C118.92,17.32 120.25,15.83 121.5,14.5 C122.75,13.17 123.68,11.72 124.5,10.5 C125.32,9.28 125.23,7.15 126.4,7.2 C127.57,7.25 129.78,9.47 131.5,10.8 C133.22,12.13 136.08,13.42 136.7,15.2 C137.32,16.98 135.78,19.45 135.2,21.5 C134.62,23.55 134.23,25.67 133.2,27.5 C132.17,29.33 130.5,30.87 129,32.5 C127.5,34.13 126.37,35.92 124.2,37.3 C122.03,38.68 118.73,39.77 116,40.8 C113.27,41.83 110.97,42.77 107.8,43.5 C104.63,44.23 100.42,44.75 97,45.2 C93.58,45.65 91.5,45.85 87.3,46.2 C83.1,46.55 76.35,46.93 71.8,47.3 C67.25,47.67 63.48,48.07 60,48.4 C56.52,48.73 53.9,49.1 50.9,49.3 C47.9,49.5 44.62,49.62 42,49.6 C39.38,49.58 34.37,50.38 35.2,49.2 Z" fill="url(#gSheet)" stroke="#b5b5b5" stroke-width="0.4"/>
<clipPath id="cGold1"><path d="M50.9,44.2 C50.9,43.43 54.82,41.37 57,39.8 C59.18,38.23 61.53,36.47 64,34.8 C66.47,33.13 69.13,30.9 71.8,29.8 C74.47,28.7 76.97,28.62 80,28.2 C83.03,27.78 86.83,27.6 90,27.3 C93.17,27 96,26.85 99,26.4 C102,25.95 105.4,25.28 108,24.6 C110.6,23.92 112.68,23.1 114.6,22.3 C116.52,21.5 117.93,20.65 119.5,19.8 C121.07,18.95 122.53,18 124,17.2 C125.47,16.4 127.27,14.95 128.3,15 C129.33,15.05 129.82,16.42 130.2,17.5 C130.58,18.58 130.67,20 130.6,21.5 C130.53,23 130.48,24.95 129.8,26.5 C129.12,28.05 127.8,29.58 126.5,30.8 C125.2,32.02 123.92,32.72 122,33.8 C120.08,34.88 117.5,36.33 115,37.3 C112.5,38.27 109.67,38.98 107,39.6 C104.33,40.22 102.17,40.53 99,41 C95.83,41.47 91.83,42 88,42.4 C84.17,42.8 79.67,43.13 76,43.4 C72.33,43.67 69.17,43.83 66,44 C62.83,44.17 59.52,44.37 57,44.4 C54.48,44.43 50.9,44.97 50.9,44.2 Z"/></clipPath>
<path d="M50.9,44.2 C50.9,43.43 54.82,41.37 57,39.8 C59.18,38.23 61.53,36.47 64,34.8 C66.47,33.13 69.13,30.9 71.8,29.8 C74.47,28.7 76.97,28.62 80,28.2 C83.03,27.78 86.83,27.6 90,27.3 C93.17,27 96,26.85 99,26.4 C102,25.95 105.4,25.28 108,24.6 C110.6,23.92 112.68,23.1 114.6,22.3 C116.52,21.5 117.93,20.65 119.5,19.8 C121.07,18.95 122.53,18 124,17.2 C125.47,16.4 127.27,14.95 128.3,15 C129.33,15.05 129.82,16.42 130.2,17.5 C130.58,18.58 130.67,20 130.6,21.5 C130.53,23 130.48,24.95 129.8,26.5 C129.12,28.05 127.8,29.58 126.5,30.8 C125.2,32.02 123.92,32.72 122,33.8 C120.08,34.88 117.5,36.33 115,37.3 C112.5,38.27 109.67,38.98 107,39.6 C104.33,40.22 102.17,40.53 99,41 C95.83,41.47 91.83,42 88,42.4 C84.17,42.8 79.67,43.13 76,43.4 C72.33,43.67 69.17,43.83 66,44 C62.83,44.17 59.52,44.37 57,44.4 C54.48,44.43 50.9,44.97 50.9,44.2 Z" fill="url(#gGold)" />
<g clip-path="url(#cGold1)" fill="none"><path d="M50,44.5 C75,44 100,41 132,27" stroke="#7a5a26" stroke-width="0.75" stroke-dasharray="2.0 1.4" opacity="0.8"/><path d="M50,42.3 C75,41.4 100,38.1 132,24.9" stroke="#7a5a26" stroke-width="0.75" stroke-dasharray="2.0 1.4" opacity="0.8"/><path d="M50,40.1 C75,38.8 100,35.2 132,22.8" stroke="#7a5a26" stroke-width="0.75" stroke-dasharray="2.0 1.4" opacity="0.8"/><path d="M50,37.9 C75,36.2 100,32.3 132,20.7" stroke="#7a5a26" stroke-width="0.75" stroke-dasharray="2.0 1.4" opacity="0.8"/><path d="M50,35.7 C75,33.6 100,29.4 132,18.6" stroke="#7a5a26" stroke-width="0.75" stroke-dasharray="2.0 1.4" opacity="0.8"/><path d="M50,33.5 C75,31 100,26.5 132,16.5" stroke="#7a5a26" stroke-width="0.75" stroke-dasharray="2.0 1.4" opacity="0.8"/><path d="M50,31.3 C75,28.4 100,23.6 132,14.4" stroke="#7a5a26" stroke-width="0.75" stroke-dasharray="2.0 1.4" opacity="0.8"/><path d="M50,29.1 C75,25.8 100,20.7 132,12.3" stroke="#7a5a26" stroke-width="0.75" stroke-dasharray="2.0 1.4" opacity="0.8"/><path d="M50,26.9 C75,23.2 100,17.8 132,10.2" stroke="#7a5a26" stroke-width="0.75" stroke-dasharray="2.0 1.4" opacity="0.8"/><path d="M52,46 L60,22" stroke="#f4e2b8" stroke-width="0.45" stroke-dasharray="0.6 2.4" opacity="0.9"/><path d="M57.6,46 L65.4,22" stroke="#f4e2b8" stroke-width="0.45" stroke-dasharray="0.6 2.4" opacity="0.9"/><path d="M63.2,46 L70.8,22" stroke="#f4e2b8" stroke-width="0.45" stroke-dasharray="0.6 2.4" opacity="0.9"/><path d="M68.8,46 L76.2,22" stroke="#f4e2b8" stroke-width="0.45" stroke-dasharray="0.6 2.4" opacity="0.9"/><path d="M74.4,46 L81.6,22" stroke="#f4e2b8" stroke-width="0.45" stroke-dasharray="0.6 2.4" opacity="0.9"/><path d="M80,46 L87,22" stroke="#f4e2b8" stroke-width="0.45" stroke-dasharray="0.6 2.4" opacity="0.9"/><path d="M85.6,46 L92.4,22" stroke="#f4e2b8" stroke-width="0.45" stroke-dasharray="0.6 2.4" opacity="0.9"/><path d="M91.2,46 L97.8,22" stroke="#f4e2b8" stroke-width="0.45" stroke-dasharray="0.6 2.4" opacity="0.9"/><path d="M96.8,46 L103.2,22" stroke="#f4e2b8" stroke-width="0.45" stroke-dasharray="0.6 2.4" opacity="0.9"/><path d="M102.4,46 L108.6,22" stroke="#f4e2b8" stroke-width="0.45" stroke-dasharray="0.6 2.4" opacity="0.9"/><path d="M108,46 L114,22" stroke="#f4e2b8" stroke-width="0.45" stroke-dasharray="0.6 2.4" opacity="0.9"/><path d="M113.6,46 L119.4,22" stroke="#f4e2b8" stroke-width="0.45" stroke-dasharray="0.6 2.4" opacity="0.9"/><path d="M119.2,46 L124.8,22" stroke="#f4e2b8" stroke-width="0.45" stroke-dasharray="0.6 2.4" opacity="0.9"/><path d="M124.8,46 L130.2,22" stroke="#f4e2b8" stroke-width="0.45" stroke-dasharray="0.6 2.4" opacity="0.9"/><path d="M130.4,46 L135.6,22" stroke="#f4e2b8" stroke-width="0.45" stroke-dasharray="0.6 2.4" opacity="0.9"/></g>
<path d="M59,55.2 C58.33,54 60.77,51.47 62,50 C63.23,48.53 64.4,47.08 66.4,46.4 C68.4,45.72 71.28,46.05 74,45.9 C76.72,45.75 79.87,45.67 82.7,45.5 C85.53,45.33 88.27,45.17 91,44.9 C93.73,44.63 96.27,44.35 99.1,43.9 C101.93,43.45 105.27,42.88 108,42.2 C110.73,41.52 113.25,40.58 115.5,39.8 C117.75,39.02 119.6,38.32 121.5,37.5 C123.4,36.68 125.55,35.18 126.9,34.9 C128.25,34.62 128.78,35.38 129.6,35.8 C130.42,36.22 131.18,36.7 131.8,37.4 C132.42,38.1 132.88,39.05 133.3,40 C133.72,40.95 135.02,42.07 134.3,43.1 C133.58,44.13 130.78,45.22 129,46.2 C127.22,47.18 125.85,48.03 123.6,49 C121.35,49.97 118.22,51.13 115.5,52 C112.78,52.87 110.05,53.53 107.3,54.2 C104.55,54.87 101.73,55.5 99,56 C96.27,56.5 93.65,56.92 90.9,57.2 C88.15,57.48 85.23,57.63 82.5,57.7 C79.77,57.77 77.25,57.68 74.5,57.6 C71.75,57.52 68.58,57.6 66,57.2 C63.42,56.8 59.67,56.4 59,55.2 Z" fill="url(#gPur)" />
<path d="M59,55.2 C58.33,54 60.77,51.47 62,50 C63.23,48.53 64.4,47.08 66.4,46.4 C68.4,45.72 71.28,46.05 74,45.9 C76.72,45.75 79.87,45.67 82.7,45.5 C85.53,45.33 88.27,45.17 91,44.9 C93.73,44.63 96.27,44.35 99.1,43.9 C101.93,43.45 105.27,42.88 108,42.2 C110.73,41.52 113.25,40.58 115.5,39.8 C117.75,39.02 119.6,38.32 121.5,37.5 C123.4,36.68 125.55,35.18 126.9,34.9 C128.25,34.62 128.78,35.38 129.6,35.8 C130.42,36.22 131.18,36.7 131.8,37.4 C132.42,38.1 132.88,39.05 133.3,40 C133.72,40.95 135.02,42.07 134.3,43.1 C133.58,44.13 130.78,45.22 129,46.2 C127.22,47.18 125.85,48.03 123.6,49 C121.35,49.97 118.22,51.13 115.5,52 C112.78,52.87 110.05,53.53 107.3,54.2 C104.55,54.87 101.73,55.5 99,56 C96.27,56.5 93.65,56.92 90.9,57.2 C88.15,57.48 85.23,57.63 82.5,57.7 C79.77,57.77 77.25,57.68 74.5,57.6 C71.75,57.52 68.58,57.6 66,57.2 C63.42,56.8 59.67,56.4 59,55.2 Z" fill="#000" filter="url(#fNoise)" opacity="0.18"/>
<path d="M45.6,73.2 C45.77,72.15 49.27,69.93 51,68.5 C52.73,67.07 54.4,66.22 56,64.6 C57.6,62.98 57.02,59.95 60.6,58.8 C64.18,57.65 70.6,57.87 77.5,57.7 C84.4,57.53 95.12,57.32 102,57.8 C108.88,58.28 114.6,59.18 118.8,60.6 C123,62.02 125.58,63.07 127.2,66.3 C128.82,69.53 128.12,75.22 128.5,80 C128.88,84.78 129.22,90.88 129.5,95 C129.78,99.12 130.73,103.78 130.2,104.7 C129.67,105.62 128,101.87 126.3,100.5 C124.6,99.13 121.88,97.72 120,96.5 C118.12,95.28 117.5,94.47 115,93.2 C112.5,91.93 108.12,90.2 105,88.9 C101.88,87.6 99.47,86.52 96.3,85.4 C93.13,84.28 89.13,83.13 86,82.2 C82.87,81.27 80.5,80.57 77.5,79.8 C74.5,79.03 71.12,78.23 68,77.6 C64.88,76.97 61.8,76.47 58.8,76 C55.8,75.53 52.2,75.27 50,74.8 C47.8,74.33 45.43,74.25 45.6,73.2 Z" fill="url(#gSheet)" stroke="#bdbdbd" stroke-width="0.4"/>
<path d="M56,64.4 C56.03,63.3 57.23,62.43 58,61.5 C58.77,60.57 58.93,59.38 60.6,58.8 C62.27,58.22 65.18,58.18 68,58 C70.82,57.82 73.83,57.78 77.5,57.7 C81.17,57.62 85.92,57.48 90,57.5 C94.08,57.52 98.5,57.58 102,57.8 C105.5,58.02 108.2,58.33 111,58.8 C113.8,59.27 116.72,59.9 118.8,60.6 C120.88,61.3 122.1,62.05 123.5,63 C124.9,63.95 126.57,64.8 127.2,66.3 C127.83,67.8 127.33,69.72 127.3,72 C127.27,74.28 127.13,77.05 127,80 C126.87,82.95 127.33,88.87 126.5,89.7 C125.67,90.53 123.28,86.4 122,85 C120.72,83.6 120.47,82.55 118.8,81.3 C117.13,80.05 114.18,78.6 112,77.5 C109.82,76.4 108.37,75.73 105.7,74.7 C103.03,73.67 99.13,72.23 96,71.3 C92.87,70.37 90.07,69.68 86.9,69.1 C83.73,68.52 80.13,68.12 77,67.8 C73.87,67.48 70.6,67.25 68.1,67.2 C65.6,67.15 63.72,67.35 62,67.5 C60.28,67.65 58.8,68.62 57.8,68.1 C56.8,67.58 55.97,65.5 56,64.4 Z" fill="url(#gNavy)" />
<path d="M56,64.4 C56.03,63.3 57.23,62.43 58,61.5 C58.77,60.57 58.93,59.38 60.6,58.8 C62.27,58.22 65.18,58.18 68,58 C70.82,57.82 73.83,57.78 77.5,57.7 C81.17,57.62 85.92,57.48 90,57.5 C94.08,57.52 98.5,57.58 102,57.8 C105.5,58.02 108.2,58.33 111,58.8 C113.8,59.27 116.72,59.9 118.8,60.6 C120.88,61.3 122.1,62.05 123.5,63 C124.9,63.95 126.57,64.8 127.2,66.3 C127.83,67.8 127.33,69.72 127.3,72 C127.27,74.28 127.13,77.05 127,80 C126.87,82.95 127.33,88.87 126.5,89.7 C125.67,90.53 123.28,86.4 122,85 C120.72,83.6 120.47,82.55 118.8,81.3 C117.13,80.05 114.18,78.6 112,77.5 C109.82,76.4 108.37,75.73 105.7,74.7 C103.03,73.67 99.13,72.23 96,71.3 C92.87,70.37 90.07,69.68 86.9,69.1 C83.73,68.52 80.13,68.12 77,67.8 C73.87,67.48 70.6,67.25 68.1,67.2 C65.6,67.15 63.72,67.35 62,67.5 C60.28,67.65 58.8,68.62 57.8,68.1 C56.8,67.58 55.97,65.5 56,64.4 Z" fill="#000" filter="url(#fNoise)" opacity="0.2"/>
<clipPath id="cGold2"><path d="M57.8,68.1 C58.5,67.38 60.28,67.75 62,67.6 C63.72,67.45 65.6,67.15 68.1,67.2 C70.6,67.25 73.87,67.58 77,67.9 C80.13,68.22 83.73,68.55 86.9,69.1 C90.07,69.65 92.87,70.27 96,71.2 C99.13,72.13 103.03,73.63 105.7,74.7 C108.37,75.77 109.82,76.5 112,77.6 C114.18,78.7 117.05,80.27 118.8,81.3 C120.55,82.33 121.4,82.87 122.5,83.8 C123.6,84.73 124.9,85.53 125.4,86.9 C125.9,88.27 125.5,90.12 125.5,92 C125.5,93.88 125.9,97.33 125.4,98.2 C124.9,99.07 124.4,98.18 122.5,97.2 C120.6,96.22 116.8,93.87 114,92.3 C111.2,90.73 108.7,89.22 105.7,87.8 C102.7,86.38 99.13,85.05 96,83.8 C92.87,82.55 90.07,81.38 86.9,80.3 C83.73,79.22 80.13,78.23 77,77.3 C73.87,76.37 70.6,75.42 68.1,74.7 C65.6,73.98 63.72,73.47 62,73 C60.28,72.53 58.5,72.72 57.8,71.9 C57.1,71.08 57.1,68.82 57.8,68.1 Z"/></clipPath>
<path d="M57.8,68.1 C58.5,67.38 60.28,67.75 62,67.6 C63.72,67.45 65.6,67.15 68.1,67.2 C70.6,67.25 73.87,67.58 77,67.9 C80.13,68.22 83.73,68.55 86.9,69.1 C90.07,69.65 92.87,70.27 96,71.2 C99.13,72.13 103.03,73.63 105.7,74.7 C108.37,75.77 109.82,76.5 112,77.6 C114.18,78.7 117.05,80.27 118.8,81.3 C120.55,82.33 121.4,82.87 122.5,83.8 C123.6,84.73 124.9,85.53 125.4,86.9 C125.9,88.27 125.5,90.12 125.5,92 C125.5,93.88 125.9,97.33 125.4,98.2 C124.9,99.07 124.4,98.18 122.5,97.2 C120.6,96.22 116.8,93.87 114,92.3 C111.2,90.73 108.7,89.22 105.7,87.8 C102.7,86.38 99.13,85.05 96,83.8 C92.87,82.55 90.07,81.38 86.9,80.3 C83.73,79.22 80.13,78.23 77,77.3 C73.87,76.37 70.6,75.42 68.1,74.7 C65.6,73.98 63.72,73.47 62,73 C60.28,72.53 58.5,72.72 57.8,71.9 C57.1,71.08 57.1,68.82 57.8,68.1 Z" fill="url(#gGold)" />
<g clip-path="url(#cGold2)" fill="none"><path d="M56,68.5 C80,68.3 105,74 128,85.5" stroke="#7a5a26" stroke-width="0.75" stroke-dasharray="2.0 1.4" opacity="0.8"/><path d="M56,69.5 C80,70.3 105,76.4 128,87.9" stroke="#7a5a26" stroke-width="0.75" stroke-dasharray="2.0 1.4" opacity="0.8"/><path d="M56,70.5 C80,72.3 105,78.8 128,90.3" stroke="#7a5a26" stroke-width="0.75" stroke-dasharray="2.0 1.4" opacity="0.8"/><path d="M56,71.5 C80,74.3 105,81.2 128,92.7" stroke="#7a5a26" stroke-width="0.75" stroke-dasharray="2.0 1.4" opacity="0.8"/><path d="M56,72.5 C80,76.3 105,83.6 128,95.1" stroke="#7a5a26" stroke-width="0.75" stroke-dasharray="2.0 1.4" opacity="0.8"/><path d="M56,73.5 C80,78.3 105,86 128,97.5" stroke="#7a5a26" stroke-width="0.75" stroke-dasharray="2.0 1.4" opacity="0.8"/><path d="M56,74.5 C80,80.3 105,88.4 128,99.9" stroke="#7a5a26" stroke-width="0.75" stroke-dasharray="2.0 1.4" opacity="0.8"/><path d="M58,66 L56,78" stroke="#f4e2b8" stroke-width="0.45" stroke-dasharray="0.6 2.4" opacity="0.9"/><path d="M63,67.2 L61.4,79.8" stroke="#f4e2b8" stroke-width="0.45" stroke-dasharray="0.6 2.4" opacity="0.9"/><path d="M68,68.4 L66.8,81.6" stroke="#f4e2b8" stroke-width="0.45" stroke-dasharray="0.6 2.4" opacity="0.9"/><path d="M73,69.6 L72.2,83.4" stroke="#f4e2b8" stroke-width="0.45" stroke-dasharray="0.6 2.4" opacity="0.9"/><path d="M78,70.8 L77.6,85.2" stroke="#f4e2b8" stroke-width="0.45" stroke-dasharray="0.6 2.4" opacity="0.9"/><path d="M83,72 L83,87" stroke="#f4e2b8" stroke-width="0.45" stroke-dasharray="0.6 2.4" opacity="0.9"/><path d="M88,73.2 L88.4,88.8" stroke="#f4e2b8" stroke-width="0.45" stroke-dasharray="0.6 2.4" opacity="0.9"/><path d="M93,74.4 L93.8,90.6" stroke="#f4e2b8" stroke-width="0.45" stroke-dasharray="0.6 2.4" opacity="0.9"/><path d="M98,75.6 L99.2,92.4" stroke="#f4e2b8" stroke-width="0.45" stroke-dasharray="0.6 2.4" opacity="0.9"/><path d="M103,76.8 L104.6,94.2" stroke="#f4e2b8" stroke-width="0.45" stroke-dasharray="0.6 2.4" opacity="0.9"/><path d="M108,78 L110,96" stroke="#f4e2b8" stroke-width="0.45" stroke-dasharray="0.6 2.4" opacity="0.9"/><path d="M113,79.2 L115.4,97.8" stroke="#f4e2b8" stroke-width="0.45" stroke-dasharray="0.6 2.4" opacity="0.9"/><path d="M118,80.4 L120.8,99.6" stroke="#f4e2b8" stroke-width="0.45" stroke-dasharray="0.6 2.4" opacity="0.9"/><path d="M123,81.6 L126.2,101.4" stroke="#f4e2b8" stroke-width="0.45" stroke-dasharray="0.6 2.4" opacity="0.9"/><path d="M128,82.8 L131.6,103.2" stroke="#f4e2b8" stroke-width="0.45" stroke-dasharray="0.6 2.4" opacity="0.9"/></g>
<rect x="20" y="85" width="7.4" height="3.6" fill="#c49a4c" stroke="none" stroke-width="1" />
<text x="30.4" y="88" font-size="3.4" fill="#333" font-weight="bold" text-anchor="start" >Conductive fabric (PU on the top)</text>
<rect x="20" y="90.65" width="7.4" height="3.6" fill="#5a1596" stroke="none" stroke-width="1" />
<text x="30.4" y="93.65" font-size="3.4" fill="#333" font-weight="bold" text-anchor="start" >PVDF/Ag NWs NFs</text>
<rect x="20" y="96.3" width="7.4" height="3.6" fill="#d6d6d6" stroke="none" stroke-width="1" />
<text x="30.4" y="99.3" font-size="3.4" fill="#333" font-weight="bold" text-anchor="start" >PDMS substrate</text>
<rect x="20" y="101.95" width="7.4" height="3.6" fill="#3c3490" stroke="none" stroke-width="1" />
<text x="30.4" y="104.95" font-size="3.4" fill="#333" font-weight="bold" text-anchor="start" >EC NFs</text>
<text x="147.4" y="15" font-size="7.4" fill="#444" font-weight="bold" text-anchor="start" >ii</text>
<text x="155" y="15.2" font-size="7.6" fill="#111" font-weight="bold" text-anchor="start" textLength="63" lengthAdjust="spacingAndGlyphs">Smooth structured</text>
<path d="M167.2,25.3 C175,26.5 181,28 186.8,29.6 C200,31.5 215,31 230,29 C240,27.5 245,26 248,25.3 C253,23.5 257,22 260.5,21.8 C263,22.3 263.2,25 262,27.5 C259,31 255,34 250,38 C245,41.5 240,43.5 237,43.8 C228,44.6 218,45 208.6,44.9 C197,44.5 183,42.5 167.2,40.5 C166.3,36 166.3,30 167.2,25.3 Z" fill="url(#gBlue)" />
<path d="M167.5,39.8 C170,41 172,41.5 174,41.8 C172,42.8 169.5,42.8 168,42.2 Z" fill="#e070e0" />
<path d="M168,27.6 C168,26.83 172.33,25.23 176,24 C179.67,22.77 184.33,21.03 190,20.2 C195.67,19.37 204,18.87 210,19 C216,19.13 221,19.83 226,21 C231,22.17 236,24.3 240,26 C244,27.7 247.17,29.57 250,31.2 C252.83,32.83 255.08,34.25 257,35.8 C258.92,37.35 260.75,38.97 261.5,40.5 C262.25,42.03 262.08,43.72 261.5,45 C260.92,46.28 259.5,47.6 258,48.2 C256.5,48.8 254.17,49.05 252.5,48.6 C250.83,48.15 250.08,47.13 248,45.5 C245.92,43.87 243.67,40.95 240,38.8 C236.33,36.65 231,34.02 226,32.6 C221,31.18 216,30.85 210,30.3 C204,29.75 195.67,29.58 190,29.3 C184.33,29.02 179.67,28.88 176,28.6 C172.33,28.32 168,28.37 168,27.6 Z" fill="url(#gMag)" />
<ellipse cx="255.3" cy="42.4" rx="5.2" ry="6.4" transform="rotate(-30 255.3 42.4)" fill="#c35ccf"/>
<ellipse cx="255.6" cy="42.6" rx="4.0" ry="5.2" transform="rotate(-30 255.6 42.6)" fill="#b44ac2"/>
<text x="258.6" y="22.2" font-size="5.6" fill="#3a36c4" font-weight="bold" text-anchor="start" >EC</text>
<text x="232.6" y="54.6" font-size="5.6" fill="#c046c6" font-weight="bold" text-anchor="start" textLength="41.4" lengthAdjust="spacingAndGlyphs">Ag NWs/PVDF</text>
<text x="154.8" y="66.4" font-size="7.0" fill="#111" font-weight="bold" text-anchor="start" textLength="58.5" lengthAdjust="spacingAndGlyphs">Rough structured</text>
<path d="M165.7,72.6 C166.83,71.5 169.78,72.92 172,73.4 C174.22,73.88 176,74.57 179,75.5 C182,76.43 186.5,77.83 190,79 C193.5,80.17 195.83,81.42 200,82.5 C204.17,83.58 210.33,85.17 215,85.5 C219.67,85.83 223.83,86.02 228,84.5 C232.17,82.98 236.67,78.08 240,76.4 C243.33,74.72 245.45,74.87 248,74.4 C250.55,73.93 253.47,73.63 255.3,73.6 C257.13,73.57 258.15,73.7 259,74.2 C259.85,74.7 260.4,75.58 260.4,76.6 C260.4,77.62 260.4,78.9 259,80.3 C257.6,81.7 254.5,83.22 252,85 C249.5,86.78 246.67,89.17 244,91 C241.33,92.83 237.93,94.93 236,96 C234.07,97.07 235.52,97 232.4,97.4 C229.28,97.8 223,98.55 217.3,98.4 C211.6,98.25 204.57,97.62 198.2,96.5 C191.83,95.38 184.52,93.42 179.1,91.7 C173.68,89.98 168.02,88.15 165.7,86.2 C163.38,84.25 165.2,82.27 165.2,80 C165.2,77.73 164.57,73.7 165.7,72.6 Z" fill="url(#gBlueR)" />
<clipPath id="cBR"><path d="M165.7,72.6 C166.83,71.5 169.78,72.92 172,73.4 C174.22,73.88 176,74.57 179,75.5 C182,76.43 186.5,77.83 190,79 C193.5,80.17 195.83,81.42 200,82.5 C204.17,83.58 210.33,85.17 215,85.5 C219.67,85.83 223.83,86.02 228,84.5 C232.17,82.98 236.67,78.08 240,76.4 C243.33,74.72 245.45,74.87 248,74.4 C250.55,73.93 253.47,73.63 255.3,73.6 C257.13,73.57 258.15,73.7 259,74.2 C259.85,74.7 260.4,75.58 260.4,76.6 C260.4,77.62 260.4,78.9 259,80.3 C257.6,81.7 254.5,83.22 252,85 C249.5,86.78 246.67,89.17 244,91 C241.33,92.83 237.93,94.93 236,96 C234.07,97.07 235.52,97 232.4,97.4 C229.28,97.8 223,98.55 217.3,98.4 C211.6,98.25 204.57,97.62 198.2,96.5 C191.83,95.38 184.52,93.42 179.1,91.7 C173.68,89.98 168.02,88.15 165.7,86.2 C163.38,84.25 165.2,82.27 165.2,80 C165.2,77.73 164.57,73.7 165.7,72.6 Z"/></clipPath>
<g clip-path="url(#cBR)" stroke="#8a84ee" stroke-width="0.4" opacity="0.7" fill="none"><path d="M164,73 C185,77 210,84 240,80 S255,72 262,72"/><path d="M164,74.6 C185,78.9 210,85.5 240,81.7 S255,73.5 262,73.4"/><path d="M164,76.2 C185,80.8 210,87 240,83.4 S255,75 262,74.8"/><path d="M164,77.8 C185,82.7 210,88.5 240,85.1 S255,76.5 262,76.2"/><path d="M164,79.4 C185,84.6 210,90 240,86.8 S255,78 262,77.6"/><path d="M164,81 C185,86.5 210,91.5 240,88.5 S255,79.5 262,79"/><path d="M164,82.6 C185,88.4 210,93 240,90.2 S255,81 262,80.4"/><path d="M164,84.2 C185,90.3 210,94.5 240,91.9 S255,82.5 262,81.8"/><path d="M164,85.8 C185,92.2 210,96 240,93.6 S255,84 262,83.2"/><path d="M164,87.4 C185,94.1 210,97.5 240,95.3 S255,85.5 262,84.6"/><path d="M164,89 C185,96 210,99 240,97 S255,87 262,86"/><path d="M164,90.6 C185,97.9 210,100.5 240,98.7 S255,88.5 262,87.4"/><path d="M164,92.2 C185,99.8 210,102 240,100.4 S255,90 262,88.8"/><path d="M164,93.8 C185,101.7 210,103.5 240,102.1 S255,91.5 262,90.2"/><path d="M164,95.4 C185,103.6 210,105 240,103.8 S255,93 262,91.6"/><path d="M164,97 C185,105.5 210,106.5 240,105.5 S255,94.5 262,93"/></g>
<path d="M175.3,73.8 C175.87,73.13 177.42,72.33 179,71.8 C180.58,71.27 181.97,70.87 184.8,70.6 C187.63,70.33 192.18,70.2 196,70.2 C199.82,70.2 204.2,70.2 207.7,70.6 C211.2,71 213.82,71.78 217,72.6 C220.18,73.42 223.63,74.55 226.8,75.5 C229.97,76.45 232.82,77.35 236,78.3 C239.18,79.25 243.07,80.45 245.9,81.2 C248.73,81.95 250.77,82.28 253,82.8 C255.23,83.32 257.9,83.43 259.3,84.3 C260.7,85.17 261.15,86.55 261.4,88 C261.65,89.45 261.47,91.4 260.8,93 C260.13,94.6 258.87,96.53 257.4,97.6 C255.93,98.67 253.92,99.07 252,99.4 C250.08,99.73 248.5,99.9 245.9,99.6 C243.3,99.3 239.55,98.53 236.4,97.6 C233.25,96.67 230.18,95.3 227,94 C223.82,92.7 220.47,91.05 217.3,89.8 C214.13,88.55 211.18,87.62 208,86.5 C204.82,85.38 201.53,84.18 198.2,83.1 C194.87,82.02 191.18,80.95 188,80 C184.82,79.05 181.17,78.1 179.1,77.4 C177.03,76.7 176.23,76.4 175.6,75.8 C174.97,75.2 174.73,74.47 175.3,73.8 Z" fill="#9c30d6" />
<clipPath id="cPR"><path d="M175.3,73.8 C175.87,73.13 177.42,72.33 179,71.8 C180.58,71.27 181.97,70.87 184.8,70.6 C187.63,70.33 192.18,70.2 196,70.2 C199.82,70.2 204.2,70.2 207.7,70.6 C211.2,71 213.82,71.78 217,72.6 C220.18,73.42 223.63,74.55 226.8,75.5 C229.97,76.45 232.82,77.35 236,78.3 C239.18,79.25 243.07,80.45 245.9,81.2 C248.73,81.95 250.77,82.28 253,82.8 C255.23,83.32 257.9,83.43 259.3,84.3 C260.7,85.17 261.15,86.55 261.4,88 C261.65,89.45 261.47,91.4 260.8,93 C260.13,94.6 258.87,96.53 257.4,97.6 C255.93,98.67 253.92,99.07 252,99.4 C250.08,99.73 248.5,99.9 245.9,99.6 C243.3,99.3 239.55,98.53 236.4,97.6 C233.25,96.67 230.18,95.3 227,94 C223.82,92.7 220.47,91.05 217.3,89.8 C214.13,88.55 211.18,87.62 208,86.5 C204.82,85.38 201.53,84.18 198.2,83.1 C194.87,82.02 191.18,80.95 188,80 C184.82,79.05 181.17,78.1 179.1,77.4 C177.03,76.7 176.23,76.4 175.6,75.8 C174.97,75.2 174.73,74.47 175.3,73.8 Z"/></clipPath>
<g clip-path="url(#cPR)"><rect x="170" y="65" width="95" height="40" fill="#000" filter="url(#fSpots)"/></g>
<path d="M175.3,73.8 C175.87,73.13 177.42,72.33 179,71.8 C180.58,71.27 181.97,70.87 184.8,70.6 C187.63,70.33 192.18,70.2 196,70.2 C199.82,70.2 204.2,70.2 207.7,70.6 C211.2,71 213.82,71.78 217,72.6 C220.18,73.42 223.63,74.55 226.8,75.5 C229.97,76.45 232.82,77.35 236,78.3 C239.18,79.25 243.07,80.45 245.9,81.2 C248.73,81.95 250.77,82.28 253,82.8 C255.23,83.32 257.9,83.43 259.3,84.3 C260.7,85.17 261.15,86.55 261.4,88 C261.65,89.45 261.47,91.4 260.8,93 C260.13,94.6 258.87,96.53 257.4,97.6 C255.93,98.67 253.92,99.07 252,99.4 C250.08,99.73 248.5,99.9 245.9,99.6 C243.3,99.3 239.55,98.53 236.4,97.6 C233.25,96.67 230.18,95.3 227,94 C223.82,92.7 220.47,91.05 217.3,89.8 C214.13,88.55 211.18,87.62 208,86.5 C204.82,85.38 201.53,84.18 198.2,83.1 C194.87,82.02 191.18,80.95 188,80 C184.82,79.05 181.17,78.1 179.1,77.4 C177.03,76.7 176.23,76.4 175.6,75.8 C174.97,75.2 174.73,74.47 175.3,73.8 Z" fill="none" stroke="#7a1fb0" stroke-width="0.4"/>
<text x="285" y="15.2" font-size="8.6" fill="#111" font-weight="bold" text-anchor="start" >b</text>
<text x="297.6" y="14.2" font-size="7.6" fill="#555" font-weight="bold" text-anchor="start" >i</text>
<path d="M293,61.2 C295.67,60.62 303.83,60.33 310,60.3 C316.17,60.27 323.33,60.55 330,61 C336.67,61.45 343.33,61.83 350,63 C356.67,64.17 362.5,66.25 370,68 C377.5,69.75 387.33,71.83 395,73.5 C402.67,75.17 411.92,76.83 416,78 C420.08,79.17 419.5,79.4 419.5,80.5 C419.5,81.6 419.25,83.1 416,84.6 C412.75,86.1 405.17,88.1 400,89.5 C394.83,90.9 389.17,92.23 385,93 C380.83,93.77 379.17,94.77 375,94.1 C370.83,93.43 365.9,91.5 360,89 C354.1,86.5 346.27,81.93 339.6,79.1 C332.93,76.27 325.77,74.1 320,72 C314.23,69.9 309.33,67.87 305,66.5 C300.67,65.13 296,64.68 294,63.8 C292,62.92 290.33,61.78 293,61.2 Z" fill="url(#gShadow)" filter="url(#blur05)"/>
<path d="M291.8,45.4 C295.22,45.73 304.33,47.1 312.3,48.8 C320.27,50.5 331.42,53.32 339.6,55.6 C347.78,57.88 354.58,60.22 361.4,62.5 C368.22,64.78 373.67,68.03 380.5,69.3 C387.33,70.57 395.8,70.62 402.4,70.1 C409,69.58 416.9,66.75 420.1,66.2 C423.3,65.65 421.37,66.42 421.6,66.8 C421.83,67.18 422.43,67.77 421.5,68.5 C420.57,69.23 418.75,70.03 416,71.2 C413.25,72.37 408.63,74.15 405,75.5 C401.37,76.85 397.7,78.35 394.2,79.3 C390.7,80.25 387.2,80.72 384,81.2 C380.8,81.68 377.5,83.15 375,82.2 C372.5,81.25 371.17,77.78 369,75.5 C366.83,73.22 364.63,70.67 362,68.5 C359.37,66.33 356.87,64.17 353.2,62.5 C349.53,60.83 345.53,60.17 340,58.5 C334.47,56.83 326.67,54.22 320,52.5 C313.33,50.78 304.7,49.15 300,48.2 C295.3,47.25 293.17,47.27 291.8,46.8 C290.43,46.33 288.38,45.07 291.8,45.4 Z" fill="#dc5c44" />
<path d="M291.8,45.4 C295.22,45.73 304.33,47.1 312.3,48.8 C320.27,50.5 331.42,53.32 339.6,55.6 C347.78,57.88 354.58,60.22 361.4,62.5 C368.22,64.78 373.67,68.03 380.5,69.3 C387.33,70.57 395.8,70.62 402.4,70.1 C409,69.58 416.9,66.75 420.1,66.2 C423.3,65.65 421.37,66.42 421.6,66.8 C421.83,67.18 422.43,67.77 421.5,68.5 C420.57,69.23 418.75,70.03 416,71.2 C413.25,72.37 408.63,74.15 405,75.5 C401.37,76.85 397.7,78.35 394.2,79.3 C390.7,80.25 387.2,80.72 384,81.2 C380.8,81.68 377.5,83.15 375,82.2 C372.5,81.25 371.17,77.78 369,75.5 C366.83,73.22 364.63,70.67 362,68.5 C359.37,66.33 356.87,64.17 353.2,62.5 C349.53,60.83 345.53,60.17 340,58.5 C334.47,56.83 326.67,54.22 320,52.5 C313.33,50.78 304.7,49.15 300,48.2 C295.3,47.25 293.17,47.27 291.8,46.8 C290.43,46.33 288.38,45.07 291.8,45.4 Z" fill="#7a1a10" filter="url(#fNoise)" opacity="0.22"/>
<path d="M291.8,43.6 C293.17,43.07 296.58,42.85 300,42.4 C303.42,41.95 307.97,41.38 312.3,40.9 C316.63,40.42 321.45,39.87 326,39.5 C330.55,39.13 335.1,38.73 339.6,38.7 C344.1,38.67 348.45,38.93 353,39.3 C357.55,39.67 362.23,40.22 366.9,40.9 C371.57,41.58 376.45,42.48 381,43.4 C385.55,44.32 390.03,45.43 394.2,46.4 C398.37,47.37 402.37,48.3 406,49.2 C409.63,50.1 413.73,51.03 416,51.8 C418.27,52.57 418.87,52.77 419.6,53.8 C420.33,54.83 420.27,56.63 420.4,58 C420.53,59.37 420.45,60.62 420.4,62 C420.35,63.38 421.5,65.2 420.1,66.3 C418.7,67.4 414.95,67.95 412,68.6 C409.05,69.25 405.9,69.9 402.4,70.2 C398.9,70.5 394.65,70.53 391,70.4 C387.35,70.27 384,70.05 380.5,69.4 C377,68.75 373.18,67.63 370,66.5 C366.82,65.37 364.73,63.88 361.4,62.6 C358.07,61.32 353.63,59.95 350,58.8 C346.37,57.65 343.6,56.78 339.6,55.7 C335.6,54.62 330.55,53.43 326,52.3 C321.45,51.17 316.63,49.85 312.3,48.9 C307.97,47.95 303.42,47.15 300,46.6 C296.58,46.05 293.17,46.1 291.8,45.6 C290.43,45.1 290.43,44.13 291.8,43.6 Z" fill="url(#gYel)" />
<path d="M291.8,43.6 C293.17,43.07 296.58,42.85 300,42.4 C303.42,41.95 307.97,41.38 312.3,40.9 C316.63,40.42 321.45,39.87 326,39.5 C330.55,39.13 335.1,38.73 339.6,38.7 C344.1,38.67 348.45,38.93 353,39.3 C357.55,39.67 362.23,40.22 366.9,40.9 C371.57,41.58 376.45,42.48 381,43.4 C385.55,44.32 390.03,45.43 394.2,46.4 C398.37,47.37 402.37,48.3 406,49.2 C409.63,50.1 413.73,51.03 416,51.8 C418.27,52.57 418.87,52.77 419.6,53.8 C420.33,54.83 420.27,56.63 420.4,58 C420.53,59.37 420.45,60.62 420.4,62 C420.35,63.38 421.5,65.2 420.1,66.3 C418.7,67.4 414.95,67.95 412,68.6 C409.05,69.25 405.9,69.9 402.4,70.2 C398.9,70.5 394.65,70.53 391,70.4 C387.35,70.27 384,70.05 380.5,69.4 C377,68.75 373.18,67.63 370,66.5 C366.82,65.37 364.73,63.88 361.4,62.6 C358.07,61.32 353.63,59.95 350,58.8 C346.37,57.65 343.6,56.78 339.6,55.7 C335.6,54.62 330.55,53.43 326,52.3 C321.45,51.17 316.63,49.85 312.3,48.9 C307.97,47.95 303.42,47.15 300,46.6 C296.58,46.05 293.17,46.1 291.8,45.6 C290.43,45.1 290.43,44.13 291.8,43.6 Z" fill="#7a6a00" filter="url(#fNoise)" opacity="0.12"/>
<path d="M290.6,33.9 C292.17,34.15 296.43,34.98 300,35.4 C303.57,35.82 308.17,36.15 312,36.4 C315.83,36.65 319,36.8 323,36.9 C327,37 332.83,37.12 336,37 C339.17,36.88 340.33,36.63 342,36.2 C343.67,35.77 344.67,35.23 346,34.4 C347.33,33.57 348.75,32.33 350,31.2 C351.25,30.07 352.47,28.83 353.5,27.6 C354.53,26.37 355.28,25.27 356.2,23.8 C357.12,22.33 358.12,20.4 359,18.8 C359.88,17.2 360.67,15.7 361.5,14.2 C362.33,12.7 363.18,11.17 364,9.8 C364.82,8.43 366,6.63 366.4,6 L416,5.6 C415.58,6.3 414.33,8.53 413.5,9.8 C412.67,11.07 411.92,12 411,13.2 C410.08,14.4 409.07,15.8 408,17 C406.93,18.2 406.27,19.1 404.6,20.4 C402.93,21.7 400.12,23.57 398,24.8 C395.88,26.03 394.4,27 391.9,27.8 C389.4,28.6 385.98,29.13 383,29.6 C380.02,30.07 377.83,30.27 374,30.6 C370.17,30.93 364.23,31.32 360,31.6 C355.77,31.88 352.77,32.18 348.6,32.3 C344.43,32.42 339.23,32.35 335,32.3 C330.77,32.25 328.2,31.92 323.2,32 C318.2,32.08 308.03,32.67 305,32.8 Z" fill="url(#gEco)" opacity="0.9"/>
<path d="M290.6,33.9 C292.17,34.15 296.43,34.98 300,35.4 C303.57,35.82 308.17,36.15 312,36.4 C315.83,36.65 319,36.8 323,36.9 C327,37 332.83,37.12 336,37 C339.17,36.88 340.33,36.63 342,36.2 C343.67,35.77 344.67,35.23 346,34.4 C347.33,33.57 348.75,32.33 350,31.2 C351.25,30.07 352.47,28.83 353.5,27.6 C354.53,26.37 355.28,25.27 356.2,23.8 C357.12,22.33 358.12,20.4 359,18.8 C359.88,17.2 360.67,15.7 361.5,14.2 C362.33,12.7 363.18,11.17 364,9.8 C364.82,8.43 366,6.63 366.4,6" fill="none" stroke="#22a6c6" stroke-width="1.1"/>
<path d="M416,5.6 C415.58,6.3 414.33,8.53 413.5,9.8 C412.67,11.07 411.92,12 411,13.2 C410.08,14.4 409.07,15.8 408,17 C406.93,18.2 406.27,19.1 404.6,20.4 C402.93,21.7 400.12,23.57 398,24.8 C395.88,26.03 394.4,27 391.9,27.8 C389.4,28.6 385.98,29.13 383,29.6 C380.02,30.07 377.83,30.27 374,30.6 C370.17,30.93 364.23,31.32 360,31.6 C355.77,31.88 352.77,32.18 348.6,32.3 C344.43,32.42 339.23,32.35 335,32.3 C330.77,32.25 328.2,31.92 323.2,32 C318.2,32.08 308.03,32.67 305,32.8" fill="none" stroke="#8ccbd6" stroke-width="0.5"/>
<rect x="292.6" y="77" width="11.5" height="4" fill="#7ec7d4" stroke="none" stroke-width="1" rx="0.8"/>
<text x="310.4" y="80.5" font-size="4.2" fill="#333" font-weight="bold" text-anchor="start" >Ecoflex</text>
<rect x="292.6" y="87.4" width="11.5" height="4" fill="#f4c23e" stroke="none" stroke-width="1" rx="0.8"/>
<text x="310.4" y="90.9" font-size="4.2" fill="#333" font-weight="bold" text-anchor="start" >15% HMM</text>
<rect x="292.6" y="96.6" width="11.5" height="4" fill="#e4654c" stroke="none" stroke-width="1" rx="0.8"/>
<text x="310.4" y="100.1" font-size="4.2" fill="#333" font-weight="bold" text-anchor="start" >CSP electrode</text>
<rect x="264.3" y="204.3" width="23.3" height="31.7" fill="#1c1c1c" stroke="none" stroke-width="1" />
<linearGradient id="gPhR" x1="0" y1="0" x2="0" y2="1"><stop offset="0" stop-color="#e8e8e8"/><stop offset="0.6" stop-color="#9a9a9a"/><stop offset="1" stop-color="#3a3a3a"/></linearGradient>
<polygon points="281.5,204.3 287.6,204.3 287.6,221 283.5,220" fill="url(#gPhR)" />
<linearGradient id="gSkin" x1="0" y1="0" x2="1" y2="1"><stop offset="0" stop-color="#b9835c"/><stop offset="0.5" stop-color="#d19f78"/><stop offset="1" stop-color="#c08a62"/></linearGradient>
<path d="M264.3,204.3 L283.8,204.3 C283.2,207 282.7,210 282.8,213 C283.2,218 283.8,224 284,229 C283.8,232 283,234.5 281.8,235.6 C278,231 274,226.5 270.5,222.5 C268.5,220 266.3,218 264.3,216 Z" fill="url(#gSkin)" />
<rect x="270.6" y="206.4" width="5.9" height="7.8" fill="#dcdcdc" stroke="none" stroke-width="1" transform="rotate(8 273.5 210.3)"/>
<rect x="271.8" y="207.8" width="3.6" height="4.3" fill="#6a6a6a" stroke="none" stroke-width="1" transform="rotate(8 273.5 210.3)"/>
<linearGradient id="gArm" x1="0" y1="0" x2="1" y2="0"><stop offset="0" stop-color="#e2c4ae"/><stop offset="0.35" stop-color="#f2e0d0"/><stop offset="1" stop-color="#eed8c4"/></linearGradient>
<path d="M338.5,235.8 C339.57,233.9 342.78,235.6 345,235.6 C347.22,235.6 350.6,234.9 351.8,235.8 C353,236.7 352.03,239.22 352.2,241 C352.37,242.78 352.33,245.08 352.8,246.5 C353.27,247.92 353.97,248.67 355,249.5 C356.03,250.33 357.67,250.83 359,251.5 C360.33,252.17 361.75,252.67 363,253.5 C364.25,254.33 365.67,255.33 366.5,256.5 C367.33,257.67 367.92,259.25 368,260.5 C368.08,261.75 368,263.15 367,264 C366,264.85 364.5,265.27 362,265.6 C359.5,265.93 355,266 352,266 C349,266 345.97,265.85 344,265.6 C342.03,265.35 341,265.93 340.2,264.5 C339.4,263.07 339.47,259.92 339.2,257 C338.93,254.08 338.72,250.53 338.6,247 C338.48,243.47 337.43,237.7 338.5,235.8 Z" fill="url(#gArm)" />
<path d="M352.8,247 C350,249.5 349.5,252.5 351.5,254.5 C354,256.5 357,258 360,260" fill="none" stroke="#c9a48a" stroke-width="0.5"/>
<rect x="346.2" y="244.8" width="6.8" height="5.2" fill="#c9d9b0" stroke="none" stroke-width="1" />
<rect x="346.8" y="245.2" width="0.9" height="4.4" fill="#6fc07a" stroke="none" stroke-width="1" />
<rect x="348.4" y="245.2" width="0.9" height="4.4" fill="#e48aa8" stroke="none" stroke-width="1" />
<rect x="350" y="245.2" width="0.9" height="4.4" fill="#6fc07a" stroke="none" stroke-width="1" />
<rect x="351.6" y="245.2" width="0.9" height="4.4" fill="#9ad0a0" stroke="none" stroke-width="1" />
<text x="356.8" y="264.8" font-size="4.6" fill="#111" font-weight="normal" text-anchor="start" >Radial</text>
</svg></body></html>
